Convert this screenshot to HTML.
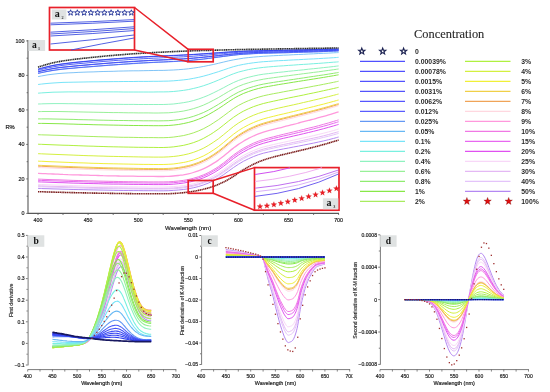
<!DOCTYPE html>
<html><head><meta charset="utf-8"><style>
html,body{margin:0;padding:0;background:#fff;}
svg{display:block;will-change:transform;}
</style></head><body>
<svg width="550" height="392" viewBox="0 0 550 392">
<rect width="550" height="392" fill="#fff"/>
<path d="M38.0 191.7C38.8 191.7 41.3 191.8 43.0 191.8C44.7 191.9 46.3 191.9 48.0 192.0C49.7 192.0 51.4 192.1 53.0 192.1C54.7 192.2 56.4 192.2 58.0 192.3C59.7 192.3 61.4 192.3 63.0 192.4C64.7 192.4 66.4 192.5 68.1 192.5C69.7 192.6 71.4 192.6 73.1 192.6C74.7 192.7 76.4 192.7 78.1 192.8C79.8 192.8 81.4 192.8 83.1 192.9C84.8 192.9 86.4 192.9 88.1 193.0C89.8 193.0 91.4 193.0 93.1 193.1C94.8 193.1 96.5 193.1 98.1 193.2C99.8 193.2 101.5 193.2 103.1 193.3C104.8 193.3 106.5 193.3 108.1 193.3C109.8 193.4 111.5 193.4 113.2 193.4C114.8 193.4 116.5 193.5 118.2 193.5C119.8 193.5 121.5 193.5 123.2 193.5C124.8 193.6 126.5 193.6 128.2 193.6C129.8 193.6 131.5 193.6 133.2 193.7C134.9 193.7 136.5 193.7 138.2 193.7C139.9 193.7 141.5 193.7 143.2 193.7C144.9 193.7 146.5 193.8 148.2 193.8C149.9 193.8 151.6 193.8 153.2 193.8C154.9 193.8 156.6 193.8 158.2 193.8C159.9 193.8 161.6 193.8 163.2 193.8C164.9 193.8 166.6 193.8 168.3 193.7C169.9 193.7 171.6 193.6 173.3 193.5C174.9 193.4 176.6 193.3 178.3 193.2C179.9 193.0 181.6 192.9 183.3 192.7C185.0 192.5 186.6 192.3 188.3 192.1C190.0 191.9 191.6 191.6 193.3 191.3C195.0 191.1 196.6 190.8 198.3 190.4C200.0 190.1 201.7 189.7 203.3 189.3C205.0 188.9 206.7 188.5 208.3 188.0C210.0 187.5 211.7 186.9 213.3 186.3C215.0 185.8 216.7 185.1 218.4 184.4C220.0 183.7 221.7 183.0 223.4 182.2C225.0 181.4 226.7 180.5 228.4 179.5C230.0 178.6 231.7 177.5 233.4 176.4C235.1 175.4 236.7 174.1 238.4 173.0C240.1 171.9 241.7 170.8 243.4 169.8C245.1 168.8 246.8 167.8 248.4 166.9C250.1 166.0 251.8 165.1 253.4 164.3C255.1 163.5 256.8 162.7 258.4 162.0C260.1 161.3 261.8 160.7 263.4 160.1C265.1 159.4 266.8 158.9 268.5 158.4C270.1 157.9 271.8 157.4 273.5 157.0C275.1 156.5 276.8 156.1 278.5 155.7C280.2 155.3 281.8 154.9 283.5 154.5C285.2 154.1 286.8 153.7 288.5 153.3C290.2 152.9 291.8 152.5 293.5 152.1C295.2 151.7 296.8 151.3 298.5 150.9C300.2 150.5 301.9 150.1 303.5 149.7C305.2 149.3 306.9 148.9 308.5 148.5C310.2 148.0 311.9 147.6 313.6 147.2C315.2 146.8 316.9 146.3 318.6 145.9C320.2 145.4 321.9 145.0 323.6 144.5C325.2 144.1 326.9 143.6 328.6 143.1C330.2 142.6 331.9 142.1 333.6 141.6C335.3 141.1 337.8 140.3 338.6 140.1" fill="none" stroke="#7a1c1c" stroke-width="1.60" stroke-dasharray="1.3 0.5"/>
<path d="M38.0 188.4C38.8 188.4 41.3 188.5 43.0 188.6C44.7 188.6 46.3 188.7 48.0 188.7C49.7 188.8 51.4 188.8 53.0 188.9C54.7 188.9 56.4 189.0 58.0 189.0C59.7 189.1 61.4 189.1 63.0 189.2C64.7 189.2 66.4 189.3 68.1 189.3C69.7 189.4 71.4 189.4 73.1 189.5C74.7 189.5 76.4 189.5 78.1 189.6C79.8 189.6 81.4 189.7 83.1 189.7C84.8 189.8 86.4 189.8 88.1 189.8C89.8 189.9 91.4 189.9 93.1 189.9C94.8 190.0 96.5 190.0 98.1 190.0C99.8 190.1 101.5 190.1 103.1 190.1C104.8 190.2 106.5 190.2 108.1 190.2C109.8 190.3 111.5 190.3 113.2 190.3C114.8 190.3 116.5 190.4 118.2 190.4C119.8 190.4 121.5 190.4 123.2 190.5C124.8 190.5 126.5 190.5 128.2 190.5C129.8 190.5 131.5 190.6 133.2 190.6C134.9 190.6 136.5 190.6 138.2 190.6C139.9 190.6 141.5 190.7 143.2 190.7C144.9 190.7 146.5 190.7 148.2 190.7C149.9 190.7 151.6 190.7 153.2 190.7C154.9 190.7 156.6 190.7 158.2 190.8C159.9 190.8 161.6 190.8 163.2 190.8C164.9 190.7 166.6 190.7 168.3 190.7C169.9 190.6 171.6 190.5 173.3 190.4C174.9 190.3 176.6 190.2 178.3 190.0C179.9 189.9 181.6 189.7 183.3 189.5C185.0 189.3 186.6 189.1 188.3 188.8C190.0 188.5 191.6 188.2 193.3 187.8C195.0 187.4 196.6 187.0 198.3 186.6C200.0 186.1 201.7 185.6 203.3 185.0C205.0 184.4 206.7 183.8 208.3 183.1C210.0 182.4 211.7 181.6 213.3 180.7C215.0 179.9 216.7 179.0 218.4 178.0C220.0 177.0 221.7 175.9 223.4 174.8C225.0 173.7 226.7 172.4 228.4 171.2C230.0 170.0 231.7 168.7 233.4 167.6C235.1 166.4 236.7 165.3 238.4 164.3C240.1 163.2 241.7 162.3 243.4 161.3C245.1 160.4 246.8 159.6 248.4 158.8C250.1 158.0 251.8 157.3 253.4 156.6C255.1 155.9 256.8 155.3 258.4 154.7C260.1 154.2 261.8 153.7 263.4 153.2C265.1 152.8 266.8 152.4 268.5 152.0C270.1 151.6 271.8 151.3 273.5 150.9C275.1 150.6 276.8 150.3 278.5 149.9C280.2 149.6 281.8 149.3 283.5 148.9C285.2 148.6 286.8 148.3 288.5 148.0C290.2 147.7 291.8 147.4 293.5 147.0C295.2 146.7 296.8 146.4 298.5 146.1C300.2 145.8 301.9 145.4 303.5 145.1C305.2 144.8 306.9 144.5 308.5 144.1C310.2 143.8 311.9 143.4 313.6 143.1C315.2 142.7 316.9 142.4 318.6 142.0C320.2 141.7 321.9 141.3 323.6 140.9C325.2 140.5 326.9 140.1 328.6 139.7C330.2 139.3 331.9 138.9 333.6 138.4C335.3 138.0 337.8 137.2 338.6 137.0" fill="none" stroke="#b488f2" stroke-width="1.00" />
<path d="M38.0 186.7C38.8 186.7 41.3 186.8 43.0 186.8C44.7 186.9 46.3 187.0 48.0 187.0C49.7 187.1 51.4 187.1 53.0 187.2C54.7 187.2 56.4 187.3 58.0 187.3C59.7 187.4 61.4 187.4 63.0 187.5C64.7 187.5 66.4 187.6 68.1 187.6C69.7 187.7 71.4 187.7 73.1 187.8C74.7 187.8 76.4 187.9 78.1 187.9C79.8 188.0 81.4 188.0 83.1 188.0C84.8 188.1 86.4 188.1 88.1 188.2C89.8 188.2 91.4 188.2 93.1 188.3C94.8 188.3 96.5 188.4 98.1 188.4C99.8 188.4 101.5 188.5 103.1 188.5C104.8 188.5 106.5 188.6 108.1 188.6C109.8 188.6 111.5 188.6 113.2 188.7C114.8 188.7 116.5 188.7 118.2 188.8C119.8 188.8 121.5 188.8 123.2 188.8C124.8 188.9 126.5 188.9 128.2 188.9C129.8 188.9 131.5 188.9 133.2 189.0C134.9 189.0 136.5 189.0 138.2 189.0C139.9 189.0 141.5 189.0 143.2 189.1C144.9 189.1 146.5 189.1 148.2 189.1C149.9 189.1 151.6 189.1 153.2 189.1C154.9 189.1 156.6 189.1 158.2 189.1C159.9 189.1 161.6 189.1 163.2 189.1C164.9 189.1 166.6 189.1 168.3 189.0C169.9 189.0 171.6 188.9 173.3 188.8C174.9 188.7 176.6 188.5 178.3 188.4C179.9 188.2 181.6 188.0 183.3 187.8C185.0 187.6 186.6 187.4 188.3 187.1C190.0 186.8 191.6 186.4 193.3 186.1C195.0 185.7 196.6 185.2 198.3 184.8C200.0 184.3 201.7 183.7 203.3 183.1C205.0 182.5 206.7 181.9 208.3 181.1C210.0 180.4 211.7 179.6 213.3 178.7C215.0 177.8 216.7 176.9 218.4 175.8C220.0 174.8 221.7 173.7 223.4 172.5C225.0 171.4 226.7 170.1 228.4 168.9C230.0 167.6 231.7 166.3 233.4 165.1C235.1 163.9 236.7 162.8 238.4 161.8C240.1 160.7 241.7 159.7 243.4 158.8C245.1 157.8 246.8 157.0 248.4 156.2C250.1 155.4 251.8 154.6 253.4 153.9C255.1 153.2 256.8 152.6 258.4 152.0C260.1 151.4 261.8 150.9 263.4 150.5C265.1 150.0 266.8 149.6 268.5 149.2C270.1 148.8 271.8 148.4 273.5 148.1C275.1 147.7 276.8 147.3 278.5 147.0C280.2 146.6 281.8 146.3 283.5 146.0C285.2 145.6 286.8 145.3 288.5 145.0C290.2 144.6 291.8 144.3 293.5 143.9C295.2 143.6 296.8 143.3 298.5 142.9C300.2 142.6 301.9 142.2 303.5 141.9C305.2 141.5 306.9 141.2 308.5 140.8C310.2 140.5 311.9 140.1 313.6 139.7C315.2 139.4 316.9 139.0 318.6 138.6C320.2 138.2 321.9 137.8 323.6 137.4C325.2 137.0 326.9 136.6 328.6 136.2C330.2 135.8 331.9 135.3 333.6 134.8C335.3 134.4 337.8 133.6 338.6 133.4" fill="none" stroke="#e4c4fa" stroke-width="1.00" />
<path d="M38.0 185.8C38.8 185.8 41.3 185.9 43.0 186.0C44.7 186.0 46.3 186.1 48.0 186.2C49.7 186.2 51.4 186.3 53.0 186.3C54.7 186.4 56.4 186.4 58.0 186.5C59.7 186.5 61.4 186.6 63.0 186.6C64.7 186.7 66.4 186.7 68.1 186.8C69.7 186.8 71.4 186.9 73.1 186.9C74.7 187.0 76.4 187.0 78.1 187.1C79.8 187.1 81.4 187.2 83.1 187.2C84.8 187.3 86.4 187.3 88.1 187.3C89.8 187.4 91.4 187.4 93.1 187.5C94.8 187.5 96.5 187.5 98.1 187.6C99.8 187.6 101.5 187.6 103.1 187.7C104.8 187.7 106.5 187.7 108.1 187.8C109.8 187.8 111.5 187.8 113.2 187.9C114.8 187.9 116.5 187.9 118.2 187.9C119.8 188.0 121.5 188.0 123.2 188.0C124.8 188.0 126.5 188.1 128.2 188.1C129.8 188.1 131.5 188.1 133.2 188.1C134.9 188.2 136.5 188.2 138.2 188.2C139.9 188.2 141.5 188.2 143.2 188.2C144.9 188.3 146.5 188.3 148.2 188.3C149.9 188.3 151.6 188.3 153.2 188.3C154.9 188.3 156.6 188.3 158.2 188.3C159.9 188.3 161.6 188.3 163.2 188.3C164.9 188.3 166.6 188.3 168.3 188.2C169.9 188.2 171.6 188.1 173.3 188.0C174.9 187.9 176.6 187.7 178.3 187.5C179.9 187.4 181.6 187.2 183.3 187.0C185.0 186.7 186.6 186.5 188.3 186.2C190.0 185.9 191.6 185.6 193.3 185.2C195.0 184.8 196.6 184.4 198.3 183.9C200.0 183.4 201.7 182.8 203.3 182.2C205.0 181.6 206.7 180.9 208.3 180.1C210.0 179.4 211.7 178.6 213.3 177.7C215.0 176.8 216.7 175.8 218.4 174.8C220.0 173.7 221.7 172.6 223.4 171.4C225.0 170.2 226.7 168.9 228.4 167.7C230.0 166.5 231.7 165.1 233.4 163.9C235.1 162.7 236.7 161.6 238.4 160.5C240.1 159.5 241.7 158.5 243.4 157.5C245.1 156.6 246.8 155.7 248.4 154.9C250.1 154.1 251.8 153.3 253.4 152.6C255.1 151.9 256.8 151.3 258.4 150.7C260.1 150.1 261.8 149.6 263.4 149.1C265.1 148.6 266.8 148.2 268.5 147.8C270.1 147.4 271.8 147.0 273.5 146.7C275.1 146.3 276.8 145.9 278.5 145.6C280.2 145.2 281.8 144.9 283.5 144.5C285.2 144.2 286.8 143.8 288.5 143.5C290.2 143.1 291.8 142.8 293.5 142.4C295.2 142.1 296.8 141.7 298.5 141.4C300.2 141.0 301.9 140.7 303.5 140.3C305.2 140.0 306.9 139.6 308.5 139.2C310.2 138.9 311.9 138.5 313.6 138.1C315.2 137.7 316.9 137.4 318.6 137.0C320.2 136.6 321.9 136.2 323.6 135.8C325.2 135.4 326.9 134.9 328.6 134.5C330.2 134.1 331.9 133.6 333.6 133.1C335.3 132.7 337.8 131.9 338.6 131.7" fill="none" stroke="#e4b8f4" stroke-width="1.00" />
<path d="M38.0 184.4C38.8 184.5 41.3 184.5 43.0 184.6C44.7 184.7 46.3 184.7 48.0 184.8C49.7 184.8 51.4 184.9 53.0 185.0C54.7 185.0 56.4 185.1 58.0 185.1C59.7 185.2 61.4 185.2 63.0 185.3C64.7 185.3 66.4 185.4 68.1 185.4C69.7 185.5 71.4 185.5 73.1 185.6C74.7 185.6 76.4 185.7 78.1 185.7C79.8 185.8 81.4 185.8 83.1 185.9C84.8 185.9 86.4 186.0 88.1 186.0C89.8 186.0 91.4 186.1 93.1 186.1C94.8 186.2 96.5 186.2 98.1 186.2C99.8 186.3 101.5 186.3 103.1 186.3C104.8 186.4 106.5 186.4 108.1 186.4C109.8 186.5 111.5 186.5 113.2 186.5C114.8 186.6 116.5 186.6 118.2 186.6C119.8 186.7 121.5 186.7 123.2 186.7C124.8 186.7 126.5 186.7 128.2 186.8C129.8 186.8 131.5 186.8 133.2 186.8C134.9 186.9 136.5 186.9 138.2 186.9C139.9 186.9 141.5 186.9 143.2 186.9C144.9 186.9 146.5 187.0 148.2 187.0C149.9 187.0 151.6 187.0 153.2 187.0C154.9 187.0 156.6 187.0 158.2 187.0C159.9 187.0 161.6 187.0 163.2 187.0C164.9 187.0 166.6 187.0 168.3 186.9C169.9 186.9 171.6 186.8 173.3 186.6C174.9 186.5 176.6 186.4 178.3 186.2C179.9 186.0 181.6 185.9 183.3 185.6C185.0 185.4 186.6 185.1 188.3 184.8C190.0 184.5 191.6 184.2 193.3 183.8C195.0 183.4 196.6 182.9 198.3 182.4C200.0 181.9 201.7 181.3 203.3 180.7C205.0 180.1 206.7 179.4 208.3 178.6C210.0 177.8 211.7 177.0 213.3 176.0C215.0 175.1 216.7 174.1 218.4 173.1C220.0 172.0 221.7 170.9 223.4 169.7C225.0 168.5 226.7 167.1 228.4 165.9C230.0 164.6 231.7 163.3 233.4 162.0C235.1 160.8 236.7 159.7 238.4 158.6C240.1 157.5 241.7 156.5 243.4 155.5C245.1 154.6 246.8 153.7 248.4 152.9C250.1 152.1 251.8 151.3 253.4 150.6C255.1 149.9 256.8 149.2 258.4 148.6C260.1 148.0 261.8 147.5 263.4 147.0C265.1 146.5 266.8 146.1 268.5 145.7C270.1 145.3 271.8 144.9 273.5 144.5C275.1 144.1 276.8 143.7 278.5 143.4C280.2 143.0 281.8 142.6 283.5 142.3C285.2 141.9 286.8 141.6 288.5 141.2C290.2 140.8 291.8 140.5 293.5 140.1C295.2 139.8 296.8 139.4 298.5 139.0C300.2 138.7 301.9 138.3 303.5 137.9C305.2 137.6 306.9 137.2 308.5 136.8C310.2 136.4 311.9 136.0 313.6 135.6C315.2 135.2 316.9 134.9 318.6 134.4C320.2 134.0 321.9 133.6 323.6 133.2C325.2 132.8 326.9 132.3 328.6 131.9C330.2 131.4 331.9 131.0 333.6 130.5C335.3 130.0 337.8 129.3 338.6 129.0" fill="none" stroke="#f8d8f8" stroke-width="1.00" />
<path d="M38.0 181.8C38.8 181.9 41.3 182.0 43.0 182.0C44.7 182.1 46.3 182.1 48.0 182.2C49.7 182.3 51.4 182.3 53.0 182.4C54.7 182.5 56.4 182.5 58.0 182.6C59.7 182.6 61.4 182.7 63.0 182.7C64.7 182.8 66.4 182.9 68.1 182.9C69.7 183.0 71.4 183.0 73.1 183.1C74.7 183.1 76.4 183.2 78.1 183.2C79.8 183.3 81.4 183.3 83.1 183.4C84.8 183.4 86.4 183.4 88.1 183.5C89.8 183.5 91.4 183.6 93.1 183.6C94.8 183.7 96.5 183.7 98.1 183.7C99.8 183.8 101.5 183.8 103.1 183.9C104.8 183.9 106.5 183.9 108.1 184.0C109.8 184.0 111.5 184.0 113.2 184.1C114.8 184.1 116.5 184.1 118.2 184.1C119.8 184.2 121.5 184.2 123.2 184.2C124.8 184.3 126.5 184.3 128.2 184.3C129.8 184.3 131.5 184.4 133.2 184.4C134.9 184.4 136.5 184.4 138.2 184.4C139.9 184.4 141.5 184.5 143.2 184.5C144.9 184.5 146.5 184.5 148.2 184.5C149.9 184.5 151.6 184.5 153.2 184.6C154.9 184.6 156.6 184.6 158.2 184.6C159.9 184.6 161.6 184.6 163.2 184.6C164.9 184.6 166.6 184.5 168.3 184.5C169.9 184.4 171.6 184.3 173.3 184.2C174.9 184.1 176.6 183.9 178.3 183.7C179.9 183.5 181.6 183.3 183.3 183.1C185.0 182.8 186.6 182.6 188.3 182.2C190.0 181.9 191.6 181.6 193.3 181.1C195.0 180.7 196.6 180.2 198.3 179.7C200.0 179.2 201.7 178.6 203.3 177.9C205.0 177.2 206.7 176.5 208.3 175.7C210.0 174.9 211.7 174.0 213.3 173.0C215.0 172.1 216.7 171.0 218.4 169.9C220.0 168.8 221.7 167.6 223.4 166.4C225.0 165.2 226.7 163.8 228.4 162.5C230.0 161.2 231.7 159.8 233.4 158.6C235.1 157.4 236.7 156.2 238.4 155.1C240.1 154.0 241.7 152.9 243.4 152.0C245.1 151.0 246.8 150.1 248.4 149.3C250.1 148.4 251.8 147.6 253.4 146.9C255.1 146.2 256.8 145.5 258.4 144.9C260.1 144.3 261.8 143.8 263.4 143.3C265.1 142.8 266.8 142.3 268.5 141.9C270.1 141.4 271.8 141.0 273.5 140.6C275.1 140.2 276.8 139.8 278.5 139.5C280.2 139.1 281.8 138.7 283.5 138.3C285.2 137.9 286.8 137.5 288.5 137.2C290.2 136.8 291.8 136.4 293.5 136.0C295.2 135.6 296.8 135.2 298.5 134.9C300.2 134.5 301.9 134.1 303.5 133.7C305.2 133.3 306.9 132.9 308.5 132.5C310.2 132.1 311.9 131.7 313.6 131.3C315.2 130.9 316.9 130.4 318.6 130.0C320.2 129.6 321.9 129.1 323.6 128.7C325.2 128.3 326.9 127.8 328.6 127.3C330.2 126.9 331.9 126.4 333.6 125.9C335.3 125.4 337.8 124.6 338.6 124.4" fill="none" stroke="#e050f0" stroke-width="1.00" />
<path d="M38.0 180.3C38.8 180.3 41.3 180.4 43.0 180.5C44.7 180.5 46.3 180.6 48.0 180.7C49.7 180.7 51.4 180.8 53.0 180.9C54.7 180.9 56.4 181.0 58.0 181.0C59.7 181.1 61.4 181.2 63.0 181.2C64.7 181.3 66.4 181.3 68.1 181.4C69.7 181.4 71.4 181.5 73.1 181.5C74.7 181.6 76.4 181.6 78.1 181.7C79.8 181.7 81.4 181.8 83.1 181.8C84.8 181.9 86.4 181.9 88.1 182.0C89.8 182.0 91.4 182.1 93.1 182.1C94.8 182.2 96.5 182.2 98.1 182.2C99.8 182.3 101.5 182.3 103.1 182.4C104.8 182.4 106.5 182.4 108.1 182.5C109.8 182.5 111.5 182.5 113.2 182.6C114.8 182.6 116.5 182.6 118.2 182.7C119.8 182.7 121.5 182.7 123.2 182.7C124.8 182.8 126.5 182.8 128.2 182.8C129.8 182.8 131.5 182.9 133.2 182.9C134.9 182.9 136.5 182.9 138.2 182.9C139.9 183.0 141.5 183.0 143.2 183.0C144.9 183.0 146.5 183.0 148.2 183.0C149.9 183.1 151.6 183.1 153.2 183.1C154.9 183.1 156.6 183.1 158.2 183.1C159.9 183.1 161.6 183.1 163.2 183.1C164.9 183.1 166.6 183.1 168.3 183.0C169.9 182.9 171.6 182.8 173.3 182.7C174.9 182.6 176.6 182.4 178.3 182.2C179.9 182.0 181.6 181.8 183.3 181.6C185.0 181.3 186.6 181.0 188.3 180.7C190.0 180.4 191.6 180.0 193.3 179.5C195.0 179.1 196.6 178.6 198.3 178.1C200.0 177.5 201.7 176.9 203.3 176.2C205.0 175.5 206.7 174.8 208.3 174.0C210.0 173.1 211.7 172.2 213.3 171.2C215.0 170.3 216.7 169.2 218.4 168.1C220.0 167.0 221.7 165.8 223.4 164.5C225.0 163.2 226.7 161.9 228.4 160.6C230.0 159.2 231.7 157.8 233.4 156.6C235.1 155.3 236.7 154.1 238.4 153.0C240.1 151.9 241.7 150.9 243.4 149.9C245.1 148.9 246.8 148.0 248.4 147.2C250.1 146.3 251.8 145.5 253.4 144.8C255.1 144.1 256.8 143.4 258.4 142.8C260.1 142.2 261.8 141.6 263.4 141.1C265.1 140.6 266.8 140.1 268.5 139.7C270.1 139.2 271.8 138.8 273.5 138.4C275.1 138.0 276.8 137.6 278.5 137.2C280.2 136.8 281.8 136.4 283.5 136.0C285.2 135.6 286.8 135.2 288.5 134.9C290.2 134.5 291.8 134.1 293.5 133.7C295.2 133.3 296.8 132.9 298.5 132.5C300.2 132.1 301.9 131.7 303.5 131.3C305.2 130.9 306.9 130.5 308.5 130.1C310.2 129.6 311.9 129.2 313.6 128.8C315.2 128.4 316.9 128.0 318.6 127.5C320.2 127.1 321.9 126.6 323.6 126.2C325.2 125.7 326.9 125.3 328.6 124.8C330.2 124.3 331.9 123.8 333.6 123.3C335.3 122.8 337.8 122.0 338.6 121.8" fill="none" stroke="#e868f0" stroke-width="1.00" />
<path d="M38.0 179.1C38.8 179.1 41.3 179.2 43.0 179.3C44.7 179.3 46.3 179.4 48.0 179.5C49.7 179.5 51.4 179.6 53.0 179.7C54.7 179.7 56.4 179.8 58.0 179.8C59.7 179.9 61.4 180.0 63.0 180.0C64.7 180.1 66.4 180.1 68.1 180.2C69.7 180.2 71.4 180.3 73.1 180.4C74.7 180.4 76.4 180.5 78.1 180.5C79.8 180.6 81.4 180.6 83.1 180.7C84.8 180.7 86.4 180.8 88.1 180.8C89.8 180.9 91.4 180.9 93.1 180.9C94.8 181.0 96.5 181.0 98.1 181.1C99.8 181.1 101.5 181.2 103.1 181.2C104.8 181.2 106.5 181.3 108.1 181.3C109.8 181.3 111.5 181.4 113.2 181.4C114.8 181.4 116.5 181.5 118.2 181.5C119.8 181.5 121.5 181.6 123.2 181.6C124.8 181.6 126.5 181.6 128.2 181.7C129.8 181.7 131.5 181.7 133.2 181.7C134.9 181.8 136.5 181.8 138.2 181.8C139.9 181.8 141.5 181.8 143.2 181.8C144.9 181.9 146.5 181.9 148.2 181.9C149.9 181.9 151.6 181.9 153.2 181.9C154.9 181.9 156.6 181.9 158.2 181.9C159.9 181.9 161.6 182.0 163.2 181.9C164.9 181.9 166.6 181.9 168.3 181.8C169.9 181.8 171.6 181.7 173.3 181.5C174.9 181.4 176.6 181.2 178.3 181.0C179.9 180.9 181.6 180.6 183.3 180.4C185.0 180.1 186.6 179.8 188.3 179.5C190.0 179.1 191.6 178.8 193.3 178.3C195.0 177.9 196.6 177.4 198.3 176.8C200.0 176.2 201.7 175.6 203.3 174.9C205.0 174.2 206.7 173.5 208.3 172.6C210.0 171.8 211.7 170.8 213.3 169.8C215.0 168.9 216.7 167.8 218.4 166.7C220.0 165.5 221.7 164.3 223.4 163.0C225.0 161.8 226.7 160.4 228.4 159.0C230.0 157.7 231.7 156.3 233.4 155.0C235.1 153.8 236.7 152.6 238.4 151.5C240.1 150.3 241.7 149.3 243.4 148.3C245.1 147.3 246.8 146.4 248.4 145.6C250.1 144.7 251.8 143.9 253.4 143.2C255.1 142.5 256.8 141.8 258.4 141.2C260.1 140.5 261.8 140.0 263.4 139.5C265.1 138.9 266.8 138.5 268.5 138.0C270.1 137.6 271.8 137.2 273.5 136.8C275.1 136.3 276.8 135.9 278.5 135.5C280.2 135.1 281.8 134.7 283.5 134.3C285.2 133.9 286.8 133.5 288.5 133.1C290.2 132.7 291.8 132.3 293.5 131.9C295.2 131.5 296.8 131.1 298.5 130.7C300.2 130.3 301.9 129.9 303.5 129.5C305.2 129.1 306.9 128.7 308.5 128.2C310.2 127.8 311.9 127.4 313.6 127.0C315.2 126.5 316.9 126.1 318.6 125.7C320.2 125.2 321.9 124.8 323.6 124.3C325.2 123.8 326.9 123.4 328.6 122.9C330.2 122.4 331.9 121.9 333.6 121.4C335.3 120.9 337.8 120.1 338.6 119.9" fill="none" stroke="#f078e4" stroke-width="1.00" />
<path d="M38.0 173.4C38.8 173.4 41.3 173.5 43.0 173.6C44.7 173.7 46.3 173.7 48.0 173.8C49.7 173.9 51.4 173.9 53.0 174.0C54.7 174.1 56.4 174.1 58.0 174.2C59.7 174.3 61.4 174.3 63.0 174.4C64.7 174.4 66.4 174.5 68.1 174.6C69.7 174.6 71.4 174.7 73.1 174.8C74.7 174.8 76.4 174.9 78.1 174.9C79.8 175.0 81.4 175.0 83.1 175.1C84.8 175.1 86.4 175.2 88.1 175.2C89.8 175.3 91.4 175.3 93.1 175.4C94.8 175.4 96.5 175.5 98.1 175.5C99.8 175.6 101.5 175.6 103.1 175.7C104.8 175.7 106.5 175.7 108.1 175.8C109.8 175.8 111.5 175.8 113.2 175.9C114.8 175.9 116.5 176.0 118.2 176.0C119.8 176.0 121.5 176.1 123.2 176.1C124.8 176.1 126.5 176.1 128.2 176.2C129.8 176.2 131.5 176.2 133.2 176.2C134.9 176.3 136.5 176.3 138.2 176.3C139.9 176.3 141.5 176.3 143.2 176.4C144.9 176.4 146.5 176.4 148.2 176.4C149.9 176.4 151.6 176.4 153.2 176.4C154.9 176.5 156.6 176.5 158.2 176.5C159.9 176.5 161.6 176.5 163.2 176.5C164.9 176.4 166.6 176.4 168.3 176.3C169.9 176.3 171.6 176.2 173.3 176.0C174.9 175.9 176.6 175.7 178.3 175.5C179.9 175.3 181.6 175.0 183.3 174.8C185.0 174.5 186.6 174.2 188.3 173.8C190.0 173.4 191.6 173.0 193.3 172.5C195.0 172.0 196.6 171.5 198.3 170.9C200.0 170.3 201.7 169.6 203.3 168.8C205.0 168.1 206.7 167.3 208.3 166.4C210.0 165.5 211.7 164.5 213.3 163.4C215.0 162.4 216.7 161.3 218.4 160.1C220.0 158.9 221.7 157.6 223.4 156.3C225.0 155.0 226.7 153.5 228.4 152.2C230.0 150.8 231.7 149.3 233.4 148.1C235.1 146.8 236.7 145.6 238.4 144.4C240.1 143.3 241.7 142.2 243.4 141.2C245.1 140.2 246.8 139.3 248.4 138.4C250.1 137.6 251.8 136.8 253.4 136.0C255.1 135.3 256.8 134.6 258.4 133.9C260.1 133.3 261.8 132.7 263.4 132.2C265.1 131.7 266.8 131.2 268.5 130.7C270.1 130.3 271.8 129.8 273.5 129.4C275.1 129.0 276.8 128.5 278.5 128.1C280.2 127.7 281.8 127.3 283.5 126.8C285.2 126.4 286.8 126.0 288.5 125.6C290.2 125.2 291.8 124.7 293.5 124.3C295.2 123.9 296.8 123.5 298.5 123.0C300.2 122.6 301.9 122.2 303.5 121.7C305.2 121.3 306.9 120.9 308.5 120.4C310.2 120.0 311.9 119.5 313.6 119.1C315.2 118.6 316.9 118.2 318.6 117.7C320.2 117.2 321.9 116.8 323.6 116.3C325.2 115.8 326.9 115.3 328.6 114.8C330.2 114.3 331.9 113.8 333.6 113.3C335.3 112.8 337.8 112.0 338.6 111.8" fill="none" stroke="#ff98dc" stroke-width="1.30" />
<path d="M38.0 167.5C38.8 167.6 41.3 167.7 43.0 167.7C44.7 167.8 46.3 167.9 48.0 167.9C49.7 168.0 51.4 168.1 53.0 168.1C54.7 168.2 56.4 168.3 58.0 168.4C59.7 168.4 61.4 168.5 63.0 168.6C64.7 168.6 66.4 168.7 68.1 168.8C69.7 168.8 71.4 168.9 73.1 168.9C74.7 169.0 76.4 169.1 78.1 169.1C79.8 169.2 81.4 169.2 83.1 169.3C84.8 169.3 86.4 169.4 88.1 169.5C89.8 169.5 91.4 169.6 93.1 169.6C94.8 169.7 96.5 169.7 98.1 169.8C99.8 169.8 101.5 169.8 103.1 169.9C104.8 169.9 106.5 170.0 108.1 170.0C109.8 170.1 111.5 170.1 113.2 170.1C114.8 170.2 116.5 170.2 118.2 170.3C119.8 170.3 121.5 170.3 123.2 170.4C124.8 170.4 126.5 170.4 128.2 170.4C129.8 170.5 131.5 170.5 133.2 170.5C134.9 170.5 136.5 170.6 138.2 170.6C139.9 170.6 141.5 170.6 143.2 170.7C144.9 170.7 146.5 170.7 148.2 170.7C149.9 170.7 151.6 170.7 153.2 170.7C154.9 170.8 156.6 170.8 158.2 170.8C159.9 170.8 161.6 170.8 163.2 170.8C164.9 170.7 166.6 170.7 168.3 170.6C169.9 170.5 171.6 170.4 173.3 170.3C174.9 170.1 176.6 169.9 178.3 169.7C179.9 169.5 181.6 169.2 183.3 168.9C185.0 168.6 186.6 168.3 188.3 167.9C190.0 167.5 191.6 167.0 193.3 166.5C195.0 166.0 196.6 165.4 198.3 164.8C200.0 164.1 201.7 163.4 203.3 162.6C205.0 161.9 206.7 161.0 208.3 160.0C210.0 159.1 211.7 158.1 213.3 157.0C215.0 155.9 216.7 154.7 218.4 153.5C220.0 152.3 221.7 151.0 223.4 149.6C225.0 148.3 226.7 146.8 228.4 145.4C230.0 144.0 231.7 142.6 233.4 141.3C235.1 140.0 236.7 138.8 238.4 137.6C240.1 136.5 241.7 135.4 243.4 134.4C245.1 133.5 246.8 132.5 248.4 131.7C250.1 130.8 251.8 130.0 253.4 129.3C255.1 128.6 256.8 127.9 258.4 127.3C260.1 126.6 261.8 126.1 263.4 125.5C265.1 125.0 266.8 124.6 268.5 124.1C270.1 123.7 271.8 123.2 273.5 122.8C275.1 122.4 276.8 121.9 278.5 121.5C280.2 121.1 281.8 120.7 283.5 120.3C285.2 119.9 286.8 119.5 288.5 119.0C290.2 118.6 291.8 118.2 293.5 117.8C295.2 117.4 296.8 117.0 298.5 116.5C300.2 116.1 301.9 115.7 303.5 115.3C305.2 114.8 306.9 114.4 308.5 114.0C310.2 113.6 311.9 113.1 313.6 112.7C315.2 112.2 316.9 111.8 318.6 111.4C320.2 110.9 321.9 110.5 323.6 110.0C325.2 109.5 326.9 109.1 328.6 108.6C330.2 108.1 331.9 107.6 333.6 107.1C335.3 106.7 337.8 105.9 338.6 105.6" fill="none" stroke="#ffd8e0" stroke-width="1.00" />
<path d="M38.0 166.1C38.8 166.2 41.3 166.3 43.0 166.3C44.7 166.4 46.3 166.5 48.0 166.6C49.7 166.6 51.4 166.7 53.0 166.8C54.7 166.8 56.4 166.9 58.0 167.0C59.7 167.0 61.4 167.1 63.0 167.2C64.7 167.2 66.4 167.3 68.1 167.4C69.7 167.4 71.4 167.5 73.1 167.6C74.7 167.6 76.4 167.7 78.1 167.7C79.8 167.8 81.4 167.9 83.1 167.9C84.8 168.0 86.4 168.0 88.1 168.1C89.8 168.1 91.4 168.2 93.1 168.2C94.8 168.3 96.5 168.3 98.1 168.4C99.8 168.4 101.5 168.5 103.1 168.5C104.8 168.6 106.5 168.6 108.1 168.7C109.8 168.7 111.5 168.7 113.2 168.8C114.8 168.8 116.5 168.9 118.2 168.9C119.8 168.9 121.5 169.0 123.2 169.0C124.8 169.0 126.5 169.1 128.2 169.1C129.8 169.1 131.5 169.1 133.2 169.2C134.9 169.2 136.5 169.2 138.2 169.2C139.9 169.3 141.5 169.3 143.2 169.3C144.9 169.3 146.5 169.3 148.2 169.4C149.9 169.4 151.6 169.4 153.2 169.4C154.9 169.4 156.6 169.4 158.2 169.4C159.9 169.4 161.6 169.4 163.2 169.4C164.9 169.4 166.6 169.4 168.3 169.3C169.9 169.2 171.6 169.1 173.3 168.9C174.9 168.8 176.6 168.6 178.3 168.3C179.9 168.1 181.6 167.8 183.3 167.5C185.0 167.2 186.6 166.9 188.3 166.5C190.0 166.1 191.6 165.6 193.3 165.1C195.0 164.6 196.6 164.0 198.3 163.4C200.0 162.7 201.7 162.0 203.3 161.2C205.0 160.4 206.7 159.5 208.3 158.6C210.0 157.6 211.7 156.6 213.3 155.5C215.0 154.4 216.7 153.2 218.4 152.0C220.0 150.8 221.7 149.4 223.4 148.1C225.0 146.7 226.7 145.3 228.4 143.9C230.0 142.5 231.7 141.0 233.4 139.7C235.1 138.4 236.7 137.2 238.4 136.1C240.1 135.0 241.7 133.9 243.4 132.9C245.1 131.9 246.8 131.0 248.4 130.2C250.1 129.3 251.8 128.5 253.4 127.8C255.1 127.1 256.8 126.4 258.4 125.8C260.1 125.1 261.8 124.6 263.4 124.1C265.1 123.5 266.8 123.1 268.5 122.6C270.1 122.2 271.8 121.8 273.5 121.3C275.1 120.9 276.8 120.5 278.5 120.1C280.2 119.7 281.8 119.3 283.5 118.8C285.2 118.4 286.8 118.0 288.5 117.6C290.2 117.2 291.8 116.8 293.5 116.4C295.2 116.0 296.8 115.6 298.5 115.1C300.2 114.7 301.9 114.3 303.5 113.9C305.2 113.5 306.9 113.0 308.5 112.6C310.2 112.2 311.9 111.8 313.6 111.3C315.2 110.9 316.9 110.4 318.6 110.0C320.2 109.6 321.9 109.1 323.6 108.7C325.2 108.2 326.9 107.7 328.6 107.3C330.2 106.8 331.9 106.3 333.6 105.8C335.3 105.4 337.8 104.6 338.6 104.4" fill="none" stroke="#f0a458" stroke-width="1.00" />
<path d="M38.0 165.3C38.8 165.3 41.3 165.4 43.0 165.5C44.7 165.6 46.3 165.6 48.0 165.7C49.7 165.8 51.4 165.8 53.0 165.9C54.7 166.0 56.4 166.0 58.0 166.1C59.7 166.2 61.4 166.3 63.0 166.3C64.7 166.4 66.4 166.5 68.1 166.5C69.7 166.6 71.4 166.6 73.1 166.7C74.7 166.8 76.4 166.8 78.1 166.9C79.8 167.0 81.4 167.0 83.1 167.1C84.8 167.1 86.4 167.2 88.1 167.2C89.8 167.3 91.4 167.3 93.1 167.4C94.8 167.4 96.5 167.5 98.1 167.5C99.8 167.6 101.5 167.6 103.1 167.7C104.8 167.7 106.5 167.8 108.1 167.8C109.8 167.9 111.5 167.9 113.2 167.9C114.8 168.0 116.5 168.0 118.2 168.0C119.8 168.1 121.5 168.1 123.2 168.1C124.8 168.2 126.5 168.2 128.2 168.2C129.8 168.3 131.5 168.3 133.2 168.3C134.9 168.3 136.5 168.4 138.2 168.4C139.9 168.4 141.5 168.4 143.2 168.5C144.9 168.5 146.5 168.5 148.2 168.5C149.9 168.5 151.6 168.5 153.2 168.5C154.9 168.6 156.6 168.6 158.2 168.6C159.9 168.6 161.6 168.6 163.2 168.6C164.9 168.5 166.6 168.5 168.3 168.4C169.9 168.3 171.6 168.2 173.3 168.1C174.9 167.9 176.6 167.7 178.3 167.5C179.9 167.2 181.6 167.0 183.3 166.7C185.0 166.4 186.6 166.0 188.3 165.6C190.0 165.2 191.6 164.8 193.3 164.2C195.0 163.7 196.6 163.1 198.3 162.5C200.0 161.8 201.7 161.1 203.3 160.3C205.0 159.5 206.7 158.6 208.3 157.7C210.0 156.7 211.7 155.7 213.3 154.6C215.0 153.5 216.7 152.3 218.4 151.0C220.0 149.8 221.7 148.5 223.4 147.1C225.0 145.8 226.7 144.3 228.4 142.9C230.0 141.5 231.7 140.1 233.4 138.8C235.1 137.5 236.7 136.3 238.4 135.1C240.1 134.0 241.7 133.0 243.4 132.0C245.1 131.0 246.8 130.1 248.4 129.2C250.1 128.4 251.8 127.6 253.4 126.9C255.1 126.1 256.8 125.5 258.4 124.8C260.1 124.2 261.8 123.7 263.4 123.2C265.1 122.6 266.8 122.2 268.5 121.7C270.1 121.3 271.8 120.9 273.5 120.4C275.1 120.0 276.8 119.6 278.5 119.2C280.2 118.8 281.8 118.4 283.5 118.0C285.2 117.5 286.8 117.1 288.5 116.7C290.2 116.3 291.8 115.9 293.5 115.5C295.2 115.1 296.8 114.7 298.5 114.3C300.2 113.9 301.9 113.4 303.5 113.0C305.2 112.6 306.9 112.2 308.5 111.8C310.2 111.3 311.9 110.9 313.6 110.5C315.2 110.0 316.9 109.6 318.6 109.2C320.2 108.7 321.9 108.3 323.6 107.8C325.2 107.4 326.9 106.9 328.6 106.5C330.2 106.0 331.9 105.5 333.6 105.0C335.3 104.6 337.8 103.8 338.6 103.6" fill="none" stroke="#f0d048" stroke-width="1.00" />
<path d="M38.0 161.1C38.8 161.2 41.3 161.3 43.0 161.3C44.7 161.4 46.3 161.5 48.0 161.6C49.7 161.6 51.4 161.7 53.0 161.8C54.7 161.8 56.4 161.9 58.0 162.0C59.7 162.0 61.4 162.1 63.0 162.2C64.7 162.2 66.4 162.3 68.1 162.4C69.7 162.4 71.4 162.5 73.1 162.6C74.7 162.6 76.4 162.7 78.1 162.8C79.8 162.8 81.4 162.9 83.1 162.9C84.8 163.0 86.4 163.1 88.1 163.1C89.8 163.2 91.4 163.2 93.1 163.3C94.8 163.3 96.5 163.4 98.1 163.4C99.8 163.5 101.5 163.5 103.1 163.6C104.8 163.6 106.5 163.7 108.1 163.7C109.8 163.7 111.5 163.8 113.2 163.8C114.8 163.9 116.5 163.9 118.2 163.9C119.8 164.0 121.5 164.0 123.2 164.0C124.8 164.1 126.5 164.1 128.2 164.1C129.8 164.2 131.5 164.2 133.2 164.2C134.9 164.3 136.5 164.3 138.2 164.3C139.9 164.3 141.5 164.3 143.2 164.4C144.9 164.4 146.5 164.4 148.2 164.4C149.9 164.4 151.6 164.4 153.2 164.5C154.9 164.5 156.6 164.5 158.2 164.5C159.9 164.5 161.6 164.5 163.2 164.5C164.9 164.5 166.6 164.4 168.3 164.3C169.9 164.2 171.6 164.1 173.3 164.0C174.9 163.8 176.6 163.6 178.3 163.3C179.9 163.1 181.6 162.8 183.3 162.5C185.0 162.2 186.6 161.9 188.3 161.4C190.0 161.0 191.6 160.5 193.3 160.0C195.0 159.5 196.6 158.9 198.3 158.2C200.0 157.5 201.7 156.8 203.3 156.0C205.0 155.1 206.7 154.2 208.3 153.3C210.0 152.3 211.7 151.2 213.3 150.1C215.0 149.0 216.7 147.8 218.4 146.6C220.0 145.3 221.7 144.0 223.4 142.6C225.0 141.3 226.7 139.8 228.4 138.4C230.0 137.0 231.7 135.6 233.4 134.3C235.1 133.0 236.7 131.8 238.4 130.7C240.1 129.6 241.7 128.5 243.4 127.6C245.1 126.6 246.8 125.7 248.4 124.9C250.1 124.0 251.8 123.3 253.4 122.6C255.1 121.8 256.8 121.2 258.4 120.6C260.1 120.0 261.8 119.4 263.4 118.9C265.1 118.4 266.8 118.0 268.5 117.5C270.1 117.1 271.8 116.7 273.5 116.3C275.1 115.8 276.8 115.4 278.5 115.0C280.2 114.6 281.8 114.2 283.5 113.9C285.2 113.5 286.8 113.1 288.5 112.7C290.2 112.3 291.8 111.9 293.5 111.5C295.2 111.1 296.8 110.7 298.5 110.3C300.2 109.9 301.9 109.5 303.5 109.1C305.2 108.7 306.9 108.3 308.5 107.8C310.2 107.4 311.9 107.0 313.6 106.6C315.2 106.2 316.9 105.8 318.6 105.3C320.2 104.9 321.9 104.5 323.6 104.1C325.2 103.6 326.9 103.2 328.6 102.7C330.2 102.3 331.9 101.8 333.6 101.4C335.3 100.9 337.8 100.2 338.6 100.0" fill="none" stroke="#f0f038" stroke-width="1.00" />
<path d="M38.0 153.7C38.8 153.7 41.3 153.8 43.0 153.9C44.7 154.0 46.3 154.0 48.0 154.1C49.7 154.2 51.4 154.3 53.0 154.3C54.7 154.4 56.4 154.5 58.0 154.5C59.7 154.6 61.4 154.7 63.0 154.7C64.7 154.8 66.4 154.9 68.1 154.9C69.7 155.0 71.4 155.1 73.1 155.1C74.7 155.2 76.4 155.3 78.1 155.3C79.8 155.4 81.4 155.4 83.1 155.5C84.8 155.6 86.4 155.6 88.1 155.7C89.8 155.7 91.4 155.8 93.1 155.8C94.8 155.9 96.5 156.0 98.1 156.0C99.8 156.1 101.5 156.1 103.1 156.1C104.8 156.2 106.5 156.2 108.1 156.3C109.8 156.3 111.5 156.4 113.2 156.4C114.8 156.5 116.5 156.5 118.2 156.5C119.8 156.6 121.5 156.6 123.2 156.6C124.8 156.7 126.5 156.7 128.2 156.7C129.8 156.8 131.5 156.8 133.2 156.8C134.9 156.8 136.5 156.9 138.2 156.9C139.9 156.9 141.5 156.9 143.2 157.0C144.9 157.0 146.5 157.0 148.2 157.0C149.9 157.0 151.6 157.0 153.2 157.1C154.9 157.1 156.6 157.1 158.2 157.1C159.9 157.1 161.6 157.1 163.2 157.1C164.9 157.0 166.6 157.0 168.3 156.9C169.9 156.8 171.6 156.7 173.3 156.5C174.9 156.4 176.6 156.1 178.3 155.9C179.9 155.6 181.6 155.4 183.3 155.0C185.0 154.7 186.6 154.3 188.3 153.9C190.0 153.5 191.6 153.0 193.3 152.4C195.0 151.8 196.6 151.2 198.3 150.5C200.0 149.8 201.7 149.1 203.3 148.3C205.0 147.4 206.7 146.5 208.3 145.5C210.0 144.5 211.7 143.4 213.3 142.3C215.0 141.2 216.7 140.0 218.4 138.8C220.0 137.5 221.7 136.2 223.4 134.8C225.0 133.5 226.7 132.0 228.4 130.7C230.0 129.3 231.7 127.9 233.4 126.6C235.1 125.4 236.7 124.2 238.4 123.1C240.1 122.0 241.7 121.0 243.4 120.1C245.1 119.2 246.8 118.3 248.4 117.5C250.1 116.7 251.8 116.0 253.4 115.3C255.1 114.6 256.8 114.0 258.4 113.4C260.1 112.8 261.8 112.3 263.4 111.8C265.1 111.3 266.8 110.9 268.5 110.5C270.1 110.1 271.8 109.7 273.5 109.3C275.1 108.9 276.8 108.5 278.5 108.1C280.2 107.8 281.8 107.4 283.5 107.0C285.2 106.6 286.8 106.3 288.5 105.9C290.2 105.5 291.8 105.2 293.5 104.8C295.2 104.4 296.8 104.0 298.5 103.7C300.2 103.3 301.9 102.9 303.5 102.5C305.2 102.1 306.9 101.8 308.5 101.4C310.2 101.0 311.9 100.6 313.6 100.2C315.2 99.8 316.9 99.4 318.6 99.0C320.2 98.6 321.9 98.2 323.6 97.8C325.2 97.4 326.9 97.0 328.6 96.6C330.2 96.2 331.9 95.8 333.6 95.3C335.3 94.9 337.8 94.2 338.6 94.0" fill="none" stroke="#d4f040" stroke-width="1.00" />
<path d="M38.0 144.2C38.8 144.3 41.3 144.3 43.0 144.4C44.7 144.5 46.3 144.5 48.0 144.6C49.7 144.6 51.4 144.7 53.0 144.8C54.7 144.8 56.4 144.9 58.0 145.0C59.7 145.0 61.4 145.1 63.0 145.2C64.7 145.2 66.4 145.3 68.1 145.3C69.7 145.4 71.4 145.5 73.1 145.5C74.7 145.6 76.4 145.7 78.1 145.7C79.8 145.8 81.4 145.8 83.1 145.9C84.8 146.0 86.4 146.0 88.1 146.1C89.8 146.1 91.4 146.2 93.1 146.2C94.8 146.3 96.5 146.3 98.1 146.4C99.8 146.4 101.5 146.5 103.1 146.5C104.8 146.6 106.5 146.6 108.1 146.7C109.8 146.7 111.5 146.8 113.2 146.8C114.8 146.8 116.5 146.9 118.2 146.9C119.8 147.0 121.5 147.0 123.2 147.0C124.8 147.1 126.5 147.1 128.2 147.1C129.8 147.2 131.5 147.2 133.2 147.2C134.9 147.2 136.5 147.3 138.2 147.3C139.9 147.3 141.5 147.3 143.2 147.3C144.9 147.4 146.5 147.4 148.2 147.4C149.9 147.4 151.6 147.4 153.2 147.4C154.9 147.4 156.6 147.5 158.2 147.5C159.9 147.5 161.6 147.5 163.2 147.5C164.9 147.4 166.6 147.4 168.3 147.3C169.9 147.2 171.6 147.1 173.3 146.9C174.9 146.7 176.6 146.5 178.3 146.2C179.9 146.0 181.6 145.7 183.3 145.4C185.0 145.0 186.6 144.6 188.3 144.2C190.0 143.7 191.6 143.2 193.3 142.7C195.0 142.1 196.6 141.5 198.3 140.8C200.0 140.1 201.7 139.3 203.3 138.5C205.0 137.6 206.7 136.7 208.3 135.7C210.0 134.8 211.7 133.7 213.3 132.6C215.0 131.5 216.7 130.3 218.4 129.1C220.0 127.9 221.7 126.6 223.4 125.2C225.0 123.9 226.7 122.6 228.4 121.2C230.0 119.9 231.7 118.6 233.4 117.4C235.1 116.2 236.7 115.1 238.4 114.1C240.1 113.0 241.7 112.1 243.4 111.2C245.1 110.3 246.8 109.5 248.4 108.8C250.1 108.0 251.8 107.3 253.4 106.7C255.1 106.1 256.8 105.5 258.4 105.0C260.1 104.4 261.8 103.9 263.4 103.5C265.1 103.0 266.8 102.7 268.5 102.3C270.1 101.9 271.8 101.5 273.5 101.2C275.1 100.8 276.8 100.5 278.5 100.1C280.2 99.8 281.8 99.4 283.5 99.1C285.2 98.7 286.8 98.4 288.5 98.0C290.2 97.7 291.8 97.4 293.5 97.0C295.2 96.7 296.8 96.3 298.5 96.0C300.2 95.6 301.9 95.3 303.5 95.0C305.2 94.6 306.9 94.3 308.5 93.9C310.2 93.6 311.9 93.2 313.6 92.9C315.2 92.5 316.9 92.2 318.6 91.8C320.2 91.4 321.9 91.1 323.6 90.7C325.2 90.3 326.9 90.0 328.6 89.6C330.2 89.2 331.9 88.8 333.6 88.5C335.3 88.1 337.8 87.5 338.6 87.3" fill="none" stroke="#b0f040" stroke-width="1.00" />
<path d="M38.0 134.7C38.8 134.8 41.3 134.8 43.0 134.9C44.7 134.9 46.3 135.0 48.0 135.0C49.7 135.0 51.4 135.1 53.0 135.2C54.7 135.2 56.4 135.3 58.0 135.3C59.7 135.4 61.4 135.4 63.0 135.5C64.7 135.6 66.4 135.6 68.1 135.7C69.7 135.7 71.4 135.8 73.1 135.9C74.7 135.9 76.4 136.0 78.1 136.0C79.8 136.1 81.4 136.1 83.1 136.2C84.8 136.3 86.4 136.3 88.1 136.4C89.8 136.4 91.4 136.5 93.1 136.5C94.8 136.6 96.5 136.6 98.1 136.7C99.8 136.7 101.5 136.8 103.1 136.8C104.8 136.8 106.5 136.9 108.1 136.9C109.8 137.0 111.5 137.0 113.2 137.0C114.8 137.1 116.5 137.1 118.2 137.2C119.8 137.2 121.5 137.2 123.2 137.3C124.8 137.3 126.5 137.3 128.2 137.3C129.8 137.4 131.5 137.4 133.2 137.4C134.9 137.5 136.5 137.5 138.2 137.5C139.9 137.5 141.5 137.5 143.2 137.6C144.9 137.6 146.5 137.6 148.2 137.6C149.9 137.6 151.6 137.6 153.2 137.6C154.9 137.7 156.6 137.7 158.2 137.7C159.9 137.7 161.6 137.7 163.2 137.7C164.9 137.6 166.6 137.6 168.3 137.5C169.9 137.4 171.6 137.3 173.3 137.1C174.9 136.9 176.6 136.7 178.3 136.4C179.9 136.2 181.6 135.9 183.3 135.6C185.0 135.2 186.6 134.8 188.3 134.4C190.0 134.0 191.6 133.5 193.3 132.9C195.0 132.3 196.6 131.7 198.3 131.0C200.0 130.3 201.7 129.6 203.3 128.8C205.0 128.0 206.7 127.1 208.3 126.1C210.0 125.2 211.7 124.1 213.3 123.0C215.0 122.0 216.7 120.8 218.4 119.7C220.0 118.5 221.7 117.3 223.4 116.0C225.0 114.8 226.7 113.5 228.4 112.3C230.0 111.0 231.7 109.8 233.4 108.6C235.1 107.5 236.7 106.5 238.4 105.5C240.1 104.6 241.7 103.7 243.4 102.9C245.1 102.1 246.8 101.4 248.4 100.7C250.1 100.0 251.8 99.4 253.4 98.8C255.1 98.2 256.8 97.7 258.4 97.2C260.1 96.7 261.8 96.2 263.4 95.8C265.1 95.4 266.8 95.1 268.5 94.7C270.1 94.4 271.8 94.0 273.5 93.7C275.1 93.4 276.8 93.1 278.5 92.8C280.2 92.4 281.8 92.1 283.5 91.8C285.2 91.5 286.8 91.2 288.5 90.9C290.2 90.6 291.8 90.3 293.5 90.0C295.2 89.7 296.8 89.3 298.5 89.0C300.2 88.7 301.9 88.4 303.5 88.1C305.2 87.8 306.9 87.5 308.5 87.2C310.2 86.9 311.9 86.5 313.6 86.2C315.2 85.9 316.9 85.6 318.6 85.3C320.2 85.0 321.9 84.6 323.6 84.3C325.2 84.0 326.9 83.6 328.6 83.3C330.2 83.0 331.9 82.6 333.6 82.3C335.3 81.9 337.8 81.4 338.6 81.2" fill="none" stroke="#a8ec60" stroke-width="1.00" />
<path d="M38.0 123.4C38.8 123.4 41.3 123.4 43.0 123.4C44.7 123.4 46.3 123.4 48.0 123.5C49.7 123.5 51.4 123.5 53.0 123.6C54.7 123.6 56.4 123.6 58.0 123.7C59.7 123.7 61.4 123.8 63.0 123.8C64.7 123.9 66.4 123.9 68.1 124.0C69.7 124.0 71.4 124.1 73.1 124.1C74.7 124.2 76.4 124.2 78.1 124.3C79.8 124.3 81.4 124.4 83.1 124.4C84.8 124.4 86.4 124.5 88.1 124.5C89.8 124.6 91.4 124.6 93.1 124.7C94.8 124.7 96.5 124.8 98.1 124.8C99.8 124.8 101.5 124.9 103.1 124.9C104.8 125.0 106.5 125.0 108.1 125.0C109.8 125.1 111.5 125.1 113.2 125.1C114.8 125.2 116.5 125.2 118.2 125.2C119.8 125.3 121.5 125.3 123.2 125.3C124.8 125.3 126.5 125.4 128.2 125.4C129.8 125.4 131.5 125.4 133.2 125.5C134.9 125.5 136.5 125.5 138.2 125.5C139.9 125.5 141.5 125.6 143.2 125.6C144.9 125.6 146.5 125.6 148.2 125.6C149.9 125.6 151.6 125.6 153.2 125.7C154.9 125.7 156.6 125.7 158.2 125.7C159.9 125.7 161.6 125.7 163.2 125.7C164.9 125.6 166.6 125.6 168.3 125.5C169.9 125.4 171.6 125.3 173.3 125.1C174.9 124.9 176.6 124.7 178.3 124.5C179.9 124.2 181.6 123.9 183.3 123.6C185.0 123.3 186.6 122.9 188.3 122.5C190.0 122.1 191.6 121.6 193.3 121.1C195.0 120.5 196.6 119.9 198.3 119.3C200.0 118.6 201.7 117.9 203.3 117.2C205.0 116.4 206.7 115.6 208.3 114.7C210.0 113.8 211.7 112.8 213.3 111.8C215.0 110.8 216.7 109.8 218.4 108.7C220.0 107.6 221.7 106.5 223.4 105.4C225.0 104.2 226.7 103.0 228.4 101.9C230.0 100.8 231.7 99.7 233.4 98.7C235.1 97.7 236.7 96.7 238.4 95.9C240.1 95.0 241.7 94.3 243.4 93.5C245.1 92.8 246.8 92.2 248.4 91.6C250.1 91.0 251.8 90.4 253.4 89.9C255.1 89.4 256.8 88.9 258.4 88.5C260.1 88.1 261.8 87.7 263.4 87.3C265.1 87.0 266.8 86.7 268.5 86.4C270.1 86.0 271.8 85.8 273.5 85.5C275.1 85.2 276.8 84.9 278.5 84.6C280.2 84.4 281.8 84.1 283.5 83.8C285.2 83.6 286.8 83.3 288.5 83.0C290.2 82.8 291.8 82.5 293.5 82.2C295.2 82.0 296.8 81.7 298.5 81.4C300.2 81.2 301.9 80.9 303.5 80.6C305.2 80.4 306.9 80.1 308.5 79.8C310.2 79.6 311.9 79.3 313.6 79.0C315.2 78.7 316.9 78.5 318.6 78.2C320.2 77.9 321.9 77.6 323.6 77.4C325.2 77.1 326.9 76.8 328.6 76.5C330.2 76.2 331.9 75.9 333.6 75.7C335.3 75.4 337.8 74.9 338.6 74.8" fill="none" stroke="#88e848" stroke-width="1.00" />
<path d="M38.0 118.9C38.8 118.9 41.3 118.9 43.0 118.9C44.7 118.9 46.3 118.9 48.0 118.9C49.7 118.9 51.4 118.9 53.0 119.0C54.7 119.0 56.4 119.0 58.0 119.1C59.7 119.1 61.4 119.1 63.0 119.2C64.7 119.2 66.4 119.3 68.1 119.3C69.7 119.3 71.4 119.4 73.1 119.4C74.7 119.5 76.4 119.5 78.1 119.6C79.8 119.6 81.4 119.7 83.1 119.7C84.8 119.7 86.4 119.8 88.1 119.8C89.8 119.9 91.4 119.9 93.1 119.9C94.8 120.0 96.5 120.0 98.1 120.1C99.8 120.1 101.5 120.1 103.1 120.2C104.8 120.2 106.5 120.2 108.1 120.3C109.8 120.3 111.5 120.3 113.2 120.4C114.8 120.4 116.5 120.4 118.2 120.5C119.8 120.5 121.5 120.5 123.2 120.5C124.8 120.6 126.5 120.6 128.2 120.6C129.8 120.6 131.5 120.7 133.2 120.7C134.9 120.7 136.5 120.7 138.2 120.7C139.9 120.8 141.5 120.8 143.2 120.8C144.9 120.8 146.5 120.8 148.2 120.8C149.9 120.8 151.6 120.8 153.2 120.8C154.9 120.9 156.6 120.9 158.2 120.9C159.9 120.9 161.6 120.9 163.2 120.8C164.9 120.8 166.6 120.8 168.3 120.7C169.9 120.6 171.6 120.5 173.3 120.3C174.9 120.1 176.6 119.9 178.3 119.7C179.9 119.4 181.6 119.2 183.3 118.9C185.0 118.5 186.6 118.2 188.3 117.8C190.0 117.4 191.6 116.9 193.3 116.4C195.0 115.9 196.6 115.3 198.3 114.6C200.0 114.0 201.7 113.3 203.3 112.6C205.0 111.8 206.7 111.0 208.3 110.2C210.0 109.3 211.7 108.4 213.3 107.4C215.0 106.5 216.7 105.5 218.4 104.4C220.0 103.4 221.7 102.3 223.4 101.2C225.0 100.2 226.7 99.0 228.4 98.0C230.0 96.9 231.7 95.8 233.4 94.9C235.1 93.9 236.7 93.0 238.4 92.2C240.1 91.4 241.7 90.7 243.4 90.0C245.1 89.3 246.8 88.7 248.4 88.1C250.1 87.6 251.8 87.0 253.4 86.6C255.1 86.1 256.8 85.6 258.4 85.2C260.1 84.8 261.8 84.5 263.4 84.1C265.1 83.8 266.8 83.5 268.5 83.2C270.1 82.9 271.8 82.7 273.5 82.4C275.1 82.1 276.8 81.9 278.5 81.6C280.2 81.4 281.8 81.1 283.5 80.9C285.2 80.6 286.8 80.4 288.5 80.1C290.2 79.9 291.8 79.6 293.5 79.4C295.2 79.1 296.8 78.9 298.5 78.6C300.2 78.4 301.9 78.1 303.5 77.9C305.2 77.6 306.9 77.4 308.5 77.1C310.2 76.9 311.9 76.6 313.6 76.4C315.2 76.1 316.9 75.9 318.6 75.6C320.2 75.4 321.9 75.1 323.6 74.9C325.2 74.6 326.9 74.3 328.6 74.1C330.2 73.8 331.9 73.5 333.6 73.3C335.3 73.0 337.8 72.6 338.6 72.4" fill="none" stroke="#90ec70" stroke-width="1.00" />
<path d="M38.0 111.6C38.8 111.6 41.3 111.6 43.0 111.5C44.7 111.5 46.3 111.5 48.0 111.5C49.7 111.5 51.4 111.5 53.0 111.5C54.7 111.5 56.4 111.5 58.0 111.5C59.7 111.6 61.4 111.6 63.0 111.6C64.7 111.7 66.4 111.7 68.1 111.7C69.7 111.7 71.4 111.8 73.1 111.8C74.7 111.9 76.4 111.9 78.1 111.9C79.8 112.0 81.4 112.0 83.1 112.0C84.8 112.1 86.4 112.1 88.1 112.1C89.8 112.2 91.4 112.2 93.1 112.2C94.8 112.3 96.5 112.3 98.1 112.3C99.8 112.3 101.5 112.4 103.1 112.4C104.8 112.4 106.5 112.5 108.1 112.5C109.8 112.5 111.5 112.5 113.2 112.6C114.8 112.6 116.5 112.6 118.2 112.6C119.8 112.7 121.5 112.7 123.2 112.7C124.8 112.7 126.5 112.8 128.2 112.8C129.8 112.8 131.5 112.8 133.2 112.8C134.9 112.8 136.5 112.9 138.2 112.9C139.9 112.9 141.5 112.9 143.2 112.9C144.9 112.9 146.5 112.9 148.2 112.9C149.9 113.0 151.6 113.0 153.2 113.0C154.9 113.0 156.6 113.0 158.2 113.0C159.9 113.0 161.6 113.0 163.2 112.9C164.9 112.9 166.6 112.9 168.3 112.8C169.9 112.7 171.6 112.6 173.3 112.4C174.9 112.3 176.6 112.1 178.3 111.8C179.9 111.6 181.6 111.4 183.3 111.1C185.0 110.8 186.6 110.4 188.3 110.0C190.0 109.6 191.6 109.2 193.3 108.7C195.0 108.2 196.6 107.7 198.3 107.1C200.0 106.5 201.7 105.9 203.3 105.2C205.0 104.5 206.7 103.7 208.3 102.9C210.0 102.1 211.7 101.2 213.3 100.3C215.0 99.5 216.7 98.5 218.4 97.6C220.0 96.6 221.7 95.6 223.4 94.6C225.0 93.7 226.7 92.6 228.4 91.6C230.0 90.7 231.7 89.7 233.4 88.8C235.1 88.0 236.7 87.2 238.4 86.4C240.1 85.7 241.7 85.0 243.4 84.4C245.1 83.8 246.8 83.3 248.4 82.8C250.1 82.2 251.8 81.8 253.4 81.3C255.1 80.9 256.8 80.5 258.4 80.2C260.1 79.8 261.8 79.5 263.4 79.2C265.1 78.9 266.8 78.6 268.5 78.4C270.1 78.1 271.8 77.9 273.5 77.7C275.1 77.4 276.8 77.2 278.5 77.0C280.2 76.8 281.8 76.5 283.5 76.3C285.2 76.1 286.8 75.9 288.5 75.7C290.2 75.4 291.8 75.2 293.5 75.0C295.2 74.8 296.8 74.6 298.5 74.4C300.2 74.2 301.9 73.9 303.5 73.7C305.2 73.5 306.9 73.3 308.5 73.1C310.2 72.9 311.9 72.6 313.6 72.4C315.2 72.2 316.9 72.0 318.6 71.8C320.2 71.5 321.9 71.3 323.6 71.1C325.2 70.9 326.9 70.6 328.6 70.4C330.2 70.2 331.9 69.9 333.6 69.7C335.3 69.5 337.8 69.1 338.6 69.0" fill="none" stroke="#98f098" stroke-width="1.00" />
<path d="M38.0 104.0C38.8 104.0 41.3 103.9 43.0 103.8C44.7 103.8 46.3 103.7 48.0 103.7C49.7 103.7 51.4 103.6 53.0 103.6C54.7 103.6 56.4 103.6 58.0 103.6C59.7 103.6 61.4 103.6 63.0 103.6C64.7 103.6 66.4 103.7 68.1 103.7C69.7 103.7 71.4 103.7 73.1 103.7C74.7 103.8 76.4 103.8 78.1 103.8C79.8 103.8 81.4 103.8 83.1 103.9C84.8 103.9 86.4 103.9 88.1 103.9C89.8 104.0 91.4 104.0 93.1 104.0C94.8 104.0 96.5 104.1 98.1 104.1C99.8 104.1 101.5 104.1 103.1 104.1C104.8 104.2 106.5 104.2 108.1 104.2C109.8 104.2 111.5 104.2 113.2 104.3C114.8 104.3 116.5 104.3 118.2 104.3C119.8 104.3 121.5 104.3 123.2 104.4C124.8 104.4 126.5 104.4 128.2 104.4C129.8 104.4 131.5 104.4 133.2 104.4C134.9 104.4 136.5 104.5 138.2 104.5C139.9 104.5 141.5 104.5 143.2 104.5C144.9 104.5 146.5 104.5 148.2 104.5C149.9 104.5 151.6 104.5 153.2 104.5C154.9 104.5 156.6 104.5 158.2 104.5C159.9 104.5 161.6 104.5 163.2 104.5C164.9 104.5 166.6 104.4 168.3 104.3C169.9 104.3 171.6 104.1 173.3 104.0C174.9 103.8 176.6 103.7 178.3 103.4C179.9 103.2 181.6 103.0 183.3 102.7C185.0 102.4 186.6 102.1 188.3 101.8C190.0 101.4 191.6 101.0 193.3 100.6C195.0 100.1 196.6 99.6 198.3 99.1C200.0 98.5 201.7 97.9 203.3 97.3C205.0 96.7 206.7 96.0 208.3 95.3C210.0 94.5 211.7 93.7 213.3 92.9C215.0 92.1 216.7 91.3 218.4 90.4C220.0 89.6 221.7 88.7 223.4 87.8C225.0 86.9 226.7 86.0 228.4 85.1C230.0 84.3 231.7 83.4 233.4 82.6C235.1 81.8 236.7 81.2 238.4 80.5C240.1 79.9 241.7 79.3 243.4 78.7C245.1 78.2 246.8 77.7 248.4 77.3C250.1 76.8 251.8 76.4 253.4 76.1C255.1 75.7 256.8 75.4 258.4 75.0C260.1 74.7 261.8 74.5 263.4 74.2C265.1 74.0 266.8 73.8 268.5 73.6C270.1 73.3 271.8 73.1 273.5 73.0C275.1 72.8 276.8 72.6 278.5 72.4C280.2 72.2 281.8 72.0 283.5 71.9C285.2 71.7 286.8 71.5 288.5 71.3C290.2 71.1 291.8 71.0 293.5 70.8C295.2 70.6 296.8 70.4 298.5 70.3C300.2 70.1 301.9 69.9 303.5 69.8C305.2 69.6 306.9 69.4 308.5 69.2C310.2 69.1 311.9 68.9 313.6 68.7C315.2 68.5 316.9 68.4 318.6 68.2C320.2 68.0 321.9 67.8 323.6 67.6C325.2 67.4 326.9 67.3 328.6 67.1C330.2 66.9 331.9 66.7 333.6 66.5C335.3 66.3 337.8 66.0 338.6 65.9" fill="none" stroke="#90f2c0" stroke-width="1.00" />
<path d="M38.0 93.2C38.8 93.1 41.3 92.9 43.0 92.8C44.7 92.7 46.3 92.5 48.0 92.5C49.7 92.4 51.4 92.3 53.0 92.2C54.7 92.2 56.4 92.1 58.0 92.1C59.7 92.0 61.4 92.0 63.0 92.0C64.7 92.0 66.4 91.9 68.1 91.9C69.7 91.9 71.4 91.9 73.1 91.9C74.7 91.9 76.4 91.9 78.1 91.9C79.8 91.9 81.4 91.9 83.1 91.9C84.8 91.9 86.4 91.9 88.1 91.9C89.8 91.9 91.4 91.9 93.1 91.9C94.8 91.9 96.5 91.9 98.1 91.9C99.8 91.9 101.5 91.9 103.1 91.9C104.8 91.9 106.5 91.9 108.1 91.9C109.8 91.9 111.5 91.9 113.2 91.9C114.8 91.9 116.5 91.9 118.2 91.9C119.8 92.0 121.5 92.0 123.2 92.0C124.8 92.0 126.5 92.0 128.2 92.0C129.8 92.0 131.5 92.0 133.2 92.0C134.9 92.0 136.5 92.0 138.2 92.0C139.9 92.0 141.5 92.0 143.2 92.0C144.9 92.0 146.5 92.0 148.2 92.0C149.9 92.0 151.6 92.0 153.2 92.0C154.9 92.0 156.6 92.0 158.2 91.9C159.9 91.9 161.6 91.9 163.2 91.9C164.9 91.9 166.6 91.8 168.3 91.8C169.9 91.7 171.6 91.6 173.3 91.5C174.9 91.3 176.6 91.2 178.3 91.0C179.9 90.8 181.6 90.6 183.3 90.4C185.0 90.1 186.6 89.9 188.3 89.6C190.0 89.3 191.6 88.9 193.3 88.5C195.0 88.2 196.6 87.7 198.3 87.3C200.0 86.8 201.7 86.3 203.3 85.8C205.0 85.3 206.7 84.7 208.3 84.1C210.0 83.5 211.7 82.8 213.3 82.2C215.0 81.5 216.7 80.8 218.4 80.1C220.0 79.4 221.7 78.7 223.4 78.0C225.0 77.3 226.7 76.5 228.4 75.8C230.0 75.1 231.7 74.4 233.4 73.8C235.1 73.2 236.7 72.6 238.4 72.1C240.1 71.6 241.7 71.2 243.4 70.8C245.1 70.3 246.8 70.0 248.4 69.6C250.1 69.3 251.8 69.0 253.4 68.7C255.1 68.4 256.8 68.2 258.4 68.0C260.1 67.7 261.8 67.5 263.4 67.4C265.1 67.2 266.8 67.0 268.5 66.9C270.1 66.7 271.8 66.6 273.5 66.5C275.1 66.3 276.8 66.2 278.5 66.1C280.2 66.0 281.8 65.9 283.5 65.8C285.2 65.6 286.8 65.5 288.5 65.4C290.2 65.3 291.8 65.2 293.5 65.1C295.2 65.0 296.8 64.9 298.5 64.7C300.2 64.6 301.9 64.5 303.5 64.4C305.2 64.3 306.9 64.2 308.5 64.1C310.2 64.0 311.9 63.8 313.6 63.7C315.2 63.6 316.9 63.5 318.6 63.4C320.2 63.3 321.9 63.1 323.6 63.0C325.2 62.9 326.9 62.8 328.6 62.6C330.2 62.5 331.9 62.4 333.6 62.2C335.3 62.1 337.8 61.9 338.6 61.8" fill="none" stroke="#7af0e0" stroke-width="1.00" />
<path d="M38.0 84.5C38.8 84.4 41.3 84.1 43.0 83.9C44.7 83.7 46.3 83.5 48.0 83.4C49.7 83.2 51.4 83.1 53.0 83.0C54.7 82.8 56.4 82.7 58.0 82.7C59.7 82.6 61.4 82.5 63.0 82.4C64.7 82.4 66.4 82.3 68.1 82.3C69.7 82.2 71.4 82.2 73.1 82.2C74.7 82.1 76.4 82.1 78.1 82.1C79.8 82.0 81.4 82.0 83.1 82.0C84.8 81.9 86.4 81.9 88.1 81.9C89.8 81.9 91.4 81.9 93.1 81.8C94.8 81.8 96.5 81.8 98.1 81.8C99.8 81.8 101.5 81.7 103.1 81.7C104.8 81.7 106.5 81.7 108.1 81.7C109.8 81.6 111.5 81.6 113.2 81.6C114.8 81.6 116.5 81.6 118.2 81.6C119.8 81.6 121.5 81.6 123.2 81.5C124.8 81.5 126.5 81.5 128.2 81.5C129.8 81.5 131.5 81.5 133.2 81.5C134.9 81.5 136.5 81.5 138.2 81.4C139.9 81.4 141.5 81.4 143.2 81.4C144.9 81.4 146.5 81.4 148.2 81.4C149.9 81.4 151.6 81.4 153.2 81.3C154.9 81.3 156.6 81.3 158.2 81.3C159.9 81.3 161.6 81.3 163.2 81.2C164.9 81.2 166.6 81.2 168.3 81.1C169.9 81.0 171.6 81.0 173.3 80.8C174.9 80.7 176.6 80.6 178.3 80.4C179.9 80.3 181.6 80.1 183.3 79.9C185.0 79.7 186.6 79.5 188.3 79.3C190.0 79.0 191.6 78.7 193.3 78.4C195.0 78.1 196.6 77.8 198.3 77.4C200.0 77.0 201.7 76.6 203.3 76.2C205.0 75.8 206.7 75.3 208.3 74.8C210.0 74.4 211.7 73.8 213.3 73.3C215.0 72.8 216.7 72.2 218.4 71.7C220.0 71.1 221.7 70.6 223.4 70.0C225.0 69.4 226.7 68.8 228.4 68.3C230.0 67.8 231.7 67.2 233.4 66.7C235.1 66.3 236.7 65.8 238.4 65.4C240.1 65.0 241.7 64.7 243.4 64.4C245.1 64.0 246.8 63.8 248.4 63.5C250.1 63.2 251.8 63.0 253.4 62.8C255.1 62.6 256.8 62.4 258.4 62.2C260.1 62.0 261.8 61.9 263.4 61.7C265.1 61.6 266.8 61.5 268.5 61.4C270.1 61.2 271.8 61.1 273.5 61.0C275.1 60.9 276.8 60.8 278.5 60.7C280.2 60.6 281.8 60.6 283.5 60.5C285.2 60.4 286.8 60.3 288.5 60.2C290.2 60.1 291.8 60.0 293.5 59.9C295.2 59.8 296.8 59.7 298.5 59.7C300.2 59.6 301.9 59.5 303.5 59.4C305.2 59.3 306.9 59.2 308.5 59.1C310.2 59.0 311.9 58.9 313.6 58.9C315.2 58.8 316.9 58.7 318.6 58.6C320.2 58.5 321.9 58.4 323.6 58.3C325.2 58.2 326.9 58.1 328.6 58.0C330.2 57.9 331.9 57.8 333.6 57.7C335.3 57.6 337.8 57.4 338.6 57.3" fill="none" stroke="#78e4f8" stroke-width="1.00" />
<path d="M38.0 76.6C38.8 76.5 41.3 76.0 43.0 75.7C44.7 75.4 46.3 75.1 48.0 74.8C49.7 74.6 51.4 74.4 53.0 74.2C54.7 74.0 56.4 73.8 58.0 73.6C59.7 73.5 61.4 73.4 63.0 73.2C64.7 73.1 66.4 73.0 68.1 72.9C69.7 72.8 71.4 72.7 73.1 72.7C74.7 72.6 76.4 72.5 78.1 72.4C79.8 72.3 81.4 72.3 83.1 72.2C84.8 72.2 86.4 72.1 88.1 72.0C89.8 72.0 91.4 71.9 93.1 71.9C94.8 71.8 96.5 71.7 98.1 71.7C99.8 71.6 101.5 71.6 103.1 71.5C104.8 71.5 106.5 71.4 108.1 71.4C109.8 71.3 111.5 71.3 113.2 71.3C114.8 71.2 116.5 71.2 118.2 71.1C119.8 71.1 121.5 71.1 123.2 71.0C124.8 71.0 126.5 71.0 128.2 70.9C129.8 70.9 131.5 70.9 133.2 70.8C134.9 70.8 136.5 70.8 138.2 70.8C139.9 70.7 141.5 70.7 143.2 70.7C144.9 70.6 146.5 70.6 148.2 70.6C149.9 70.6 151.6 70.5 153.2 70.5C154.9 70.5 156.6 70.5 158.2 70.4C159.9 70.4 161.6 70.4 163.2 70.4C164.9 70.3 166.6 70.3 168.3 70.2C169.9 70.2 171.6 70.1 173.3 70.0C174.9 69.9 176.6 69.8 178.3 69.7C179.9 69.5 181.6 69.4 183.3 69.3C185.0 69.1 186.6 69.0 188.3 68.8C190.0 68.6 191.6 68.4 193.3 68.1C195.0 67.9 196.6 67.7 198.3 67.4C200.0 67.1 201.7 66.8 203.3 66.5C205.0 66.2 206.7 65.9 208.3 65.5C210.0 65.2 211.7 64.8 213.3 64.5C215.0 64.1 216.7 63.7 218.4 63.3C220.0 62.9 221.7 62.5 223.4 62.1C225.0 61.7 226.7 61.3 228.4 60.9C230.0 60.6 231.7 60.2 233.4 59.9C235.1 59.5 236.7 59.2 238.4 59.0C240.1 58.7 241.7 58.4 243.4 58.2C245.1 58.0 246.8 57.8 248.4 57.6C250.1 57.4 251.8 57.2 253.4 57.1C255.1 56.9 256.8 56.8 258.4 56.7C260.1 56.5 261.8 56.4 263.4 56.3C265.1 56.2 266.8 56.1 268.5 56.0C270.1 55.9 271.8 55.8 273.5 55.7C275.1 55.6 276.8 55.6 278.5 55.5C280.2 55.4 281.8 55.3 283.5 55.2C285.2 55.1 286.8 55.1 288.5 55.0C290.2 54.9 291.8 54.8 293.5 54.7C295.2 54.7 296.8 54.6 298.5 54.5C300.2 54.4 301.9 54.3 303.5 54.3C305.2 54.2 306.9 54.1 308.5 54.0C310.2 53.9 311.9 53.9 313.6 53.8C315.2 53.7 316.9 53.6 318.6 53.5C320.2 53.5 321.9 53.4 323.6 53.3C325.2 53.2 326.9 53.1 328.6 53.1C330.2 53.0 331.9 52.9 333.6 52.8C335.3 52.7 337.8 52.6 338.6 52.6" fill="none" stroke="#68b8f4" stroke-width="0.85" />
<path d="M38.0 73.5C38.8 73.3 41.3 72.7 43.0 72.4C44.7 72.0 46.3 71.7 48.0 71.4C49.7 71.1 51.4 70.8 53.0 70.5C54.7 70.3 56.4 70.0 58.0 69.8C59.7 69.6 61.4 69.4 63.0 69.2C64.7 69.1 66.4 68.9 68.1 68.7C69.7 68.6 71.4 68.4 73.1 68.3C74.7 68.1 76.4 68.0 78.1 67.8C79.8 67.7 81.4 67.6 83.1 67.4C84.8 67.3 86.4 67.2 88.1 67.0C89.8 66.9 91.4 66.8 93.1 66.6C94.8 66.5 96.5 66.4 98.1 66.2C99.8 66.1 101.5 66.0 103.1 65.8C104.8 65.7 106.5 65.6 108.1 65.4C109.8 65.3 111.5 65.2 113.2 65.1C114.8 64.9 116.5 64.8 118.2 64.7C119.8 64.6 121.5 64.5 123.2 64.3C124.8 64.2 126.5 64.1 128.2 64.0C129.8 63.9 131.5 63.8 133.2 63.7C134.9 63.6 136.5 63.5 138.2 63.4C139.9 63.3 141.5 63.2 143.2 63.1C144.9 63.0 146.5 62.9 148.2 62.8C149.9 62.7 151.6 62.6 153.2 62.5C154.9 62.5 156.6 62.4 158.2 62.3C159.9 62.2 161.6 62.2 163.2 62.1C164.9 62.0 166.6 61.9 168.3 61.9C169.9 61.8 171.6 61.7 173.3 61.6C174.9 61.5 176.6 61.4 178.3 61.3C179.9 61.2 181.6 61.1 183.3 61.0C185.0 60.9 186.6 60.8 188.3 60.7C190.0 60.5 191.6 60.4 193.3 60.2C195.0 60.1 196.6 59.9 198.3 59.7C200.0 59.5 201.7 59.4 203.3 59.2C205.0 59.0 206.7 58.8 208.3 58.5C210.0 58.3 211.7 58.1 213.3 57.9C215.0 57.7 216.7 57.4 218.4 57.2C220.0 57.0 221.7 56.8 223.4 56.5C225.0 56.3 226.7 56.1 228.4 55.9C230.0 55.6 231.7 55.4 233.4 55.2C235.1 55.1 236.7 54.9 238.4 54.7C240.1 54.6 241.7 54.5 243.4 54.3C245.1 54.2 246.8 54.1 248.4 54.0C250.1 53.9 251.8 53.8 253.4 53.7C255.1 53.6 256.8 53.6 258.4 53.5C260.1 53.4 261.8 53.4 263.4 53.3C265.1 53.3 266.8 53.2 268.5 53.2C270.1 53.1 271.8 53.1 273.5 53.1C275.1 53.0 276.8 53.0 278.5 52.9C280.2 52.9 281.8 52.8 283.5 52.8C285.2 52.8 286.8 52.7 288.5 52.7C290.2 52.6 291.8 52.6 293.5 52.5C295.2 52.5 296.8 52.4 298.5 52.4C300.2 52.3 301.9 52.3 303.5 52.2C305.2 52.2 306.9 52.1 308.5 52.1C310.2 52.0 311.9 52.0 313.6 51.9C315.2 51.9 316.9 51.8 318.6 51.8C320.2 51.7 321.9 51.6 323.6 51.6C325.2 51.5 326.9 51.5 328.6 51.4C330.2 51.3 331.9 51.3 333.6 51.2C335.3 51.1 337.8 51.0 338.6 51.0" fill="none" stroke="#6498f4" stroke-width="0.85" />
<path d="M38.0 73.3C38.8 73.1 41.3 72.6 43.0 72.2C44.7 71.9 46.3 71.5 48.0 71.2C49.7 70.9 51.4 70.6 53.0 70.3C54.7 70.1 56.4 69.8 58.0 69.6C59.7 69.4 61.4 69.2 63.0 69.0C64.7 68.9 66.4 68.7 68.1 68.5C69.7 68.4 71.4 68.2 73.1 68.1C74.7 67.9 76.4 67.8 78.1 67.6C79.8 67.5 81.4 67.3 83.1 67.2C84.8 67.1 86.4 66.9 88.1 66.8C89.8 66.7 91.4 66.5 93.1 66.4C94.8 66.3 96.5 66.1 98.1 66.0C99.8 65.9 101.5 65.7 103.1 65.6C104.8 65.5 106.5 65.3 108.1 65.2C109.8 65.1 111.5 65.0 113.2 64.8C114.8 64.7 116.5 64.6 118.2 64.5C119.8 64.3 121.5 64.2 123.2 64.1C124.8 64.0 126.5 63.9 128.2 63.8C129.8 63.7 131.5 63.5 133.2 63.4C134.9 63.3 136.5 63.2 138.2 63.1C139.9 63.0 141.5 62.9 143.2 62.8C144.9 62.7 146.5 62.7 148.2 62.6C149.9 62.5 151.6 62.4 153.2 62.3C154.9 62.2 156.6 62.2 158.2 62.1C159.9 62.0 161.6 61.9 163.2 61.9C164.9 61.8 166.6 61.7 168.3 61.6C169.9 61.6 171.6 61.5 173.3 61.4C174.9 61.3 176.6 61.2 178.3 61.1C179.9 61.0 181.6 60.9 183.3 60.8C185.0 60.7 186.6 60.6 188.3 60.5C190.0 60.3 191.6 60.2 193.3 60.0C195.0 59.9 196.6 59.7 198.3 59.5C200.0 59.3 201.7 59.2 203.3 59.0C205.0 58.8 206.7 58.6 208.3 58.4C210.0 58.1 211.7 57.9 213.3 57.7C215.0 57.5 216.7 57.3 218.4 57.0C220.0 56.8 221.7 56.6 223.4 56.4C225.0 56.1 226.7 55.9 228.4 55.7C230.0 55.5 231.7 55.3 233.4 55.1C235.1 54.9 236.7 54.8 238.4 54.6C240.1 54.5 241.7 54.3 243.4 54.2C245.1 54.1 246.8 54.0 248.4 53.9C250.1 53.8 251.8 53.7 253.4 53.6C255.1 53.5 256.8 53.5 258.4 53.4C260.1 53.3 261.8 53.3 263.4 53.2C265.1 53.2 266.8 53.1 268.5 53.1C270.1 53.0 271.8 53.0 273.5 52.9C275.1 52.9 276.8 52.9 278.5 52.8C280.2 52.8 281.8 52.7 283.5 52.7C285.2 52.7 286.8 52.6 288.5 52.6C290.2 52.5 291.8 52.5 293.5 52.4C295.2 52.4 296.8 52.3 298.5 52.3C300.2 52.2 301.9 52.2 303.5 52.1C305.2 52.1 306.9 52.0 308.5 52.0C310.2 51.9 311.9 51.9 313.6 51.8C315.2 51.8 316.9 51.7 318.6 51.7C320.2 51.6 321.9 51.6 323.6 51.5C325.2 51.4 326.9 51.4 328.6 51.3C330.2 51.3 331.9 51.2 333.6 51.1C335.3 51.1 337.8 51.0 338.6 50.9" fill="none" stroke="#4a5cf8" stroke-width="0.85" />
<path d="M38.0 71.9C38.8 71.7 41.3 71.1 43.0 70.7C44.7 70.4 46.3 70.0 48.0 69.6C49.7 69.3 51.4 69.0 53.0 68.7C54.7 68.4 56.4 68.2 58.0 67.9C59.7 67.7 61.4 67.5 63.0 67.3C64.7 67.1 66.4 66.9 68.1 66.8C69.7 66.6 71.4 66.4 73.1 66.3C74.7 66.1 76.4 66.0 78.1 65.8C79.8 65.7 81.4 65.5 83.1 65.4C84.8 65.2 86.4 65.1 88.1 65.0C89.8 64.8 91.4 64.7 93.1 64.5C94.8 64.4 96.5 64.3 98.1 64.1C99.8 64.0 101.5 63.9 103.1 63.7C104.8 63.6 106.5 63.5 108.1 63.3C109.8 63.2 111.5 63.1 113.2 62.9C114.8 62.8 116.5 62.7 118.2 62.6C119.8 62.5 121.5 62.3 123.2 62.2C124.8 62.1 126.5 62.0 128.2 61.9C129.8 61.8 131.5 61.7 133.2 61.6C134.9 61.5 136.5 61.4 138.2 61.3C139.9 61.2 141.5 61.1 143.2 61.0C144.9 60.9 146.5 60.8 148.2 60.7C149.9 60.6 151.6 60.5 153.2 60.4C154.9 60.4 156.6 60.3 158.2 60.2C159.9 60.1 161.6 60.1 163.2 60.0C164.9 59.9 166.6 59.8 168.3 59.8C169.9 59.7 171.6 59.6 173.3 59.5C174.9 59.4 176.6 59.4 178.3 59.3C179.9 59.2 181.6 59.1 183.3 59.0C185.0 58.9 186.6 58.8 188.3 58.7C190.0 58.5 191.6 58.4 193.3 58.3C195.0 58.1 196.6 58.0 198.3 57.8C200.0 57.7 201.7 57.5 203.3 57.3C205.0 57.2 206.7 57.0 208.3 56.8C210.0 56.6 211.7 56.4 213.3 56.2C215.0 56.1 216.7 55.9 218.4 55.7C220.0 55.5 221.7 55.3 223.4 55.1C225.0 54.9 226.7 54.7 228.4 54.5C230.0 54.3 231.7 54.2 233.4 54.0C235.1 53.8 236.7 53.7 238.4 53.6C240.1 53.5 241.7 53.3 243.4 53.2C245.1 53.1 246.8 53.0 248.4 53.0C250.1 52.9 251.8 52.8 253.4 52.7C255.1 52.6 256.8 52.6 258.4 52.5C260.1 52.5 261.8 52.4 263.4 52.4C265.1 52.3 266.8 52.3 268.5 52.2C270.1 52.2 271.8 52.2 273.5 52.1C275.1 52.1 276.8 52.0 278.5 52.0C280.2 52.0 281.8 51.9 283.5 51.9C285.2 51.8 286.8 51.8 288.5 51.8C290.2 51.7 291.8 51.7 293.5 51.6C295.2 51.6 296.8 51.5 298.5 51.5C300.2 51.5 301.9 51.4 303.5 51.4C305.2 51.3 306.9 51.3 308.5 51.2C310.2 51.2 311.9 51.1 313.6 51.1C315.2 51.0 316.9 51.0 318.6 50.9C320.2 50.9 321.9 50.8 323.6 50.8C325.2 50.7 326.9 50.7 328.6 50.6C330.2 50.6 331.9 50.5 333.6 50.5C335.3 50.4 337.8 50.3 338.6 50.3" fill="none" stroke="#4252f6" stroke-width="0.85" />
<path d="M38.0 71.8C38.8 71.6 41.3 70.9 43.0 70.6C44.7 70.2 46.3 69.8 48.0 69.5C49.7 69.1 51.4 68.8 53.0 68.5C54.7 68.2 56.4 68.0 58.0 67.7C59.7 67.5 61.4 67.3 63.0 67.1C64.7 66.9 66.4 66.7 68.1 66.6C69.7 66.4 71.4 66.2 73.1 66.1C74.7 65.9 76.4 65.7 78.1 65.6C79.8 65.4 81.4 65.3 83.1 65.2C84.8 65.0 86.4 64.9 88.1 64.7C89.8 64.6 91.4 64.4 93.1 64.3C94.8 64.2 96.5 64.0 98.1 63.9C99.8 63.8 101.5 63.6 103.1 63.5C104.8 63.4 106.5 63.2 108.1 63.1C109.8 63.0 111.5 62.8 113.2 62.7C114.8 62.6 116.5 62.5 118.2 62.3C119.8 62.2 121.5 62.1 123.2 62.0C124.8 61.9 126.5 61.8 128.2 61.6C129.8 61.5 131.5 61.4 133.2 61.3C134.9 61.2 136.5 61.1 138.2 61.0C139.9 60.9 141.5 60.8 143.2 60.7C144.9 60.6 146.5 60.5 148.2 60.5C149.9 60.4 151.6 60.3 153.2 60.2C154.9 60.1 156.6 60.0 158.2 60.0C159.9 59.9 161.6 59.8 163.2 59.7C164.9 59.7 166.6 59.6 168.3 59.5C169.9 59.5 171.6 59.4 173.3 59.3C174.9 59.2 176.6 59.1 178.3 59.0C179.9 58.9 181.6 58.9 183.3 58.8C185.0 58.7 186.6 58.5 188.3 58.4C190.0 58.3 191.6 58.2 193.3 58.0C195.0 57.9 196.6 57.8 198.3 57.6C200.0 57.5 201.7 57.3 203.3 57.1C205.0 57.0 206.7 56.8 208.3 56.6C210.0 56.4 211.7 56.2 213.3 56.1C215.0 55.9 216.7 55.7 218.4 55.5C220.0 55.3 221.7 55.1 223.4 54.9C225.0 54.7 226.7 54.5 228.4 54.4C230.0 54.2 231.7 54.0 233.4 53.9C235.1 53.7 236.7 53.6 238.4 53.5C240.1 53.3 241.7 53.2 243.4 53.1C245.1 53.0 246.8 52.9 248.4 52.8C250.1 52.7 251.8 52.7 253.4 52.6C255.1 52.5 256.8 52.5 258.4 52.4C260.1 52.4 261.8 52.3 263.4 52.3C265.1 52.2 266.8 52.2 268.5 52.1C270.1 52.1 271.8 52.0 273.5 52.0C275.1 52.0 276.8 51.9 278.5 51.9C280.2 51.9 281.8 51.8 283.5 51.8C285.2 51.7 286.8 51.7 288.5 51.7C290.2 51.6 291.8 51.6 293.5 51.5C295.2 51.5 296.8 51.4 298.5 51.4C300.2 51.4 301.9 51.3 303.5 51.3C305.2 51.2 306.9 51.2 308.5 51.1C310.2 51.1 311.9 51.0 313.6 51.0C315.2 50.9 316.9 50.9 318.6 50.8C320.2 50.8 321.9 50.7 323.6 50.7C325.2 50.6 326.9 50.6 328.6 50.5C330.2 50.5 331.9 50.4 333.6 50.4C335.3 50.3 337.8 50.2 338.6 50.2" fill="none" stroke="#3c4cf4" stroke-width="0.85" />
<path d="M38.0 70.4C38.8 70.2 41.3 69.5 43.0 69.1C44.7 68.7 46.3 68.3 48.0 67.9C49.7 67.5 51.4 67.2 53.0 66.9C54.7 66.5 56.4 66.3 58.0 66.0C59.7 65.8 61.4 65.6 63.0 65.3C64.7 65.1 66.4 64.9 68.1 64.7C69.7 64.6 71.4 64.4 73.1 64.2C74.7 64.0 76.4 63.9 78.1 63.7C79.8 63.6 81.4 63.4 83.1 63.3C84.8 63.1 86.4 63.0 88.1 62.8C89.8 62.7 91.4 62.5 93.1 62.4C94.8 62.2 96.5 62.1 98.1 61.9C99.8 61.8 101.5 61.7 103.1 61.5C104.8 61.4 106.5 61.2 108.1 61.1C109.8 61.0 111.5 60.8 113.2 60.7C114.8 60.6 116.5 60.5 118.2 60.3C119.8 60.2 121.5 60.1 123.2 60.0C124.8 59.9 126.5 59.8 128.2 59.6C129.8 59.5 131.5 59.4 133.2 59.3C134.9 59.2 136.5 59.1 138.2 59.0C139.9 58.9 141.5 58.8 143.2 58.7C144.9 58.6 146.5 58.5 148.2 58.5C149.9 58.4 151.6 58.3 153.2 58.2C154.9 58.1 156.6 58.0 158.2 58.0C159.9 57.9 161.6 57.8 163.2 57.7C164.9 57.7 166.6 57.6 168.3 57.5C169.9 57.4 171.6 57.4 173.3 57.3C174.9 57.2 176.6 57.1 178.3 57.0C179.9 57.0 181.6 56.9 183.3 56.8C185.0 56.7 186.6 56.6 188.3 56.5C190.0 56.4 191.6 56.3 193.3 56.2C195.0 56.0 196.6 55.9 198.3 55.8C200.0 55.7 201.7 55.5 203.3 55.4C205.0 55.2 206.7 55.1 208.3 55.0C210.0 54.8 211.7 54.7 213.3 54.5C215.0 54.3 216.7 54.2 218.4 54.0C220.0 53.9 221.7 53.7 223.4 53.6C225.0 53.4 226.7 53.3 228.4 53.1C230.0 53.0 231.7 52.8 233.4 52.7C235.1 52.6 236.7 52.5 238.4 52.4C240.1 52.3 241.7 52.2 243.4 52.1C245.1 52.0 246.8 51.9 248.4 51.9C250.1 51.8 251.8 51.7 253.4 51.7C255.1 51.6 256.8 51.6 258.4 51.5C260.1 51.5 261.8 51.4 263.4 51.4C265.1 51.3 266.8 51.3 268.5 51.3C270.1 51.2 271.8 51.2 273.5 51.1C275.1 51.1 276.8 51.1 278.5 51.0C280.2 51.0 281.8 51.0 283.5 50.9C285.2 50.9 286.8 50.9 288.5 50.8C290.2 50.8 291.8 50.8 293.5 50.7C295.2 50.7 296.8 50.6 298.5 50.6C300.2 50.6 301.9 50.5 303.5 50.5C305.2 50.4 306.9 50.4 308.5 50.4C310.2 50.3 311.9 50.3 313.6 50.2C315.2 50.2 316.9 50.2 318.6 50.1C320.2 50.1 321.9 50.0 323.6 50.0C325.2 49.9 326.9 49.9 328.6 49.8C330.2 49.8 331.9 49.7 333.6 49.7C335.3 49.7 337.8 49.6 338.6 49.6" fill="none" stroke="#3848f2" stroke-width="0.85" />
<path d="M38.0 69.4C38.8 69.1 41.3 68.4 43.0 68.0C44.7 67.5 46.3 67.1 48.0 66.7C49.7 66.3 51.4 65.9 53.0 65.6C54.7 65.3 56.4 65.0 58.0 64.7C59.7 64.4 61.4 64.2 63.0 64.0C64.7 63.8 66.4 63.6 68.1 63.4C69.7 63.2 71.4 63.0 73.1 62.8C74.7 62.6 76.4 62.4 78.1 62.3C79.8 62.1 81.4 61.9 83.1 61.8C84.8 61.6 86.4 61.5 88.1 61.3C89.8 61.2 91.4 61.0 93.1 60.8C94.8 60.7 96.5 60.5 98.1 60.4C99.8 60.3 101.5 60.1 103.1 60.0C104.8 59.8 106.5 59.7 108.1 59.6C109.8 59.4 111.5 59.3 113.2 59.1C114.8 59.0 116.5 58.9 118.2 58.8C119.8 58.6 121.5 58.5 123.2 58.4C124.8 58.3 126.5 58.2 128.2 58.0C129.8 57.9 131.5 57.8 133.2 57.7C134.9 57.6 136.5 57.5 138.2 57.4C139.9 57.3 141.5 57.2 143.2 57.1C144.9 57.0 146.5 56.9 148.2 56.8C149.9 56.8 151.6 56.7 153.2 56.6C154.9 56.5 156.6 56.4 158.2 56.3C159.9 56.3 161.6 56.2 163.2 56.1C164.9 56.0 166.6 56.0 168.3 55.9C169.9 55.8 171.6 55.7 173.3 55.7C174.9 55.6 176.6 55.5 178.3 55.4C179.9 55.4 181.6 55.3 183.3 55.2C185.0 55.1 186.6 55.0 188.3 54.9C190.0 54.8 191.6 54.8 193.3 54.6C195.0 54.5 196.6 54.4 198.3 54.3C200.0 54.2 201.7 54.1 203.3 54.0C205.0 53.9 206.7 53.8 208.3 53.6C210.0 53.5 211.7 53.4 213.3 53.3C215.0 53.1 216.7 53.0 218.4 52.9C220.0 52.8 221.7 52.6 223.4 52.5C225.0 52.4 226.7 52.3 228.4 52.2C230.0 52.0 231.7 51.9 233.4 51.8C235.1 51.7 236.7 51.6 238.4 51.5C240.1 51.5 241.7 51.4 243.4 51.3C245.1 51.2 246.8 51.2 248.4 51.1C250.1 51.1 251.8 51.0 253.4 51.0C255.1 50.9 256.8 50.9 258.4 50.8C260.1 50.8 261.8 50.7 263.4 50.7C265.1 50.7 266.8 50.6 268.5 50.6C270.1 50.6 271.8 50.5 273.5 50.5C275.1 50.5 276.8 50.4 278.5 50.4C280.2 50.4 281.8 50.3 283.5 50.3C285.2 50.3 286.8 50.2 288.5 50.2C290.2 50.2 291.8 50.1 293.5 50.1C295.2 50.1 296.8 50.0 298.5 50.0C300.2 49.9 301.9 49.9 303.5 49.9C305.2 49.8 306.9 49.8 308.5 49.8C310.2 49.7 311.9 49.7 313.6 49.7C315.2 49.6 316.9 49.6 318.6 49.5C320.2 49.5 321.9 49.5 323.6 49.4C325.2 49.4 326.9 49.4 328.6 49.3C330.2 49.3 331.9 49.2 333.6 49.2C335.3 49.2 337.8 49.1 338.6 49.1" fill="none" stroke="#3444f0" stroke-width="0.85" />
<path d="M38.0 69.2C38.8 69.0 41.3 68.2 43.0 67.8C44.7 67.3 46.3 66.9 48.0 66.5C49.7 66.1 51.4 65.7 53.0 65.4C54.7 65.1 56.4 64.8 58.0 64.5C59.7 64.2 61.4 64.0 63.0 63.8C64.7 63.5 66.4 63.3 68.1 63.1C69.7 62.9 71.4 62.7 73.1 62.5C74.7 62.4 76.4 62.2 78.1 62.0C79.8 61.8 81.4 61.7 83.1 61.5C84.8 61.4 86.4 61.2 88.1 61.1C89.8 60.9 91.4 60.7 93.1 60.6C94.8 60.4 96.5 60.3 98.1 60.1C99.8 60.0 101.5 59.8 103.1 59.7C104.8 59.6 106.5 59.4 108.1 59.3C109.8 59.1 111.5 59.0 113.2 58.9C114.8 58.7 116.5 58.6 118.2 58.5C119.8 58.4 121.5 58.2 123.2 58.1C124.8 58.0 126.5 57.9 128.2 57.8C129.8 57.7 131.5 57.5 133.2 57.4C134.9 57.3 136.5 57.2 138.2 57.1C139.9 57.0 141.5 56.9 143.2 56.8C144.9 56.8 146.5 56.7 148.2 56.6C149.9 56.5 151.6 56.4 153.2 56.3C154.9 56.2 156.6 56.1 158.2 56.1C159.9 56.0 161.6 55.9 163.2 55.8C164.9 55.8 166.6 55.7 168.3 55.6C169.9 55.5 171.6 55.5 173.3 55.4C174.9 55.3 176.6 55.2 178.3 55.2C179.9 55.1 181.6 55.0 183.3 54.9C185.0 54.8 186.6 54.8 188.3 54.7C190.0 54.6 191.6 54.5 193.3 54.4C195.0 54.3 196.6 54.2 198.3 54.1C200.0 54.0 201.7 53.9 203.3 53.7C205.0 53.6 206.7 53.5 208.3 53.4C210.0 53.3 211.7 53.2 213.3 53.0C215.0 52.9 216.7 52.8 218.4 52.7C220.0 52.6 221.7 52.4 223.4 52.3C225.0 52.2 226.7 52.1 228.4 52.0C230.0 51.9 231.7 51.8 233.4 51.7C235.1 51.6 236.7 51.5 238.4 51.4C240.1 51.3 241.7 51.3 243.4 51.2C245.1 51.1 246.8 51.1 248.4 51.0C250.1 50.9 251.8 50.9 253.4 50.8C255.1 50.8 256.8 50.7 258.4 50.7C260.1 50.7 261.8 50.6 263.4 50.6C265.1 50.5 266.8 50.5 268.5 50.5C270.1 50.4 271.8 50.4 273.5 50.4C275.1 50.3 276.8 50.3 278.5 50.3C280.2 50.2 281.8 50.2 283.5 50.2C285.2 50.2 286.8 50.1 288.5 50.1C290.2 50.1 291.8 50.0 293.5 50.0C295.2 49.9 296.8 49.9 298.5 49.9C300.2 49.8 301.9 49.8 303.5 49.8C305.2 49.7 306.9 49.7 308.5 49.7C310.2 49.6 311.9 49.6 313.6 49.6C315.2 49.5 316.9 49.5 318.6 49.5C320.2 49.4 321.9 49.4 323.6 49.3C325.2 49.3 326.9 49.3 328.6 49.2C330.2 49.2 331.9 49.1 333.6 49.1C335.3 49.1 337.8 49.0 338.6 49.0" fill="none" stroke="#3040f0" stroke-width="0.85" />
<path d="M38.0 67.1C38.8 66.9 41.3 66.1 43.0 65.6C44.7 65.0 46.3 64.6 48.0 64.1C49.7 63.6 51.4 63.2 53.0 62.8C54.7 62.4 56.4 62.1 58.0 61.8C59.7 61.5 61.4 61.2 63.0 60.9C64.7 60.7 66.4 60.4 68.1 60.2C69.7 59.9 71.4 59.7 73.1 59.5C74.7 59.3 76.4 59.1 78.1 58.9C79.8 58.7 81.4 58.5 83.1 58.3C84.8 58.2 86.4 58.0 88.1 57.8C89.8 57.6 91.4 57.5 93.1 57.3C94.8 57.1 96.5 56.9 98.1 56.8C99.8 56.6 101.5 56.5 103.1 56.3C104.8 56.1 106.5 56.0 108.1 55.8C109.8 55.7 111.5 55.5 113.2 55.4C114.8 55.2 116.5 55.1 118.2 55.0C119.8 54.8 121.5 54.7 123.2 54.6C124.8 54.4 126.5 54.3 128.2 54.2C129.8 54.1 131.5 53.9 133.2 53.8C134.9 53.7 136.5 53.6 138.2 53.5C139.9 53.4 141.5 53.3 143.2 53.2C144.9 53.1 146.5 53.0 148.2 52.9C149.9 52.8 151.6 52.7 153.2 52.6C154.9 52.5 156.6 52.4 158.2 52.3C159.9 52.2 161.6 52.2 163.2 52.1C164.9 52.0 166.6 51.9 168.3 51.8C169.9 51.7 171.6 51.7 173.3 51.6C174.9 51.5 176.6 51.4 178.3 51.4C179.9 51.3 181.6 51.2 183.3 51.2C185.0 51.1 186.6 51.1 188.3 51.0C190.0 50.9 191.6 50.9 193.3 50.8C195.0 50.8 196.6 50.7 198.3 50.7C200.0 50.6 201.7 50.5 203.3 50.5C205.0 50.4 206.7 50.4 208.3 50.4C210.0 50.3 211.7 50.3 213.3 50.2C215.0 50.2 216.7 50.1 218.4 50.1C220.0 50.0 221.7 50.0 223.4 50.0C225.0 49.9 226.7 49.9 228.4 49.8C230.0 49.8 231.7 49.8 233.4 49.7C235.1 49.7 236.7 49.6 238.4 49.6C240.1 49.6 241.7 49.5 243.4 49.5C245.1 49.5 246.8 49.4 248.4 49.4C250.1 49.4 251.8 49.4 253.4 49.3C255.1 49.3 256.8 49.3 258.4 49.2C260.1 49.2 261.8 49.2 263.4 49.1C265.1 49.1 266.8 49.1 268.5 49.1C270.1 49.0 271.8 49.0 273.5 49.0C275.1 49.0 276.8 48.9 278.5 48.9C280.2 48.9 281.8 48.9 283.5 48.8C285.2 48.8 286.8 48.8 288.5 48.7C290.2 48.7 291.8 48.7 293.5 48.7C295.2 48.6 296.8 48.6 298.5 48.6C300.2 48.6 301.9 48.5 303.5 48.5C305.2 48.5 306.9 48.5 308.5 48.4C310.2 48.4 311.9 48.4 313.6 48.4C315.2 48.3 316.9 48.3 318.6 48.3C320.2 48.2 321.9 48.2 323.6 48.2C325.2 48.2 326.9 48.1 328.6 48.1C330.2 48.1 331.9 48.1 333.6 48.0C335.3 48.0 337.8 48.0 338.6 48.0" fill="none" stroke="#2e2e2e" stroke-width="1.60" stroke-dasharray="1.3 0.5"/>
<path d="M28 40 V213.4 H339" fill="none" stroke="#585858" stroke-width="1.1"/>
<path d="M26.2 213.4 H28" stroke="#585858" stroke-width="0.8"/>
<text x="24.4" y="215.3" font-family="Liberation Sans" font-size="5.40" text-anchor="end" fill="#222222" font-weight="normal"  stroke="#222222" stroke-width="0.18">0</text>
<path d="M26.6 196.2 H28" stroke="#585858" stroke-width="0.8"/>
<path d="M26.2 178.9 H28" stroke="#585858" stroke-width="0.8"/>
<text x="24.4" y="180.8" font-family="Liberation Sans" font-size="5.40" text-anchor="end" fill="#222222" font-weight="normal"  stroke="#222222" stroke-width="0.18">20</text>
<path d="M26.6 161.7 H28" stroke="#585858" stroke-width="0.8"/>
<path d="M26.2 144.4 H28" stroke="#585858" stroke-width="0.8"/>
<text x="24.4" y="146.3" font-family="Liberation Sans" font-size="5.40" text-anchor="end" fill="#222222" font-weight="normal"  stroke="#222222" stroke-width="0.18">40</text>
<path d="M26.6 127.2 H28" stroke="#585858" stroke-width="0.8"/>
<path d="M26.2 109.9 H28" stroke="#585858" stroke-width="0.8"/>
<text x="24.4" y="111.8" font-family="Liberation Sans" font-size="5.40" text-anchor="end" fill="#222222" font-weight="normal"  stroke="#222222" stroke-width="0.18">60</text>
<path d="M26.6 92.7 H28" stroke="#585858" stroke-width="0.8"/>
<path d="M26.2 75.4 H28" stroke="#585858" stroke-width="0.8"/>
<text x="24.4" y="77.3" font-family="Liberation Sans" font-size="5.40" text-anchor="end" fill="#222222" font-weight="normal"  stroke="#222222" stroke-width="0.18">80</text>
<path d="M26.6 58.2 H28" stroke="#585858" stroke-width="0.8"/>
<path d="M26.2 40.9 H28" stroke="#585858" stroke-width="0.8"/>
<text x="24.4" y="42.8" font-family="Liberation Sans" font-size="5.40" text-anchor="end" fill="#222222" font-weight="normal"  stroke="#222222" stroke-width="0.18">100</text>
<path d="M38.0 213.4 V215" stroke="#585858" stroke-width="0.8"/>
<text x="38.0" y="222.4" font-family="Liberation Sans" font-size="5.30" text-anchor="middle" fill="#222222" font-weight="normal"  stroke="#222222" stroke-width="0.18">400</text>
<path d="M63.0 213.4 V215" stroke="#585858" stroke-width="0.8"/>
<path d="M88.1 213.4 V215" stroke="#585858" stroke-width="0.8"/>
<text x="88.1" y="222.4" font-family="Liberation Sans" font-size="5.30" text-anchor="middle" fill="#222222" font-weight="normal"  stroke="#222222" stroke-width="0.18">450</text>
<path d="M113.2 213.4 V215" stroke="#585858" stroke-width="0.8"/>
<path d="M138.2 213.4 V215" stroke="#585858" stroke-width="0.8"/>
<text x="138.2" y="222.4" font-family="Liberation Sans" font-size="5.30" text-anchor="middle" fill="#222222" font-weight="normal"  stroke="#222222" stroke-width="0.18">500</text>
<path d="M163.2 213.4 V215" stroke="#585858" stroke-width="0.8"/>
<path d="M188.3 213.4 V215" stroke="#585858" stroke-width="0.8"/>
<text x="188.3" y="222.4" font-family="Liberation Sans" font-size="5.30" text-anchor="middle" fill="#222222" font-weight="normal"  stroke="#222222" stroke-width="0.18">550</text>
<path d="M213.3 213.4 V215" stroke="#585858" stroke-width="0.8"/>
<path d="M238.4 213.4 V215" stroke="#585858" stroke-width="0.8"/>
<text x="238.4" y="222.4" font-family="Liberation Sans" font-size="5.30" text-anchor="middle" fill="#222222" font-weight="normal"  stroke="#222222" stroke-width="0.18">600</text>
<path d="M263.4 213.4 V215" stroke="#585858" stroke-width="0.8"/>
<path d="M288.5 213.4 V215" stroke="#585858" stroke-width="0.8"/>
<text x="288.5" y="222.4" font-family="Liberation Sans" font-size="5.30" text-anchor="middle" fill="#222222" font-weight="normal"  stroke="#222222" stroke-width="0.18">650</text>
<path d="M313.6 213.4 V215" stroke="#585858" stroke-width="0.8"/>
<path d="M338.6 213.4 V215" stroke="#585858" stroke-width="0.8"/>
<text x="338.6" y="222.4" font-family="Liberation Sans" font-size="5.30" text-anchor="middle" fill="#222222" font-weight="normal"  stroke="#222222" stroke-width="0.18">700</text>
<text x="188.1" y="229.8" font-family="Liberation Sans" font-size="6.10" text-anchor="middle" fill="#222222" font-weight="normal"  stroke="#222222" stroke-width="0.18">Wavelength (nm)</text>
<text x="10.1" y="128.5" font-family="Liberation Sans" font-size="5.80" text-anchor="middle" fill="#222222" font-weight="normal"  stroke="#222222" stroke-width="0.18">R%</text>
<rect x="28.5" y="40" width="16.6" height="11" fill="#dfe2e2"/>
<text x="34.3" y="47.8" font-family="Liberation Serif" font-size="9.50" text-anchor="middle" fill="#111" font-weight="bold" >a</text>
<text x="39.0" y="49.6" font-family="Liberation Serif" font-size="4.00" text-anchor="middle" fill="#333" font-weight="bold" >1</text>
<text x="449.2" y="38.0" font-family="Liberation Serif" font-size="12.40" text-anchor="middle" fill="#2a2a2a" font-weight="normal" stroke="#2a2a2a" stroke-width="0.12">Concentration</text>
<polygon points="361.80,48.10 362.59,50.21 364.84,50.31 363.08,51.72 363.68,53.89 361.80,52.64 359.92,53.89 360.52,51.72 358.76,50.31 361.01,50.21" fill="none" stroke="#1a2050" stroke-width="1.15" stroke-linejoin="miter"/>
<polygon points="382.70,48.10 383.49,50.21 385.74,50.31 383.98,51.72 384.58,53.89 382.70,52.64 380.82,53.89 381.42,51.72 379.66,50.31 381.91,50.21" fill="none" stroke="#1a2050" stroke-width="1.15" stroke-linejoin="miter"/>
<polygon points="403.60,48.10 404.39,50.21 406.64,50.31 404.88,51.72 405.48,53.89 403.60,52.64 401.72,53.89 402.32,51.72 400.56,50.31 402.81,50.21" fill="none" stroke="#1a2050" stroke-width="1.15" stroke-linejoin="miter"/>
<text x="415.0" y="53.8" font-family="Liberation Sans" font-size="6.85" text-anchor="start" fill="#2a2a2a" font-weight="bold" >0</text>
<path d="M360.0 61.3 H405.0" stroke="#5050ff" stroke-width="1.30"/>
<text x="415.0" y="63.8" font-family="Liberation Sans" font-size="6.85" text-anchor="start" fill="#2a2a2a" font-weight="bold" >0.00039%</text>
<path d="M360.0 71.3 H405.0" stroke="#5050ff" stroke-width="1.30"/>
<text x="415.0" y="73.8" font-family="Liberation Sans" font-size="6.85" text-anchor="start" fill="#2a2a2a" font-weight="bold" >0.00078%</text>
<path d="M360.0 81.3 H405.0" stroke="#5252ff" stroke-width="1.30"/>
<text x="415.0" y="83.8" font-family="Liberation Sans" font-size="6.85" text-anchor="start" fill="#2a2a2a" font-weight="bold" >0.0015%</text>
<path d="M360.0 91.3 H405.0" stroke="#5454fc" stroke-width="1.30"/>
<text x="415.0" y="93.8" font-family="Liberation Sans" font-size="6.85" text-anchor="start" fill="#2a2a2a" font-weight="bold" >0.0031%</text>
<path d="M360.0 101.3 H405.0" stroke="#5656ff" stroke-width="1.30"/>
<text x="415.0" y="103.8" font-family="Liberation Sans" font-size="6.85" text-anchor="start" fill="#2a2a2a" font-weight="bold" >0.0062%</text>
<path d="M360.0 111.3 H405.0" stroke="#5a5cff" stroke-width="1.30"/>
<text x="415.0" y="113.8" font-family="Liberation Sans" font-size="6.85" text-anchor="start" fill="#2a2a2a" font-weight="bold" >0.012%</text>
<path d="M360.0 121.3 H405.0" stroke="#6498f4" stroke-width="1.30"/>
<text x="415.0" y="123.8" font-family="Liberation Sans" font-size="6.85" text-anchor="start" fill="#2a2a2a" font-weight="bold" >0.025%</text>
<path d="M360.0 131.3 H405.0" stroke="#68b8f4" stroke-width="1.30"/>
<text x="415.0" y="133.8" font-family="Liberation Sans" font-size="6.85" text-anchor="start" fill="#2a2a2a" font-weight="bold" >0.05%</text>
<path d="M360.0 141.3 H405.0" stroke="#78e4f8" stroke-width="1.30"/>
<text x="415.0" y="143.8" font-family="Liberation Sans" font-size="6.85" text-anchor="start" fill="#2a2a2a" font-weight="bold" >0.1%</text>
<path d="M360.0 151.3 H405.0" stroke="#7af0e0" stroke-width="1.30"/>
<text x="415.0" y="153.8" font-family="Liberation Sans" font-size="6.85" text-anchor="start" fill="#2a2a2a" font-weight="bold" >0.2%</text>
<path d="M360.0 161.3 H405.0" stroke="#90f2c0" stroke-width="1.30"/>
<text x="415.0" y="163.8" font-family="Liberation Sans" font-size="6.85" text-anchor="start" fill="#2a2a2a" font-weight="bold" >0.4%</text>
<path d="M360.0 171.3 H405.0" stroke="#98f098" stroke-width="1.30"/>
<text x="415.0" y="173.8" font-family="Liberation Sans" font-size="6.85" text-anchor="start" fill="#2a2a2a" font-weight="bold" >0.6%</text>
<path d="M360.0 181.3 H405.0" stroke="#90ec70" stroke-width="1.30"/>
<text x="415.0" y="183.8" font-family="Liberation Sans" font-size="6.85" text-anchor="start" fill="#2a2a2a" font-weight="bold" >0.8%</text>
<path d="M360.0 191.3 H405.0" stroke="#88e848" stroke-width="1.30"/>
<text x="415.0" y="193.8" font-family="Liberation Sans" font-size="6.85" text-anchor="start" fill="#2a2a2a" font-weight="bold" >1%</text>
<path d="M360.0 201.3 H405.0" stroke="#a8ec60" stroke-width="1.30"/>
<text x="415.0" y="203.8" font-family="Liberation Sans" font-size="6.85" text-anchor="start" fill="#2a2a2a" font-weight="bold" >2%</text>
<path d="M465.0 61.3 H510.5" stroke="#b0f040" stroke-width="1.30"/>
<text x="521.3" y="63.8" font-family="Liberation Sans" font-size="6.85" text-anchor="start" fill="#2a2a2a" font-weight="bold" >3%</text>
<path d="M465.0 71.3 H510.5" stroke="#d4f040" stroke-width="1.30"/>
<text x="521.3" y="73.8" font-family="Liberation Sans" font-size="6.85" text-anchor="start" fill="#2a2a2a" font-weight="bold" >4%</text>
<path d="M465.0 81.3 H510.5" stroke="#f0f038" stroke-width="1.30"/>
<text x="521.3" y="83.8" font-family="Liberation Sans" font-size="6.85" text-anchor="start" fill="#2a2a2a" font-weight="bold" >5%</text>
<path d="M465.0 91.3 H510.5" stroke="#f0d048" stroke-width="1.30"/>
<text x="521.3" y="93.8" font-family="Liberation Sans" font-size="6.85" text-anchor="start" fill="#2a2a2a" font-weight="bold" >6%</text>
<path d="M465.0 101.3 H510.5" stroke="#f0a458" stroke-width="1.30"/>
<text x="521.3" y="103.8" font-family="Liberation Sans" font-size="6.85" text-anchor="start" fill="#2a2a2a" font-weight="bold" >7%</text>
<path d="M465.0 111.3 H510.5" stroke="#ffd8e0" stroke-width="1.30"/>
<text x="521.3" y="113.8" font-family="Liberation Sans" font-size="6.85" text-anchor="start" fill="#2a2a2a" font-weight="bold" >8%</text>
<path d="M465.0 121.3 H510.5" stroke="#ff98dc" stroke-width="1.30"/>
<text x="521.3" y="123.8" font-family="Liberation Sans" font-size="6.85" text-anchor="start" fill="#2a2a2a" font-weight="bold" >9%</text>
<path d="M465.0 131.3 H510.5" stroke="#f078e4" stroke-width="1.30"/>
<text x="521.3" y="133.8" font-family="Liberation Sans" font-size="6.85" text-anchor="start" fill="#2a2a2a" font-weight="bold" >10%</text>
<path d="M465.0 141.3 H510.5" stroke="#e868f0" stroke-width="1.30"/>
<text x="521.3" y="143.8" font-family="Liberation Sans" font-size="6.85" text-anchor="start" fill="#2a2a2a" font-weight="bold" >15%</text>
<path d="M465.0 151.3 H510.5" stroke="#e050f0" stroke-width="1.30"/>
<text x="521.3" y="153.8" font-family="Liberation Sans" font-size="6.85" text-anchor="start" fill="#2a2a2a" font-weight="bold" >20%</text>
<path d="M465.0 161.3 H510.5" stroke="#f8d8f8" stroke-width="1.30"/>
<text x="521.3" y="163.8" font-family="Liberation Sans" font-size="6.85" text-anchor="start" fill="#2a2a2a" font-weight="bold" >25%</text>
<path d="M465.0 171.3 H510.5" stroke="#e4b8f4" stroke-width="1.30"/>
<text x="521.3" y="173.8" font-family="Liberation Sans" font-size="6.85" text-anchor="start" fill="#2a2a2a" font-weight="bold" >30%</text>
<path d="M465.0 181.3 H510.5" stroke="#e4c4fa" stroke-width="1.30"/>
<text x="521.3" y="183.8" font-family="Liberation Sans" font-size="6.85" text-anchor="start" fill="#2a2a2a" font-weight="bold" >40%</text>
<path d="M465.0 191.3 H510.5" stroke="#b488f2" stroke-width="1.30"/>
<text x="521.3" y="193.8" font-family="Liberation Sans" font-size="6.85" text-anchor="start" fill="#2a2a2a" font-weight="bold" >50%</text>
<polygon points="466.90,197.40 467.86,199.97 470.61,200.09 468.46,201.81 469.19,204.46 466.90,202.94 464.61,204.46 465.34,201.81 463.19,200.09 465.94,199.97" fill="#e01010" stroke="#600" stroke-width="0.30" stroke-linejoin="miter"/>
<polygon points="487.60,197.40 488.56,199.97 491.31,200.09 489.16,201.81 489.89,204.46 487.60,202.94 485.31,204.46 486.04,201.81 483.89,200.09 486.64,199.97" fill="#e01010" stroke="#600" stroke-width="0.30" stroke-linejoin="miter"/>
<polygon points="508.70,197.40 509.66,199.97 512.41,200.09 510.26,201.81 510.99,204.46 508.70,202.94 506.41,204.46 507.14,201.81 504.99,200.09 507.74,199.97" fill="#e01010" stroke="#600" stroke-width="0.30" stroke-linejoin="miter"/>
<text x="521.3" y="203.8" font-family="Liberation Sans" font-size="6.85" text-anchor="start" fill="#2a2a2a" font-weight="bold" >100%</text>
<rect x="49.5" y="7.5" width="85" height="42.5" fill="#fff" stroke="#e8202a" stroke-width="1.7"/>
<path d="M134.5 7.5 L188.2 49.3 M134.5 50 L188.2 61.8" stroke="#e8202a" stroke-width="1.5" fill="none"/>
<rect x="188.2" y="49.3" width="25" height="12.5" fill="none" stroke="#e8202a" stroke-width="1.7"/>
<rect x="51.8" y="9.5" width="14.6" height="10" fill="#dfe2e2"/>
<text x="57.3" y="17.0" font-family="Liberation Serif" font-size="10.00" text-anchor="middle" fill="#111" font-weight="bold" >a</text>
<text x="62.6" y="18.9" font-family="Liberation Serif" font-size="4.20" text-anchor="middle" fill="#333" font-weight="bold" >2</text>
<polygon points="70.60,9.80 71.34,11.78 73.45,11.87 71.80,13.19 72.36,15.23 70.60,14.06 68.84,15.23 69.40,13.19 67.75,11.87 69.86,11.78" fill="none" stroke="#28389a" stroke-width="0.95" stroke-linejoin="miter"/>
<polygon points="77.35,9.80 78.09,11.78 80.20,11.87 78.55,13.19 79.11,15.23 77.35,14.06 75.59,15.23 76.15,13.19 74.50,11.87 76.61,11.78" fill="none" stroke="#28389a" stroke-width="0.95" stroke-linejoin="miter"/>
<polygon points="84.10,9.80 84.84,11.78 86.95,11.87 85.30,13.19 85.86,15.23 84.10,14.06 82.34,15.23 82.90,13.19 81.25,11.87 83.36,11.78" fill="none" stroke="#28389a" stroke-width="0.95" stroke-linejoin="miter"/>
<polygon points="90.85,9.80 91.59,11.78 93.70,11.87 92.05,13.19 92.61,15.23 90.85,14.06 89.09,15.23 89.65,13.19 88.00,11.87 90.11,11.78" fill="none" stroke="#28389a" stroke-width="0.95" stroke-linejoin="miter"/>
<polygon points="97.60,9.80 98.34,11.78 100.45,11.87 98.80,13.19 99.36,15.23 97.60,14.06 95.84,15.23 96.40,13.19 94.75,11.87 96.86,11.78" fill="none" stroke="#28389a" stroke-width="0.95" stroke-linejoin="miter"/>
<polygon points="104.35,9.80 105.09,11.78 107.20,11.87 105.55,13.19 106.11,15.23 104.35,14.06 102.59,15.23 103.15,13.19 101.50,11.87 103.61,11.78" fill="none" stroke="#28389a" stroke-width="0.95" stroke-linejoin="miter"/>
<polygon points="111.10,9.80 111.84,11.78 113.95,11.87 112.30,13.19 112.86,15.23 111.10,14.06 109.34,15.23 109.90,13.19 108.25,11.87 110.36,11.78" fill="none" stroke="#28389a" stroke-width="0.95" stroke-linejoin="miter"/>
<polygon points="117.85,9.80 118.59,11.78 120.70,11.87 119.05,13.19 119.61,15.23 117.85,14.06 116.09,15.23 116.65,13.19 115.00,11.87 117.11,11.78" fill="none" stroke="#28389a" stroke-width="0.95" stroke-linejoin="miter"/>
<polygon points="124.60,9.80 125.34,11.78 127.45,11.87 125.80,13.19 126.36,15.23 124.60,14.06 122.84,15.23 123.40,13.19 121.75,11.87 123.86,11.78" fill="none" stroke="#28389a" stroke-width="0.95" stroke-linejoin="miter"/>
<polygon points="131.35,9.80 132.09,11.78 134.20,11.87 132.55,13.19 133.11,15.23 131.35,14.06 129.59,15.23 130.15,13.19 128.50,11.87 130.61,11.78" fill="none" stroke="#28389a" stroke-width="0.95" stroke-linejoin="miter"/>
<g stroke="#4050e0" stroke-width="0.9" fill="none">
<path d="M50.5 23.2 Q92 21.9 134 19.6"/>
<path d="M50.5 24.8 Q92 23.5 134 21.2"/>
<path d="M50.5 32.2 Q92 30.0 134 26.8"/>
<path d="M50.5 34.0 Q92 31.8 134 28.6"/>
<path d="M50.5 36.0 Q92 33.8 134 30.6"/>
<path d="M50.5 44.0 Q92 40.0 134 35.0"/>
<path d="M71 50 Q100 44 134 38"/>
</g>
<rect x="188.2" y="180.5" width="25" height="12.8" fill="none" stroke="#e8202a" stroke-width="1.7"/>
<path d="M213.2 180.5 L254.5 167.6 M213.2 193.3 L254.5 210.2" stroke="#e8202a" stroke-width="1.5" fill="none"/>
<rect x="254.5" y="167.6" width="84.5" height="42.6" fill="#fff" stroke="#e8202a" stroke-width="1.7"/>
<g fill="none" stroke-width="1.0">
<path d="M255 174.5 Q275 172 290 167.8" stroke="#d050f0"/>
<path d="M255 181.5 Q290 178 322 167.8" stroke="#f0b0f0"/>
<path d="M255 188.2 Q300 184 338.5 170" stroke="#c070f0"/>
<path d="M255 191.8 Q300 188 338.5 172" stroke="#d8b0f8"/>
<path d="M255 196.4 Q300 192 338.5 174" stroke="#7060f0"/>
</g>
<polygon points="260.00,203.60 260.74,205.58 262.85,205.67 261.20,206.99 261.76,209.03 260.00,207.86 258.24,209.03 258.80,206.99 257.15,205.67 259.26,205.58" fill="#ee1c24" stroke="#b00" stroke-width="0.20" stroke-linejoin="miter"/>
<polygon points="266.95,202.80 267.69,204.78 269.80,204.88 268.14,206.19 268.71,208.23 266.95,207.06 265.18,208.23 265.75,206.19 264.09,204.88 266.20,204.78" fill="#ee1c24" stroke="#b00" stroke-width="0.20" stroke-linejoin="miter"/>
<polygon points="273.89,201.64 274.63,203.62 276.74,203.71 275.09,205.03 275.65,207.06 273.89,205.90 272.13,207.06 272.69,205.03 271.04,203.71 273.15,203.62" fill="#ee1c24" stroke="#b00" stroke-width="0.20" stroke-linejoin="miter"/>
<polygon points="280.84,200.28 281.58,202.26 283.69,202.35 282.03,203.66 282.60,205.70 280.84,204.54 279.07,205.70 279.64,203.66 277.98,202.35 280.10,202.26" fill="#ee1c24" stroke="#b00" stroke-width="0.20" stroke-linejoin="miter"/>
<polygon points="287.78,198.77 288.52,200.75 290.63,200.84 288.98,202.16 289.55,204.19 287.78,203.03 286.02,204.19 286.58,202.16 284.93,200.84 287.04,200.75" fill="#ee1c24" stroke="#b00" stroke-width="0.20" stroke-linejoin="miter"/>
<polygon points="294.73,197.14 295.47,199.12 297.58,199.21 295.93,200.53 296.49,202.57 294.73,201.40 292.96,202.57 293.53,200.53 291.87,199.21 293.99,199.12" fill="#ee1c24" stroke="#b00" stroke-width="0.20" stroke-linejoin="miter"/>
<polygon points="301.67,195.41 302.41,197.39 304.53,197.49 302.87,198.80 303.44,200.84 301.67,199.67 299.91,200.84 300.47,198.80 298.82,197.49 300.93,197.39" fill="#ee1c24" stroke="#b00" stroke-width="0.20" stroke-linejoin="miter"/>
<polygon points="308.62,193.60 309.36,195.58 311.47,195.67 309.82,196.99 310.38,199.02 308.62,197.86 306.85,199.02 307.42,196.99 305.77,195.67 307.88,195.58" fill="#ee1c24" stroke="#b00" stroke-width="0.20" stroke-linejoin="miter"/>
<polygon points="315.56,191.70 316.30,193.68 318.42,193.77 316.76,195.09 317.33,197.13 315.56,195.96 313.80,197.13 314.37,195.09 312.71,193.77 314.82,193.68" fill="#ee1c24" stroke="#b00" stroke-width="0.20" stroke-linejoin="miter"/>
<polygon points="322.51,189.73 323.25,191.71 325.36,191.81 323.71,193.12 324.27,195.16 322.51,193.99 320.75,195.16 321.31,193.12 319.66,191.81 321.77,191.71" fill="#ee1c24" stroke="#b00" stroke-width="0.20" stroke-linejoin="miter"/>
<polygon points="329.45,187.70 330.20,189.68 332.31,189.77 330.65,191.09 331.22,193.12 329.45,191.96 327.69,193.12 328.26,191.09 326.60,189.77 328.71,189.68" fill="#ee1c24" stroke="#b00" stroke-width="0.20" stroke-linejoin="miter"/>
<polygon points="336.40,185.60 337.14,187.58 339.25,187.67 337.60,188.99 338.16,191.03 336.40,189.86 334.64,191.03 335.20,188.99 333.55,187.67 335.66,187.58" fill="#ee1c24" stroke="#b00" stroke-width="0.20" stroke-linejoin="miter"/>
<rect x="322.9" y="198.3" width="15.4" height="10.9" fill="#dfe2e2"/>
<text x="328.9" y="206.0" font-family="Liberation Serif" font-size="10.00" text-anchor="middle" fill="#111" font-weight="bold" >a</text>
<text x="334.2" y="207.9" font-family="Liberation Serif" font-size="4.20" text-anchor="middle" fill="#333" font-weight="bold" >3</text>
<path d="M52.4 346.0C52.8 346.0 54.0 345.9 54.9 345.8C55.7 345.8 56.5 345.7 57.3 345.7C58.2 345.6 59.0 345.6 59.8 345.5C60.6 345.5 61.5 345.4 62.3 345.4C63.1 345.3 63.9 345.3 64.8 345.2C65.6 345.2 66.4 345.1 67.2 345.1C68.0 345.0 68.9 345.0 69.7 344.9C70.5 344.8 71.3 344.8 72.2 344.7C73.0 344.7 73.8 344.6 74.6 344.6C75.5 344.5 76.3 344.4 77.1 344.4C77.9 344.3 78.7 344.3 79.6 344.2C80.4 344.1 81.2 344.0 82.0 343.8C82.9 343.7 83.7 343.5 84.5 343.2C85.3 342.9 86.2 342.5 87.0 342.0C87.8 341.5 88.6 340.9 89.5 340.1C90.3 339.4 91.1 338.5 91.9 337.5C92.7 336.5 93.6 335.4 94.4 334.2C95.2 333.0 96.0 331.7 96.9 330.3C97.7 328.9 98.5 327.3 99.3 325.7C100.2 324.0 101.0 322.2 101.8 320.2C102.6 318.2 103.4 316.1 104.3 313.7C105.1 311.4 105.9 308.9 106.7 306.3C107.6 303.7 108.4 300.9 109.2 298.1C110.0 295.2 110.9 292.2 111.7 289.2C112.5 286.3 113.3 283.2 114.2 280.5C115.0 277.8 115.8 275.0 116.6 272.9C117.4 270.8 118.3 268.9 119.1 267.9C119.9 266.8 120.7 266.4 121.6 266.7C122.4 267.0 123.2 268.1 124.0 269.5C124.9 271.0 125.7 273.2 126.5 275.4C127.3 277.6 128.1 280.3 129.0 282.9C129.8 285.5 130.6 288.3 131.4 290.9C132.3 293.5 133.1 296.2 133.9 298.6C134.7 301.1 135.6 303.4 136.4 305.6C137.2 307.7 138.0 309.6 138.8 311.3C139.7 312.9 140.5 314.3 141.3 315.4C142.1 316.6 143.0 317.4 143.8 318.2C144.6 318.9 145.4 319.3 146.3 319.7C147.1 320.1 147.9 320.3 148.7 320.5C149.6 320.7 150.8 320.7 151.2 320.8" fill="none" stroke="#b488f2" stroke-width="1.10" />
<path d="M52.4 346.2C52.8 346.1 54.0 346.0 54.9 346.0C55.7 345.9 56.5 345.9 57.3 345.8C58.2 345.8 59.0 345.7 59.8 345.7C60.6 345.6 61.5 345.6 62.3 345.5C63.1 345.5 63.9 345.4 64.8 345.3C65.6 345.3 66.4 345.2 67.2 345.2C68.0 345.1 68.9 345.1 69.7 345.0C70.5 344.9 71.3 344.9 72.2 344.8C73.0 344.8 73.8 344.7 74.6 344.6C75.5 344.6 76.3 344.5 77.1 344.4C77.9 344.4 78.7 344.3 79.6 344.2C80.4 344.1 81.2 344.0 82.0 343.8C82.9 343.7 83.7 343.5 84.5 343.2C85.3 342.8 86.2 342.5 87.0 341.9C87.8 341.4 88.6 340.7 89.5 339.9C90.3 339.1 91.1 338.1 91.9 337.1C92.7 336.0 93.6 334.8 94.4 333.5C95.2 332.3 96.0 330.9 96.9 329.4C97.7 327.9 98.5 326.3 99.3 324.5C100.2 322.7 101.0 320.8 101.8 318.7C102.6 316.6 103.4 314.3 104.3 311.8C105.1 309.4 105.9 306.8 106.7 304.0C107.6 301.3 108.4 298.3 109.2 295.4C110.0 292.4 110.9 289.2 111.7 286.2C112.5 283.1 113.3 279.9 114.2 277.1C115.0 274.3 115.8 271.5 116.6 269.3C117.4 267.2 118.3 265.3 119.1 264.3C119.9 263.3 120.7 262.9 121.6 263.2C122.4 263.6 123.2 264.8 124.0 266.3C124.9 267.9 125.7 270.2 126.5 272.5C127.3 274.9 128.1 277.7 129.0 280.4C129.8 283.1 130.6 285.9 131.4 288.6C132.3 291.3 133.1 294.0 133.9 296.5C134.7 299.0 135.6 301.5 136.4 303.6C137.2 305.8 138.0 307.8 138.8 309.4C139.7 311.1 140.5 312.5 141.3 313.7C142.1 314.8 143.0 315.7 143.8 316.4C144.6 317.1 145.4 317.5 146.3 317.9C147.1 318.3 147.9 318.5 148.7 318.7C149.6 318.8 150.8 318.9 151.2 318.9" fill="none" stroke="#e4c4fa" stroke-width="1.10" />
<path d="M52.4 346.2C52.8 346.2 54.0 346.1 54.9 346.1C55.7 346.0 56.5 346.0 57.3 345.9C58.2 345.8 59.0 345.8 59.8 345.7C60.6 345.7 61.5 345.6 62.3 345.6C63.1 345.5 63.9 345.5 64.8 345.4C65.6 345.3 66.4 345.3 67.2 345.2C68.0 345.2 68.9 345.1 69.7 345.1C70.5 345.0 71.3 344.9 72.2 344.9C73.0 344.8 73.8 344.7 74.6 344.7C75.5 344.6 76.3 344.6 77.1 344.5C77.9 344.4 78.7 344.3 79.6 344.2C80.4 344.1 81.2 344.0 82.0 343.9C82.9 343.7 83.7 343.5 84.5 343.2C85.3 342.8 86.2 342.4 87.0 341.9C87.8 341.3 88.6 340.6 89.5 339.8C90.3 338.9 91.1 338.0 91.9 336.9C92.7 335.8 93.6 334.6 94.4 333.2C95.2 331.9 96.0 330.5 96.9 328.9C97.7 327.4 98.5 325.7 99.3 323.9C100.2 322.0 101.0 320.1 101.8 317.9C102.6 315.8 103.4 313.4 104.3 310.9C105.1 308.4 105.9 305.7 106.7 302.9C107.6 300.1 108.4 297.1 109.2 294.1C110.0 291.0 110.9 287.8 111.7 284.7C112.5 281.6 113.3 278.4 114.2 275.5C115.0 272.7 115.8 269.8 116.6 267.6C117.4 265.5 118.3 263.6 119.1 262.6C119.9 261.6 120.7 261.2 121.6 261.6C122.4 262.0 123.2 263.2 124.0 264.8C124.9 266.4 125.7 268.8 126.5 271.2C127.3 273.6 128.1 276.5 129.0 279.2C129.8 281.9 130.6 284.8 131.4 287.6C132.3 290.3 133.1 293.1 133.9 295.6C134.7 298.1 135.6 300.6 136.4 302.7C137.2 304.9 138.0 306.9 138.8 308.6C139.7 310.3 140.5 311.7 141.3 312.8C142.1 314.0 143.0 314.8 143.8 315.6C144.6 316.3 145.4 316.7 146.3 317.1C147.1 317.5 147.9 317.6 148.7 317.8C149.6 318.0 150.8 318.0 151.2 318.0" fill="none" stroke="#e4b8f4" stroke-width="1.10" />
<path d="M52.4 346.4C52.8 346.3 54.0 346.3 54.9 346.2C55.7 346.1 56.5 346.1 57.3 346.0C58.2 346.0 59.0 345.9 59.8 345.8C60.6 345.8 61.5 345.7 62.3 345.7C63.1 345.6 63.9 345.6 64.8 345.5C65.6 345.4 66.4 345.4 67.2 345.3C68.0 345.3 68.9 345.2 69.7 345.1C70.5 345.1 71.3 345.0 72.2 344.9C73.0 344.9 73.8 344.8 74.6 344.7C75.5 344.7 76.3 344.6 77.1 344.5C77.9 344.5 78.7 344.4 79.6 344.3C80.4 344.2 81.2 344.1 82.0 343.9C82.9 343.7 83.7 343.5 84.5 343.1C85.3 342.8 86.2 342.4 87.0 341.8C87.8 341.2 88.6 340.5 89.5 339.6C90.3 338.7 91.1 337.7 91.9 336.5C92.7 335.4 93.6 334.1 94.4 332.7C95.2 331.4 96.0 329.9 96.9 328.3C97.7 326.6 98.5 324.9 99.3 323.0C100.2 321.1 101.0 319.0 101.8 316.8C102.6 314.5 103.4 312.1 104.3 309.5C105.1 306.9 105.9 304.1 106.7 301.2C107.6 298.3 108.4 295.2 109.2 292.1C110.0 289.0 110.9 285.6 111.7 282.5C112.5 279.3 113.3 276.0 114.2 273.1C115.0 270.2 115.8 267.3 116.6 265.1C117.4 262.9 118.3 261.0 119.1 260.1C119.9 259.1 120.7 258.8 121.6 259.2C122.4 259.6 123.2 261.0 124.0 262.6C124.9 264.3 125.7 266.8 126.5 269.3C127.3 271.7 128.1 274.7 129.0 277.5C129.8 280.3 130.6 283.2 131.4 286.0C132.3 288.8 133.1 291.6 133.9 294.2C134.7 296.8 135.6 299.2 136.4 301.4C137.2 303.6 138.0 305.6 138.8 307.3C139.7 309.0 140.5 310.4 141.3 311.6C142.1 312.8 143.0 313.6 143.8 314.3C144.6 315.0 145.4 315.5 146.3 315.8C147.1 316.2 147.9 316.4 148.7 316.5C149.6 316.7 150.8 316.7 151.2 316.7" fill="none" stroke="#f8d8f8" stroke-width="1.10" />
<path d="M52.4 346.6C52.8 346.6 54.0 346.5 54.9 346.4C55.7 346.3 56.5 346.3 57.3 346.2C58.2 346.2 59.0 346.1 59.8 346.0C60.6 346.0 61.5 345.9 62.3 345.9C63.1 345.8 63.9 345.7 64.8 345.7C65.6 345.6 66.4 345.5 67.2 345.5C68.0 345.4 68.9 345.3 69.7 345.3C70.5 345.2 71.3 345.1 72.2 345.1C73.0 345.0 73.8 344.9 74.6 344.8C75.5 344.8 76.3 344.7 77.1 344.6C77.9 344.5 78.7 344.5 79.6 344.3C80.4 344.2 81.2 344.1 82.0 343.9C82.9 343.7 83.7 343.5 84.5 343.1C85.3 342.7 86.2 342.3 87.0 341.7C87.8 341.0 88.6 340.2 89.5 339.3C90.3 338.3 91.1 337.2 91.9 336.0C92.7 334.8 93.6 333.4 94.4 331.9C95.2 330.4 96.0 328.8 96.9 327.1C97.7 325.3 98.5 323.4 99.3 321.4C100.2 319.3 101.0 317.1 101.8 314.7C102.6 312.4 103.4 309.8 104.3 307.0C105.1 304.3 105.9 301.3 106.7 298.3C107.6 295.2 108.4 291.9 109.2 288.7C110.0 285.4 110.9 281.9 111.7 278.6C112.5 275.4 113.3 271.9 114.2 269.0C115.0 266.0 115.8 263.0 116.6 260.8C117.4 258.6 118.3 256.8 119.1 255.8C119.9 254.9 120.7 254.7 121.6 255.2C122.4 255.8 123.2 257.2 124.0 259.1C124.9 260.9 125.7 263.5 126.5 266.1C127.3 268.7 128.1 271.8 129.0 274.7C129.8 277.6 130.6 280.7 131.4 283.6C132.3 286.4 133.1 289.3 133.9 291.9C134.7 294.6 135.6 297.1 136.4 299.3C137.2 301.6 138.0 303.6 138.8 305.3C139.7 307.0 140.5 308.5 141.3 309.6C142.1 310.8 143.0 311.6 143.8 312.3C144.6 313.0 145.4 313.4 146.3 313.8C147.1 314.1 147.9 314.3 148.7 314.4C149.6 314.6 150.8 314.6 151.2 314.6" fill="none" stroke="#e050f0" stroke-width="1.10" />
<path d="M52.4 346.7C52.8 346.7 54.0 346.6 54.9 346.5C55.7 346.5 56.5 346.4 57.3 346.3C58.2 346.3 59.0 346.2 59.8 346.1C60.6 346.1 61.5 346.0 62.3 346.0C63.1 345.9 63.9 345.8 64.8 345.8C65.6 345.7 66.4 345.6 67.2 345.6C68.0 345.5 68.9 345.4 69.7 345.3C70.5 345.3 71.3 345.2 72.2 345.1C73.0 345.1 73.8 345.0 74.6 344.9C75.5 344.8 76.3 344.8 77.1 344.7C77.9 344.6 78.7 344.5 79.6 344.4C80.4 344.3 81.2 344.2 82.0 343.9C82.9 343.7 83.7 343.5 84.5 343.1C85.3 342.7 86.2 342.2 87.0 341.6C87.8 340.9 88.6 340.1 89.5 339.1C90.3 338.1 91.1 337.0 91.9 335.7C92.7 334.4 93.6 332.9 94.4 331.4C95.2 329.8 96.0 328.2 96.9 326.4C97.7 324.6 98.5 322.6 99.3 320.5C100.2 318.4 101.0 316.1 101.8 313.6C102.6 311.1 103.4 308.5 104.3 305.6C105.1 302.8 105.9 299.8 106.7 296.6C107.6 293.5 108.4 290.1 109.2 286.8C110.0 283.4 110.9 279.9 111.7 276.5C112.5 273.2 113.3 269.7 114.2 266.7C115.0 263.7 115.8 260.7 116.6 258.5C117.4 256.4 118.3 254.5 119.1 253.6C119.9 252.7 120.7 252.6 121.6 253.2C122.4 253.8 123.2 255.3 124.0 257.2C124.9 259.1 125.7 261.8 126.5 264.5C127.3 267.2 128.1 270.3 129.0 273.3C129.8 276.3 130.6 279.4 131.4 282.3C132.3 285.2 133.1 288.2 133.9 290.8C134.7 293.5 135.6 296.0 136.4 298.3C137.2 300.5 138.0 302.6 138.8 304.3C139.7 306.0 140.5 307.5 141.3 308.6C142.1 309.8 143.0 310.6 143.8 311.3C144.6 312.0 145.4 312.4 146.3 312.8C147.1 313.1 147.9 313.3 148.7 313.4C149.6 313.5 150.8 313.5 151.2 313.5" fill="none" stroke="#e868f0" stroke-width="1.10" />
<path d="M52.4 346.8C52.8 346.8 54.0 346.7 54.9 346.6C55.7 346.6 56.5 346.5 57.3 346.4C58.2 346.4 59.0 346.3 59.8 346.2C60.6 346.2 61.5 346.1 62.3 346.0C63.1 346.0 63.9 345.9 64.8 345.8C65.6 345.8 66.4 345.7 67.2 345.6C68.0 345.5 68.9 345.5 69.7 345.4C70.5 345.3 71.3 345.3 72.2 345.2C73.0 345.1 73.8 345.0 74.6 344.9C75.5 344.9 76.3 344.8 77.1 344.7C77.9 344.6 78.7 344.5 79.6 344.4C80.4 344.3 81.2 344.2 82.0 344.0C82.9 343.7 83.7 343.5 84.5 343.1C85.3 342.7 86.2 342.2 87.0 341.5C87.8 340.8 88.6 340.0 89.5 339.0C90.3 338.0 91.1 336.8 91.9 335.4C92.7 334.1 93.6 332.6 94.4 331.0C95.2 329.4 96.0 327.7 96.9 325.9C97.7 324.0 98.5 322.0 99.3 319.8C100.2 317.6 101.0 315.3 101.8 312.8C102.6 310.2 103.4 307.5 104.3 304.6C105.1 301.7 105.9 298.6 106.7 295.4C107.6 292.2 108.4 288.8 109.2 285.4C110.0 282.0 110.9 278.4 111.7 275.0C112.5 271.6 113.3 268.1 114.2 265.1C115.0 262.1 115.8 259.1 116.6 256.9C117.4 254.7 118.3 252.9 119.1 252.0C119.9 251.2 120.7 251.0 121.6 251.7C122.4 252.3 123.2 254.0 124.0 255.9C124.9 257.9 125.7 260.6 126.5 263.4C127.3 266.1 128.1 269.3 129.0 272.3C129.8 275.4 130.6 278.5 131.4 281.5C132.3 284.4 133.1 287.4 133.9 290.1C134.7 292.7 135.6 295.3 136.4 297.6C137.2 299.8 138.0 301.9 138.8 303.6C139.7 305.3 140.5 306.8 141.3 307.9C142.1 309.1 143.0 309.9 143.8 310.6C144.6 311.3 145.4 311.7 146.3 312.0C147.1 312.4 147.9 312.5 148.7 312.6C149.6 312.8 150.8 312.7 151.2 312.8" fill="none" stroke="#f078e4" stroke-width="1.10" />
<path d="M52.4 347.2C52.8 347.2 54.0 347.1 54.9 347.0C55.7 346.9 56.5 346.9 57.3 346.8C58.2 346.7 59.0 346.6 59.8 346.6C60.6 346.5 61.5 346.4 62.3 346.3C63.1 346.3 63.9 346.2 64.8 346.1C65.6 346.0 66.4 346.0 67.2 345.9C68.0 345.8 68.9 345.7 69.7 345.6C70.5 345.6 71.3 345.5 72.2 345.4C73.0 345.3 73.8 345.2 74.6 345.1C75.5 345.0 76.3 345.0 77.1 344.9C77.9 344.8 78.7 344.7 79.6 344.5C80.4 344.4 81.2 344.3 82.0 344.0C82.9 343.8 83.7 343.5 84.5 343.0C85.3 342.6 86.2 342.0 87.0 341.3C87.8 340.5 88.6 339.5 89.5 338.4C90.3 337.3 91.1 335.9 91.9 334.4C92.7 332.9 93.6 331.3 94.4 329.5C95.2 327.7 96.0 325.8 96.9 323.7C97.7 321.6 98.5 319.4 99.3 317.0C100.2 314.6 101.0 312.0 101.8 309.3C102.6 306.5 103.4 303.5 104.3 300.4C105.1 297.2 105.9 293.9 106.7 290.4C107.6 287.0 108.4 283.3 109.2 279.8C110.0 276.2 110.9 272.4 111.7 268.9C112.5 265.4 113.3 261.8 114.2 258.7C115.0 255.7 115.8 252.7 116.6 250.6C117.4 248.5 118.3 246.8 119.1 246.1C119.9 245.4 120.7 245.5 121.6 246.3C122.4 247.2 123.2 249.1 124.0 251.3C124.9 253.5 125.7 256.6 126.5 259.5C127.3 262.5 128.1 265.9 129.0 269.1C129.8 272.3 130.6 275.6 131.4 278.6C132.3 281.7 133.1 284.7 133.9 287.5C134.7 290.2 135.6 292.8 136.4 295.1C137.2 297.4 138.0 299.5 138.8 301.2C139.7 303.0 140.5 304.4 141.3 305.5C142.1 306.7 143.0 307.5 143.8 308.2C144.6 308.8 145.4 309.2 146.3 309.5C147.1 309.8 147.9 309.9 148.7 310.0C149.6 310.1 150.8 310.1 151.2 310.1" fill="none" stroke="#ff98dc" stroke-width="1.10" />
<path d="M52.4 347.5C52.8 347.5 54.0 347.4 54.9 347.3C55.7 347.2 56.5 347.1 57.3 347.1C58.2 347.0 59.0 346.9 59.8 346.8C60.6 346.7 61.5 346.7 62.3 346.6C63.1 346.5 63.9 346.4 64.8 346.3C65.6 346.3 66.4 346.2 67.2 346.1C68.0 346.0 68.9 345.9 69.7 345.8C70.5 345.7 71.3 345.7 72.2 345.6C73.0 345.5 73.8 345.4 74.6 345.3C75.5 345.2 76.3 345.1 77.1 345.0C77.9 344.9 78.7 344.8 79.6 344.6C80.4 344.5 81.2 344.3 82.0 344.1C82.9 343.8 83.7 343.5 84.5 343.0C85.3 342.5 86.2 341.9 87.0 341.0C87.8 340.2 88.6 339.2 89.5 337.9C90.3 336.7 91.1 335.2 91.9 333.5C92.7 331.9 93.6 330.1 94.4 328.2C95.2 326.2 96.0 324.1 96.9 321.9C97.7 319.7 98.5 317.3 99.3 314.7C100.2 312.1 101.0 309.3 101.8 306.4C102.6 303.4 103.4 300.2 104.3 296.9C105.1 293.6 105.9 290.0 106.7 286.5C107.6 282.9 108.4 279.1 109.2 275.4C110.0 271.7 110.9 267.9 111.7 264.3C112.5 260.8 113.3 257.2 114.2 254.1C115.0 251.1 115.8 248.2 116.6 246.2C117.4 244.2 118.3 242.7 119.1 242.2C119.9 241.7 120.7 242.0 121.6 243.2C122.4 244.3 123.2 246.4 124.0 248.9C124.9 251.3 125.7 254.6 126.5 257.8C127.3 260.9 128.1 264.5 129.0 267.9C129.8 271.2 130.6 274.7 131.4 277.9C132.3 281.1 133.1 284.2 133.9 287.0C134.7 289.8 135.6 292.5 136.4 294.8C137.2 297.2 138.0 299.3 138.8 301.0C139.7 302.8 140.5 304.2 141.3 305.4C142.1 306.6 143.0 307.4 143.8 308.1C144.6 308.7 145.4 309.1 146.3 309.5C147.1 309.8 147.9 309.9 148.7 310.0C149.6 310.1 150.8 310.1 151.2 310.1" fill="none" stroke="#ffd8e0" stroke-width="1.10" />
<path d="M52.4 347.6C52.8 347.5 54.0 347.4 54.9 347.3C55.7 347.3 56.5 347.2 57.3 347.1C58.2 347.0 59.0 346.9 59.8 346.9C60.6 346.8 61.5 346.7 62.3 346.6C63.1 346.5 63.9 346.5 64.8 346.4C65.6 346.3 66.4 346.2 67.2 346.1C68.0 346.0 68.9 345.9 69.7 345.9C70.5 345.8 71.3 345.7 72.2 345.6C73.0 345.5 73.8 345.4 74.6 345.3C75.5 345.2 76.3 345.1 77.1 345.0C77.9 344.9 78.7 344.8 79.6 344.6C80.4 344.5 81.2 344.3 82.0 344.1C82.9 343.8 83.7 343.5 84.5 343.0C85.3 342.5 86.2 341.9 87.0 341.0C87.8 340.2 88.6 339.1 89.5 337.8C90.3 336.6 91.1 335.0 91.9 333.4C92.7 331.8 93.6 329.9 94.4 328.0C95.2 326.0 96.0 323.9 96.9 321.6C97.7 319.3 98.5 316.9 99.3 314.3C100.2 311.7 101.0 308.9 101.8 305.9C102.6 302.9 103.4 299.7 104.3 296.4C105.1 293.1 105.9 289.5 106.7 285.9C107.6 282.3 108.4 278.5 109.2 274.9C110.0 271.2 110.9 267.3 111.7 263.8C112.5 260.3 113.3 256.7 114.2 253.7C115.0 250.7 115.8 247.8 116.6 245.9C117.4 243.9 118.3 242.4 119.1 242.0C119.9 241.5 120.7 241.9 121.6 243.1C122.4 244.3 123.2 246.5 124.0 248.9C124.9 251.4 125.7 254.7 126.5 257.9C127.3 261.1 128.1 264.8 129.0 268.1C129.8 271.5 130.6 275.0 131.4 278.2C132.3 281.3 133.1 284.5 133.9 287.3C134.7 290.1 135.6 292.8 136.4 295.1C137.2 297.5 138.0 299.6 138.8 301.3C139.7 303.1 140.5 304.5 141.3 305.7C142.1 306.8 143.0 307.7 143.8 308.3C144.6 309.0 145.4 309.4 146.3 309.7C147.1 310.1 147.9 310.2 148.7 310.3C149.6 310.4 150.8 310.4 151.2 310.4" fill="none" stroke="#f0a458" stroke-width="1.10" />
<path d="M52.4 347.6C52.8 347.6 54.0 347.4 54.9 347.4C55.7 347.3 56.5 347.2 57.3 347.1C58.2 347.0 59.0 347.0 59.8 346.9C60.6 346.8 61.5 346.7 62.3 346.6C63.1 346.6 63.9 346.5 64.8 346.4C65.6 346.3 66.4 346.2 67.2 346.1C68.0 346.1 68.9 346.0 69.7 345.9C70.5 345.8 71.3 345.7 72.2 345.6C73.0 345.5 73.8 345.4 74.6 345.3C75.5 345.2 76.3 345.1 77.1 345.0C77.9 344.9 78.7 344.8 79.6 344.6C80.4 344.5 81.2 344.3 82.0 344.1C82.9 343.8 83.7 343.5 84.5 343.0C85.3 342.5 86.2 341.9 87.0 341.0C87.8 340.1 88.6 339.1 89.5 337.8C90.3 336.5 91.1 335.0 91.9 333.3C92.7 331.7 93.6 329.8 94.4 327.8C95.2 325.9 96.0 323.7 96.9 321.5C97.7 319.2 98.5 316.7 99.3 314.1C100.2 311.5 101.0 308.7 101.8 305.7C102.6 302.7 103.4 299.5 104.3 296.1C105.1 292.8 105.9 289.2 106.7 285.6C107.6 282.0 108.4 278.2 109.2 274.5C110.0 270.8 110.9 267.0 111.7 263.5C112.5 260.0 113.3 256.4 114.2 253.4C115.0 250.5 115.8 247.6 116.6 245.7C117.4 243.8 118.3 242.3 119.1 241.9C119.9 241.4 120.7 241.9 121.6 243.1C122.4 244.3 123.2 246.5 124.0 249.0C124.9 251.5 125.7 254.9 126.5 258.1C127.3 261.3 128.1 264.9 129.0 268.3C129.8 271.7 130.6 275.2 131.4 278.3C132.3 281.5 133.1 284.7 133.9 287.5C134.7 290.3 135.6 293.0 136.4 295.3C137.2 297.6 138.0 299.7 138.8 301.5C139.7 303.3 140.5 304.7 141.3 305.9C142.1 307.0 143.0 307.8 143.8 308.5C144.6 309.2 145.4 309.6 146.3 309.9C147.1 310.2 147.9 310.4 148.7 310.5C149.6 310.6 150.8 310.6 151.2 310.6" fill="none" stroke="#f0d048" stroke-width="1.10" />
<path d="M52.4 347.7C52.8 347.7 54.0 347.5 54.9 347.5C55.7 347.4 56.5 347.3 57.3 347.2C58.2 347.1 59.0 347.1 59.8 347.0C60.6 346.9 61.5 346.8 62.3 346.7C63.1 346.6 63.9 346.6 64.8 346.5C65.6 346.4 66.4 346.3 67.2 346.2C68.0 346.1 68.9 346.0 69.7 345.9C70.5 345.8 71.3 345.8 72.2 345.7C73.0 345.6 73.8 345.5 74.6 345.4C75.5 345.3 76.3 345.2 77.1 345.1C77.9 344.9 78.7 344.8 79.6 344.7C80.4 344.5 81.2 344.4 82.0 344.1C82.9 343.8 83.7 343.5 84.5 343.0C85.3 342.4 86.2 341.8 87.0 340.9C87.8 340.0 88.6 338.9 89.5 337.6C90.3 336.2 91.1 334.7 91.9 333.0C92.7 331.3 93.6 329.3 94.4 327.3C95.2 325.3 96.0 323.1 96.9 320.7C97.7 318.4 98.5 315.9 99.3 313.2C100.2 310.5 101.0 307.7 101.8 304.6C102.6 301.6 103.4 298.3 104.3 294.9C105.1 291.5 105.9 288.0 106.7 284.3C107.6 280.7 108.4 276.9 109.2 273.3C110.0 269.6 110.9 265.8 111.7 262.4C112.5 258.9 113.3 255.4 114.2 252.5C115.0 249.7 115.8 246.9 116.6 245.2C117.4 243.4 118.3 242.1 119.1 241.8C119.9 241.5 120.7 242.1 121.6 243.4C122.4 244.7 123.2 247.1 124.0 249.7C124.9 252.3 125.7 255.7 126.5 259.0C127.3 262.3 128.1 265.9 129.0 269.3C129.8 272.8 130.6 276.2 131.4 279.4C132.3 282.6 133.1 285.7 133.9 288.5C134.7 291.4 135.6 294.0 136.4 296.3C137.2 298.6 138.0 300.7 138.8 302.5C139.7 304.2 140.5 305.6 141.3 306.8C142.1 307.9 143.0 308.7 143.8 309.4C144.6 310.1 145.4 310.5 146.3 310.8C147.1 311.2 147.9 311.3 148.7 311.4C149.6 311.5 150.8 311.5 151.2 311.6" fill="none" stroke="#f0f038" stroke-width="1.10" />
<path d="M52.4 347.8C52.8 347.7 54.0 347.6 54.9 347.5C55.7 347.5 56.5 347.4 57.3 347.3C58.2 347.2 59.0 347.1 59.8 347.1C60.6 347.0 61.5 346.9 62.3 346.8C63.1 346.7 63.9 346.6 64.8 346.5C65.6 346.5 66.4 346.4 67.2 346.3C68.0 346.2 68.9 346.1 69.7 346.0C70.5 345.9 71.3 345.8 72.2 345.7C73.0 345.6 73.8 345.5 74.6 345.4C75.5 345.3 76.3 345.2 77.1 345.1C77.9 345.0 78.7 344.9 79.6 344.7C80.4 344.5 81.2 344.4 82.0 344.1C82.9 343.8 83.7 343.5 84.5 342.9C85.3 342.3 86.2 341.7 87.0 340.8C87.8 339.8 88.6 338.7 89.5 337.3C90.3 335.9 91.1 334.3 91.9 332.5C92.7 330.7 93.6 328.7 94.4 326.6C95.2 324.5 96.0 322.3 96.9 319.8C97.7 317.4 98.5 314.9 99.3 312.1C100.2 309.4 101.0 306.4 101.8 303.3C102.6 300.2 103.4 297.0 104.3 293.6C105.1 290.2 105.9 286.6 106.7 283.0C107.6 279.4 108.4 275.7 109.2 272.1C110.0 268.5 110.9 264.9 111.7 261.5C112.5 258.2 113.3 254.9 114.2 252.3C115.0 249.6 115.8 247.1 116.6 245.5C117.4 244.0 118.3 242.9 119.1 242.9C119.9 242.8 120.7 243.6 121.6 245.1C122.4 246.6 123.2 249.2 124.0 251.9C124.9 254.6 125.7 258.1 126.5 261.4C127.3 264.8 128.1 268.5 129.0 271.9C129.8 275.3 130.6 278.7 131.4 281.9C132.3 285.1 133.1 288.1 133.9 290.9C134.7 293.6 135.6 296.2 136.4 298.5C137.2 300.7 138.0 302.8 138.8 304.4C139.7 306.1 140.5 307.5 141.3 308.6C142.1 309.8 143.0 310.6 143.8 311.2C144.6 311.9 145.4 312.3 146.3 312.6C147.1 312.9 147.9 313.1 148.7 313.2C149.6 313.4 150.8 313.4 151.2 313.4" fill="none" stroke="#d4f040" stroke-width="1.10" />
<path d="M52.4 347.7C52.8 347.7 54.0 347.6 54.9 347.5C55.7 347.4 56.5 347.3 57.3 347.3C58.2 347.2 59.0 347.1 59.8 347.0C60.6 346.9 61.5 346.9 62.3 346.8C63.1 346.7 63.9 346.6 64.8 346.5C65.6 346.4 66.4 346.3 67.2 346.3C68.0 346.2 68.9 346.1 69.7 346.0C70.5 345.9 71.3 345.8 72.2 345.7C73.0 345.6 73.8 345.5 74.6 345.4C75.5 345.3 76.3 345.2 77.1 345.1C77.9 345.0 78.7 344.8 79.6 344.7C80.4 344.5 81.2 344.3 82.0 344.0C82.9 343.7 83.7 343.4 84.5 342.8C85.3 342.3 86.2 341.6 87.0 340.6C87.8 339.7 88.6 338.5 89.5 337.1C90.3 335.7 91.1 334.0 91.9 332.2C92.7 330.4 93.6 328.3 94.4 326.2C95.2 324.0 96.0 321.7 96.9 319.3C97.7 316.9 98.5 314.3 99.3 311.5C100.2 308.8 101.0 305.8 101.8 302.8C102.6 299.7 103.4 296.5 104.3 293.1C105.1 289.8 105.9 286.3 106.7 282.8C107.6 279.4 108.4 275.8 109.2 272.4C110.0 269.0 110.9 265.6 111.7 262.5C112.5 259.4 113.3 256.4 114.2 254.0C115.0 251.6 115.8 249.4 116.6 248.2C117.4 246.9 118.3 246.1 119.1 246.3C119.9 246.5 120.7 247.5 121.6 249.2C122.4 250.8 123.2 253.5 124.0 256.3C124.9 259.0 125.7 262.6 126.5 265.9C127.3 269.2 128.1 272.8 129.0 276.2C129.8 279.5 130.6 282.8 131.4 285.9C132.3 288.9 133.1 291.8 133.9 294.5C134.7 297.1 135.6 299.6 136.4 301.7C137.2 303.9 138.0 305.7 138.8 307.4C139.7 309.0 140.5 310.2 141.3 311.3C142.1 312.4 143.0 313.1 143.8 313.8C144.6 314.4 145.4 314.8 146.3 315.1C147.1 315.4 147.9 315.6 148.7 315.7C149.6 315.9 150.8 315.9 151.2 316.0" fill="none" stroke="#b0f040" stroke-width="1.10" />
<path d="M52.4 347.5C52.8 347.4 54.0 347.3 54.9 347.3C55.7 347.2 56.5 347.1 57.3 347.0C58.2 347.0 59.0 346.9 59.8 346.8C60.6 346.8 61.5 346.7 62.3 346.6C63.1 346.5 63.9 346.4 64.8 346.4C65.6 346.3 66.4 346.2 67.2 346.1C68.0 346.0 68.9 345.9 69.7 345.9C70.5 345.8 71.3 345.7 72.2 345.6C73.0 345.5 73.8 345.4 74.6 345.3C75.5 345.2 76.3 345.1 77.1 345.0C77.9 344.9 78.7 344.8 79.6 344.6C80.4 344.4 81.2 344.3 82.0 344.0C82.9 343.7 83.7 343.3 84.5 342.8C85.3 342.2 86.2 341.5 87.0 340.6C87.8 339.6 88.6 338.4 89.5 337.0C90.3 335.6 91.1 334.0 91.9 332.2C92.7 330.4 93.6 328.3 94.4 326.2C95.2 324.1 96.0 321.8 96.9 319.4C97.7 317.0 98.5 314.5 99.3 311.8C100.2 309.1 101.0 306.3 101.8 303.3C102.6 300.3 103.4 297.2 104.3 294.0C105.1 290.8 105.9 287.5 106.7 284.2C107.6 281.0 108.4 277.6 109.2 274.4C110.0 271.3 110.9 268.1 111.7 265.3C112.5 262.5 113.3 259.8 114.2 257.7C115.0 255.6 115.8 253.7 116.6 252.7C117.4 251.7 118.3 251.2 119.1 251.6C119.9 251.9 120.7 253.1 121.6 254.9C122.4 256.6 123.2 259.2 124.0 262.0C124.9 264.8 125.7 268.2 126.5 271.4C127.3 274.6 128.1 278.1 129.0 281.2C129.8 284.4 130.6 287.6 131.4 290.5C132.3 293.3 133.1 296.1 133.9 298.5C134.7 301.0 135.6 303.3 136.4 305.3C137.2 307.3 138.0 309.0 138.8 310.5C139.7 312.0 140.5 313.2 141.3 314.2C142.1 315.2 143.0 315.9 143.8 316.5C144.6 317.1 145.4 317.5 146.3 317.8C147.1 318.1 147.9 318.2 148.7 318.4C149.6 318.5 150.8 318.6 151.2 318.6" fill="none" stroke="#a8ec60" stroke-width="1.10" />
<path d="M52.4 346.9C52.8 346.9 54.0 346.8 54.9 346.7C55.7 346.7 56.5 346.6 57.3 346.6C58.2 346.5 59.0 346.4 59.8 346.4C60.6 346.3 61.5 346.3 62.3 346.2C63.1 346.1 63.9 346.1 64.8 346.0C65.6 345.9 66.4 345.8 67.2 345.8C68.0 345.7 68.9 345.6 69.7 345.5C70.5 345.5 71.3 345.4 72.2 345.3C73.0 345.2 73.8 345.1 74.6 345.0C75.5 345.0 76.3 344.9 77.1 344.8C77.9 344.6 78.7 344.6 79.6 344.4C80.4 344.2 81.2 344.1 82.0 343.8C82.9 343.5 83.7 343.2 84.5 342.7C85.3 342.1 86.2 341.5 87.0 340.6C87.8 339.6 88.6 338.5 89.5 337.2C90.3 335.8 91.1 334.2 91.9 332.5C92.7 330.8 93.6 328.8 94.4 326.8C95.2 324.8 96.0 322.6 96.9 320.4C97.7 318.1 98.5 315.7 99.3 313.2C100.2 310.6 101.0 308.0 101.8 305.2C102.6 302.4 103.4 299.5 104.3 296.6C105.1 293.7 105.9 290.6 106.7 287.6C107.6 284.7 108.4 281.6 109.2 278.8C110.0 276.0 110.9 273.2 111.7 270.8C112.5 268.3 113.3 266.0 114.2 264.3C115.0 262.5 115.8 261.0 116.6 260.3C117.4 259.6 118.3 259.3 119.1 259.8C119.9 260.3 120.7 261.6 121.6 263.4C122.4 265.1 123.2 267.7 124.0 270.3C124.9 272.9 125.7 276.1 126.5 279.1C127.3 282.1 128.1 285.3 129.0 288.2C129.8 291.1 130.6 294.0 131.4 296.6C132.3 299.2 133.1 301.7 133.9 303.9C134.7 306.1 135.6 308.2 136.4 310.0C137.2 311.8 138.0 313.3 138.8 314.7C139.7 316.0 140.5 317.1 141.3 318.0C142.1 318.9 143.0 319.5 143.8 320.0C144.6 320.6 145.4 320.9 146.3 321.2C147.1 321.5 147.9 321.6 148.7 321.7C149.6 321.9 150.8 322.0 151.2 322.0" fill="none" stroke="#88e848" stroke-width="1.10" />
<path d="M52.4 346.6C52.8 346.6 54.0 346.5 54.9 346.5C55.7 346.4 56.5 346.4 57.3 346.3C58.2 346.2 59.0 346.2 59.8 346.1C60.6 346.1 61.5 346.0 62.3 346.0C63.1 345.9 63.9 345.8 64.8 345.8C65.6 345.7 66.4 345.7 67.2 345.6C68.0 345.5 68.9 345.4 69.7 345.4C70.5 345.3 71.3 345.2 72.2 345.1C73.0 345.1 73.8 345.0 74.6 344.9C75.5 344.8 76.3 344.7 77.1 344.6C77.9 344.5 78.7 344.4 79.6 344.3C80.4 344.1 81.2 344.0 82.0 343.7C82.9 343.4 83.7 343.1 84.5 342.6C85.3 342.1 86.2 341.5 87.0 340.6C87.8 339.7 88.6 338.6 89.5 337.3C90.3 335.9 91.1 334.4 91.9 332.7C92.7 331.0 93.6 329.2 94.4 327.2C95.2 325.2 96.0 323.1 96.9 320.9C97.7 318.7 98.5 316.4 99.3 314.0C100.2 311.5 101.0 309.0 101.8 306.3C102.6 303.6 103.4 300.8 104.3 298.0C105.1 295.2 105.9 292.3 106.7 289.5C107.6 286.6 108.4 283.8 109.2 281.1C110.0 278.4 110.9 275.8 111.7 273.5C112.5 271.2 113.3 269.1 114.2 267.4C115.0 265.8 115.8 264.5 116.6 263.8C117.4 263.2 118.3 263.0 119.1 263.6C119.9 264.2 120.7 265.5 121.6 267.2C122.4 268.9 123.2 271.4 124.0 273.9C124.9 276.5 125.7 279.6 126.5 282.5C127.3 285.3 128.1 288.4 129.0 291.2C129.8 294.0 130.6 296.7 131.4 299.2C132.3 301.7 133.1 304.1 133.9 306.2C134.7 308.3 135.6 310.3 136.4 312.0C137.2 313.7 138.0 315.2 138.8 316.4C139.7 317.7 140.5 318.7 141.3 319.6C142.1 320.4 143.0 321.0 143.8 321.5C144.6 322.0 145.4 322.3 146.3 322.6C147.1 322.9 147.9 323.0 148.7 323.2C149.6 323.3 150.8 323.4 151.2 323.4" fill="none" stroke="#90ec70" stroke-width="1.10" />
<path d="M52.4 346.0C52.8 346.0 54.0 345.9 54.9 345.9C55.7 345.8 56.5 345.8 57.3 345.8C58.2 345.7 59.0 345.7 59.8 345.6C60.6 345.6 61.5 345.6 62.3 345.5C63.1 345.5 63.9 345.4 64.8 345.4C65.6 345.3 66.4 345.3 67.2 345.2C68.0 345.1 68.9 345.1 69.7 345.0C70.5 345.0 71.3 344.9 72.2 344.8C73.0 344.8 73.8 344.7 74.6 344.6C75.5 344.6 76.3 344.5 77.1 344.4C77.9 344.3 78.7 344.2 79.6 344.1C80.4 343.9 81.2 343.8 82.0 343.5C82.9 343.3 83.7 343.0 84.5 342.5C85.3 342.0 86.2 341.4 87.0 340.6C87.8 339.7 88.6 338.7 89.5 337.5C90.3 336.2 91.1 334.8 91.9 333.2C92.7 331.6 93.6 329.9 94.4 328.0C95.2 326.2 96.0 324.2 96.9 322.1C97.7 320.1 98.5 317.9 99.3 315.6C100.2 313.4 101.0 311.0 101.8 308.5C102.6 306.0 103.4 303.4 104.3 300.8C105.1 298.3 105.9 295.6 106.7 293.0C107.6 290.4 108.4 287.8 109.2 285.4C110.0 283.0 110.9 280.6 111.7 278.5C112.5 276.5 113.3 274.6 114.2 273.2C115.0 271.8 115.8 270.7 116.6 270.2C117.4 269.7 118.3 269.7 119.1 270.3C119.9 270.9 120.7 272.2 121.6 273.8C122.4 275.5 123.2 277.9 124.0 280.3C124.9 282.7 125.7 285.6 126.5 288.2C127.3 290.9 128.1 293.8 129.0 296.3C129.8 298.9 130.6 301.5 131.4 303.8C132.3 306.1 133.1 308.2 133.9 310.2C134.7 312.1 135.6 313.9 136.4 315.4C137.2 317.0 138.0 318.4 138.8 319.5C139.7 320.7 140.5 321.6 141.3 322.4C142.1 323.2 143.0 323.7 143.8 324.2C144.6 324.7 145.4 325.0 146.3 325.2C147.1 325.5 147.9 325.6 148.7 325.8C149.6 325.9 150.8 326.0 151.2 326.0" fill="none" stroke="#98f098" stroke-width="1.10" />
<path d="M52.4 345.1C52.8 345.1 54.0 345.1 54.9 345.1C55.7 345.1 56.5 345.1 57.3 345.0C58.2 345.0 59.0 345.0 59.8 345.0C60.6 344.9 61.5 344.9 62.3 344.9C63.1 344.9 63.9 344.8 64.8 344.8C65.6 344.8 66.4 344.7 67.2 344.7C68.0 344.6 68.9 344.6 69.7 344.6C70.5 344.5 71.3 344.5 72.2 344.4C73.0 344.4 73.8 344.3 74.6 344.2C75.5 344.2 76.3 344.1 77.1 344.0C77.9 344.0 78.7 343.9 79.6 343.8C80.4 343.7 81.2 343.5 82.0 343.3C82.9 343.1 83.7 342.8 84.5 342.4C85.3 341.9 86.2 341.4 87.0 340.6C87.8 339.8 88.6 338.9 89.5 337.8C90.3 336.6 91.1 335.3 91.9 333.8C92.7 332.4 93.6 330.8 94.4 329.1C95.2 327.4 96.0 325.6 96.9 323.7C97.7 321.8 98.5 319.9 99.3 317.8C100.2 315.7 101.0 313.5 101.8 311.3C102.6 309.1 103.4 306.7 104.3 304.4C105.1 302.1 105.9 299.7 106.7 297.4C107.6 295.1 108.4 292.7 109.2 290.6C110.0 288.5 110.9 286.4 111.7 284.7C112.5 282.9 113.3 281.3 114.2 280.1C115.0 278.9 115.8 278.0 116.6 277.6C117.4 277.3 118.3 277.4 119.1 278.0C119.9 278.7 120.7 279.9 121.6 281.5C122.4 283.1 123.2 285.3 124.0 287.5C124.9 289.7 125.7 292.4 126.5 294.8C127.3 297.3 128.1 299.9 129.0 302.2C129.8 304.6 130.6 306.9 131.4 309.0C132.3 311.1 133.1 313.0 133.9 314.8C134.7 316.6 135.6 318.2 136.4 319.6C137.2 321.0 138.0 322.2 138.8 323.3C139.7 324.3 140.5 325.2 141.3 325.9C142.1 326.6 143.0 327.1 143.8 327.5C144.6 328.0 145.4 328.3 146.3 328.5C147.1 328.8 147.9 328.9 148.7 329.0C149.6 329.2 150.8 329.3 151.2 329.3" fill="none" stroke="#90f2c0" stroke-width="1.10" />
<path d="M52.4 343.5C52.8 343.5 54.0 343.5 54.9 343.6C55.7 343.6 56.5 343.6 57.3 343.6C58.2 343.6 59.0 343.6 59.8 343.6C60.6 343.6 61.5 343.6 62.3 343.7C63.1 343.7 63.9 343.7 64.8 343.7C65.6 343.6 66.4 343.6 67.2 343.6C68.0 343.6 68.9 343.6 69.7 343.6C70.5 343.6 71.3 343.6 72.2 343.5C73.0 343.5 73.8 343.5 74.6 343.5C75.5 343.4 76.3 343.4 77.1 343.4C77.9 343.3 78.7 343.3 79.6 343.2C80.4 343.1 81.2 343.0 82.0 342.8C82.9 342.6 83.7 342.4 84.5 342.1C85.3 341.7 86.2 341.3 87.0 340.6C87.8 340.0 88.6 339.2 89.5 338.3C90.3 337.3 91.1 336.2 91.9 335.0C92.7 333.8 93.6 332.4 94.4 331.0C95.2 329.6 96.0 328.1 96.9 326.6C97.7 325.0 98.5 323.4 99.3 321.7C100.2 320.0 101.0 318.2 101.8 316.3C102.6 314.5 103.4 312.6 104.3 310.7C105.1 308.8 105.9 306.9 106.7 305.0C107.6 303.2 108.4 301.3 109.2 299.6C110.0 298.0 110.9 296.3 111.7 295.0C112.5 293.6 113.3 292.4 114.2 291.5C115.0 290.7 115.8 290.0 116.6 289.9C117.4 289.7 118.3 289.9 119.1 290.5C119.9 291.2 120.7 292.3 121.6 293.7C122.4 295.1 123.2 297.0 124.0 298.9C124.9 300.8 125.7 303.1 126.5 305.2C127.3 307.3 128.1 309.5 129.0 311.4C129.8 313.4 130.6 315.4 131.4 317.1C132.3 318.9 133.1 320.5 133.9 322.0C134.7 323.4 135.6 324.8 136.4 326.0C137.2 327.1 138.0 328.2 138.8 329.1C139.7 329.9 140.5 330.7 141.3 331.3C142.1 331.9 143.0 332.3 143.8 332.7C144.6 333.1 145.4 333.3 146.3 333.6C147.1 333.8 147.9 333.9 148.7 334.1C149.6 334.2 150.8 334.3 151.2 334.3" fill="none" stroke="#7af0e0" stroke-width="1.10" />
<path d="M52.4 341.5C52.8 341.6 54.0 341.7 54.9 341.7C55.7 341.8 56.5 341.8 57.3 341.9C58.2 341.9 59.0 342.0 59.8 342.0C60.6 342.1 61.5 342.1 62.3 342.2C63.1 342.2 63.9 342.2 64.8 342.3C65.6 342.3 66.4 342.3 67.2 342.4C68.0 342.4 68.9 342.4 69.7 342.4C70.5 342.5 71.3 342.5 72.2 342.5C73.0 342.5 73.8 342.5 74.6 342.5C75.5 342.5 76.3 342.5 77.1 342.5C77.9 342.5 78.7 342.5 79.6 342.4C80.4 342.4 81.2 342.3 82.0 342.2C82.9 342.1 83.7 341.9 84.5 341.6C85.3 341.4 86.2 341.0 87.0 340.5C87.8 340.0 88.6 339.4 89.5 338.7C90.3 337.9 91.1 337.0 91.9 336.1C92.7 335.1 93.6 334.0 94.4 332.9C95.2 331.8 96.0 330.6 96.9 329.4C97.7 328.1 98.5 326.8 99.3 325.5C100.2 324.1 101.0 322.7 101.8 321.3C102.6 319.8 103.4 318.3 104.3 316.9C105.1 315.4 105.9 313.9 106.7 312.4C107.6 311.0 108.4 309.6 109.2 308.3C110.0 307.0 110.9 305.8 111.7 304.8C112.5 303.8 113.3 302.9 114.2 302.3C115.0 301.7 115.8 301.2 116.6 301.2C117.4 301.1 118.3 301.3 119.1 301.9C119.9 302.5 120.7 303.4 121.6 304.6C122.4 305.7 123.2 307.2 124.0 308.8C124.9 310.3 125.7 312.1 126.5 313.7C127.3 315.4 128.1 317.1 129.0 318.6C129.8 320.2 130.6 321.7 131.4 323.0C132.3 324.4 133.1 325.6 133.9 326.8C134.7 327.9 135.6 328.9 136.4 329.8C137.2 330.7 138.0 331.5 138.8 332.2C139.7 332.8 140.5 333.4 141.3 333.8C142.1 334.3 143.0 334.6 143.8 334.9C144.6 335.2 145.4 335.4 146.3 335.6C147.1 335.8 147.9 335.9 148.7 336.0C149.6 336.1 150.8 336.1 151.2 336.2" fill="none" stroke="#78e4f8" stroke-width="1.10" />
<path d="M52.4 339.3C52.8 339.3 54.0 339.5 54.9 339.6C55.7 339.7 56.5 339.8 57.3 339.9C58.2 340.0 59.0 340.1 59.8 340.2C60.6 340.3 61.5 340.4 62.3 340.5C63.1 340.6 63.9 340.7 64.8 340.7C65.6 340.8 66.4 340.9 67.2 341.0C68.0 341.0 68.9 341.1 69.7 341.2C70.5 341.2 71.3 341.3 72.2 341.4C73.0 341.4 73.8 341.5 74.6 341.5C75.5 341.6 76.3 341.6 77.1 341.6C77.9 341.6 78.7 341.7 79.6 341.6C80.4 341.6 81.2 341.6 82.0 341.6C82.9 341.5 83.7 341.4 84.5 341.2C85.3 341.0 86.2 340.8 87.0 340.4C87.8 340.0 88.6 339.5 89.5 339.0C90.3 338.4 91.1 337.7 91.9 337.0C92.7 336.3 93.6 335.5 94.4 334.6C95.2 333.8 96.0 332.9 96.9 331.9C97.7 331.0 98.5 330.0 99.3 328.9C100.2 327.9 101.0 326.8 101.8 325.7C102.6 324.6 103.4 323.5 104.3 322.4C105.1 321.3 105.9 320.1 106.7 319.1C107.6 318.0 108.4 316.9 109.2 316.0C110.0 315.1 110.9 314.2 111.7 313.5C112.5 312.7 113.3 312.1 114.2 311.7C115.0 311.3 115.8 311.1 116.6 311.1C117.4 311.1 118.3 311.3 119.1 311.8C119.9 312.3 120.7 313.0 121.6 313.9C122.4 314.8 123.2 316.0 124.0 317.1C124.9 318.3 125.7 319.6 126.5 320.8C127.3 322.0 128.1 323.2 129.0 324.3C129.8 325.5 130.6 326.5 131.4 327.5C132.3 328.4 133.1 329.3 133.9 330.1C134.7 330.9 135.6 331.6 136.4 332.2C137.2 332.9 138.0 333.4 138.8 333.9C139.7 334.3 140.5 334.7 141.3 335.0C142.1 335.3 143.0 335.5 143.8 335.7C144.6 335.9 145.4 336.0 146.3 336.1C147.1 336.2 147.9 336.3 148.7 336.3C149.6 336.4 150.8 336.4 151.2 336.5" fill="none" stroke="#68b8f4" stroke-width="1.10" />
<path d="M52.4 337.0C52.8 336.9 54.0 336.9 54.9 336.8C55.7 336.8 56.5 336.8 57.3 336.7C58.2 336.7 59.0 336.7 59.8 336.7C60.6 336.6 61.5 336.6 62.3 336.6C63.1 336.6 63.9 336.6 64.8 336.7C65.6 336.7 66.4 336.7 67.2 336.7C68.0 336.8 68.9 336.8 69.7 336.9C70.5 336.9 71.3 337.0 72.2 337.0C73.0 337.1 73.8 337.2 74.6 337.3C75.5 337.4 76.3 337.5 77.1 337.6C77.9 337.8 78.7 337.9 79.6 338.0C80.4 338.2 81.2 338.3 82.0 338.4C82.9 338.5 83.7 338.7 84.5 338.7C85.3 338.8 86.2 338.8 87.0 338.7C87.8 338.7 88.6 338.5 89.5 338.3C90.3 338.1 91.1 337.8 91.9 337.4C92.7 337.1 93.6 336.6 94.4 336.1C95.2 335.6 96.0 335.0 96.9 334.3C97.7 333.7 98.5 332.9 99.3 332.2C100.2 331.4 101.0 330.5 101.8 329.7C102.6 328.9 103.4 328.0 104.3 327.2C105.1 326.4 105.9 325.5 106.7 324.8C107.6 324.1 108.4 323.4 109.2 322.8C110.0 322.2 110.9 321.7 111.7 321.3C112.5 320.9 113.3 320.6 114.2 320.4C115.0 320.2 115.8 320.1 116.6 320.3C117.4 320.4 118.3 320.6 119.1 321.1C119.9 321.5 120.7 322.2 121.6 322.9C122.4 323.6 123.2 324.6 124.0 325.5C124.9 326.4 125.7 327.5 126.5 328.4C127.3 329.4 128.1 330.3 129.0 331.2C129.8 332.1 130.6 332.9 131.4 333.6C132.3 334.3 133.1 335.0 133.9 335.6C134.7 336.2 135.6 336.7 136.4 337.2C137.2 337.6 138.0 338.0 138.8 338.3C139.7 338.7 140.5 338.9 141.3 339.1C142.1 339.3 143.0 339.4 143.8 339.5C144.6 339.6 145.4 339.6 146.3 339.6C147.1 339.7 147.9 339.6 148.7 339.6C149.6 339.6 150.8 339.5 151.2 339.5" fill="none" stroke="#6498f4" stroke-width="1.10" />
<path d="M52.4 335.8C52.8 335.8 54.0 335.8 54.9 335.8C55.7 335.8 56.5 335.8 57.3 335.9C58.2 335.9 59.0 335.9 59.8 335.9C60.6 335.9 61.5 336.0 62.3 336.0C63.1 336.0 63.9 336.1 64.8 336.1C65.6 336.2 66.4 336.2 67.2 336.3C68.0 336.4 68.9 336.4 69.7 336.5C70.5 336.6 71.3 336.7 72.2 336.8C73.0 336.9 73.8 337.0 74.6 337.1C75.5 337.2 76.3 337.3 77.1 337.4C77.9 337.5 78.7 337.7 79.6 337.8C80.4 337.9 81.2 338.1 82.0 338.2C82.9 338.3 83.7 338.4 84.5 338.5C85.3 338.5 86.2 338.6 87.0 338.5C87.8 338.5 88.6 338.4 89.5 338.3C90.3 338.2 91.1 338.0 91.9 337.7C92.7 337.5 93.6 337.2 94.4 336.8C95.2 336.4 96.0 336.0 96.9 335.5C97.7 335.0 98.5 334.5 99.3 333.9C100.2 333.4 101.0 332.8 101.8 332.2C102.6 331.5 103.4 330.9 104.3 330.3C105.1 329.7 105.9 329.1 106.7 328.6C107.6 328.0 108.4 327.5 109.2 327.1C110.0 326.7 110.9 326.3 111.7 326.0C112.5 325.7 113.3 325.5 114.2 325.4C115.0 325.2 115.8 325.2 116.6 325.3C117.4 325.4 118.3 325.6 119.1 326.0C119.9 326.3 120.7 326.8 121.6 327.4C122.4 327.9 123.2 328.7 124.0 329.4C124.9 330.1 125.7 330.9 126.5 331.6C127.3 332.3 128.1 333.0 129.0 333.7C129.8 334.4 130.6 335.0 131.4 335.5C132.3 336.1 133.1 336.6 133.9 337.1C134.7 337.5 135.6 337.9 136.4 338.3C137.2 338.6 138.0 338.9 138.8 339.2C139.7 339.4 140.5 339.6 141.3 339.7C142.1 339.9 143.0 340.0 143.8 340.0C144.6 340.1 145.4 340.1 146.3 340.2C147.1 340.2 147.9 340.1 148.7 340.1C149.6 340.1 150.8 340.0 151.2 340.0" fill="none" stroke="#4a5cf8" stroke-width="1.10" />
<path d="M52.4 335.2C52.8 335.3 54.0 335.3 54.9 335.4C55.7 335.4 56.5 335.4 57.3 335.5C58.2 335.5 59.0 335.6 59.8 335.6C60.6 335.7 61.5 335.7 62.3 335.8C63.1 335.8 63.9 335.9 64.8 336.0C65.6 336.0 66.4 336.1 67.2 336.2C68.0 336.3 68.9 336.4 69.7 336.5C70.5 336.6 71.3 336.7 72.2 336.8C73.0 336.9 73.8 337.0 74.6 337.1C75.5 337.2 76.3 337.3 77.1 337.5C77.9 337.6 78.7 337.7 79.6 337.8C80.4 337.9 81.2 338.1 82.0 338.2C82.9 338.3 83.7 338.4 84.5 338.5C85.3 338.5 86.2 338.6 87.0 338.6C87.8 338.6 88.6 338.5 89.5 338.4C90.3 338.4 91.1 338.2 91.9 338.0C92.7 337.8 93.6 337.6 94.4 337.3C95.2 337.0 96.0 336.7 96.9 336.4C97.7 336.0 98.5 335.6 99.3 335.1C100.2 334.7 101.0 334.2 101.8 333.7C102.6 333.3 103.4 332.7 104.3 332.3C105.1 331.8 105.9 331.4 106.7 330.9C107.6 330.5 108.4 330.1 109.2 329.8C110.0 329.5 110.9 329.2 111.7 329.0C112.5 328.8 113.3 328.6 114.2 328.5C115.0 328.4 115.8 328.4 116.6 328.5C117.4 328.6 118.3 328.8 119.1 329.1C119.9 329.4 120.7 329.8 121.6 330.3C122.4 330.7 123.2 331.3 124.0 331.9C124.9 332.4 125.7 333.1 126.5 333.7C127.3 334.2 128.1 334.8 129.0 335.4C129.8 335.9 130.6 336.4 131.4 336.8C132.3 337.3 133.1 337.7 133.9 338.1C134.7 338.4 135.6 338.7 136.4 339.0C137.2 339.3 138.0 339.5 138.8 339.7C139.7 339.9 140.5 340.1 141.3 340.2C142.1 340.3 143.0 340.4 143.8 340.4C144.6 340.5 145.4 340.5 146.3 340.5C147.1 340.5 147.9 340.5 148.7 340.5C149.6 340.5 150.8 340.4 151.2 340.4" fill="none" stroke="#4252f6" stroke-width="1.10" />
<path d="M52.4 334.6C52.8 334.7 54.0 334.7 54.9 334.8C55.7 334.9 56.5 334.9 57.3 335.0C58.2 335.0 59.0 335.1 59.8 335.2C60.6 335.2 61.5 335.3 62.3 335.4C63.1 335.5 63.9 335.6 64.8 335.6C65.6 335.7 66.4 335.8 67.2 335.9C68.0 336.0 68.9 336.1 69.7 336.2C70.5 336.4 71.3 336.5 72.2 336.6C73.0 336.7 73.8 336.8 74.6 336.9C75.5 337.1 76.3 337.2 77.1 337.3C77.9 337.4 78.7 337.5 79.6 337.7C80.4 337.8 81.2 337.9 82.0 338.0C82.9 338.1 83.7 338.2 84.5 338.3C85.3 338.4 86.2 338.4 87.0 338.5C87.8 338.5 88.6 338.5 89.5 338.4C90.3 338.4 91.1 338.3 91.9 338.1C92.7 338.0 93.6 337.8 94.4 337.6C95.2 337.4 96.0 337.2 96.9 336.9C97.7 336.7 98.5 336.4 99.3 336.0C100.2 335.7 101.0 335.3 101.8 335.0C102.6 334.6 103.4 334.2 104.3 333.9C105.1 333.5 105.9 333.2 106.7 332.9C107.6 332.6 108.4 332.3 109.2 332.0C110.0 331.8 110.9 331.6 111.7 331.4C112.5 331.2 113.3 331.1 114.2 331.1C115.0 331.0 115.8 331.0 116.6 331.1C117.4 331.2 118.3 331.3 119.1 331.6C119.9 331.8 120.7 332.2 121.6 332.5C122.4 332.9 123.2 333.4 124.0 333.8C124.9 334.3 125.7 334.8 126.5 335.3C127.3 335.7 128.1 336.2 129.0 336.6C129.8 337.1 130.6 337.5 131.4 337.8C132.3 338.2 133.1 338.5 133.9 338.8C134.7 339.1 135.6 339.3 136.4 339.6C137.2 339.8 138.0 340.0 138.8 340.1C139.7 340.3 140.5 340.4 141.3 340.5C142.1 340.6 143.0 340.7 143.8 340.7C144.6 340.7 145.4 340.8 146.3 340.8C147.1 340.8 147.9 340.8 148.7 340.7C149.6 340.7 150.8 340.7 151.2 340.7" fill="none" stroke="#3c4cf4" stroke-width="1.10" />
<path d="M52.4 334.2C52.8 334.2 54.0 334.4 54.9 334.5C55.7 334.5 56.5 334.6 57.3 334.7C58.2 334.8 59.0 334.9 59.8 334.9C60.6 335.0 61.5 335.1 62.3 335.2C63.1 335.3 63.9 335.4 64.8 335.5C65.6 335.6 66.4 335.7 67.2 335.8C68.0 335.9 68.9 336.1 69.7 336.2C70.5 336.3 71.3 336.4 72.2 336.6C73.0 336.7 73.8 336.8 74.6 336.9C75.5 337.1 76.3 337.2 77.1 337.3C77.9 337.4 78.7 337.5 79.6 337.7C80.4 337.8 81.2 337.9 82.0 338.0C82.9 338.1 83.7 338.2 84.5 338.3C85.3 338.4 86.2 338.4 87.0 338.5C87.8 338.5 88.6 338.5 89.5 338.5C90.3 338.5 91.1 338.4 91.9 338.3C92.7 338.3 93.6 338.1 94.4 338.0C95.2 337.9 96.0 337.7 96.9 337.5C97.7 337.3 98.5 337.1 99.3 336.8C100.2 336.6 101.0 336.3 101.8 336.1C102.6 335.8 103.4 335.5 104.3 335.2C105.1 335.0 105.9 334.7 106.7 334.5C107.6 334.2 108.4 334.0 109.2 333.8C110.0 333.7 110.9 333.5 111.7 333.4C112.5 333.3 113.3 333.2 114.2 333.2C115.0 333.2 115.8 333.2 116.6 333.3C117.4 333.4 118.3 333.5 119.1 333.7C119.9 333.9 120.7 334.2 121.6 334.5C122.4 334.8 123.2 335.2 124.0 335.5C124.9 335.9 125.7 336.3 126.5 336.7C127.3 337.1 128.1 337.4 129.0 337.8C129.8 338.1 130.6 338.4 131.4 338.7C132.3 339.0 133.1 339.2 133.9 339.5C134.7 339.7 135.6 339.9 136.4 340.1C137.2 340.2 138.0 340.4 138.8 340.5C139.7 340.6 140.5 340.7 141.3 340.8C142.1 340.9 143.0 340.9 143.8 341.0C144.6 341.0 145.4 341.0 146.3 341.0C147.1 341.0 147.9 341.0 148.7 341.0C149.6 341.0 150.8 341.0 151.2 340.9" fill="none" stroke="#3848f2" stroke-width="1.10" />
<path d="M52.4 333.7C52.8 333.8 54.0 333.9 54.9 334.0C55.7 334.1 56.5 334.2 57.3 334.3C58.2 334.4 59.0 334.5 59.8 334.6C60.6 334.7 61.5 334.8 62.3 335.0C63.1 335.1 63.9 335.2 64.8 335.3C65.6 335.4 66.4 335.5 67.2 335.7C68.0 335.8 68.9 335.9 69.7 336.0C70.5 336.2 71.3 336.3 72.2 336.4C73.0 336.6 73.8 336.7 74.6 336.8C75.5 337.0 76.3 337.1 77.1 337.2C77.9 337.3 78.7 337.5 79.6 337.6C80.4 337.7 81.2 337.8 82.0 337.9C82.9 338.0 83.7 338.1 84.5 338.2C85.3 338.3 86.2 338.4 87.0 338.4C87.8 338.5 88.6 338.5 89.5 338.5C90.3 338.5 91.1 338.5 91.9 338.5C92.7 338.4 93.6 338.4 94.4 338.3C95.2 338.2 96.0 338.1 96.9 338.0C97.7 337.9 98.5 337.7 99.3 337.6C100.2 337.4 101.0 337.2 101.8 337.0C102.6 336.9 103.4 336.7 104.3 336.5C105.1 336.3 105.9 336.1 106.7 336.0C107.6 335.8 108.4 335.7 109.2 335.6C110.0 335.5 110.9 335.4 111.7 335.3C112.5 335.2 113.3 335.2 114.2 335.2C115.0 335.2 115.8 335.2 116.6 335.3C117.4 335.4 118.3 335.5 119.1 335.7C119.9 335.8 120.7 336.1 121.6 336.3C122.4 336.5 123.2 336.8 124.0 337.1C124.9 337.4 125.7 337.7 126.5 338.0C127.3 338.3 128.1 338.5 129.0 338.8C129.8 339.0 130.6 339.3 131.4 339.5C132.3 339.7 133.1 339.9 133.9 340.1C134.7 340.2 135.6 340.4 136.4 340.5C137.2 340.7 138.0 340.8 138.8 340.9C139.7 340.9 140.5 341.0 141.3 341.1C142.1 341.1 143.0 341.2 143.8 341.2C144.6 341.2 145.4 341.2 146.3 341.2C147.1 341.2 147.9 341.2 148.7 341.2C149.6 341.2 150.8 341.2 151.2 341.2" fill="none" stroke="#3444f0" stroke-width="1.10" />
<path d="M52.4 333.1C52.8 333.2 54.0 333.4 54.9 333.5C55.7 333.6 56.5 333.7 57.3 333.9C58.2 334.0 59.0 334.1 59.8 334.2C60.6 334.3 61.5 334.4 62.3 334.6C63.1 334.7 63.9 334.8 64.8 335.0C65.6 335.1 66.4 335.2 67.2 335.4C68.0 335.5 68.9 335.6 69.7 335.8C70.5 335.9 71.3 336.1 72.2 336.2C73.0 336.3 73.8 336.5 74.6 336.6C75.5 336.8 76.3 336.9 77.1 337.0C77.9 337.1 78.7 337.3 79.6 337.4C80.4 337.5 81.2 337.6 82.0 337.7C82.9 337.8 83.7 337.9 84.5 338.0C85.3 338.1 86.2 338.2 87.0 338.2C87.8 338.3 88.6 338.3 89.5 338.4C90.3 338.4 91.1 338.5 91.9 338.5C92.7 338.5 93.6 338.5 94.4 338.5C95.2 338.5 96.0 338.5 96.9 338.4C97.7 338.4 98.5 338.3 99.3 338.3C100.2 338.2 101.0 338.1 101.8 338.0C102.6 338.0 103.4 337.9 104.3 337.8C105.1 337.7 105.9 337.6 106.7 337.5C107.6 337.5 108.4 337.4 109.2 337.4C110.0 337.3 110.9 337.3 111.7 337.3C112.5 337.2 113.3 337.2 114.2 337.3C115.0 337.3 115.8 337.3 116.6 337.4C117.4 337.4 118.3 337.5 119.1 337.7C119.9 337.8 120.7 337.9 121.6 338.1C122.4 338.3 123.2 338.4 124.0 338.6C124.9 338.8 125.7 339.0 126.5 339.2C127.3 339.4 128.1 339.6 129.0 339.8C129.8 339.9 130.6 340.1 131.4 340.2C132.3 340.4 133.1 340.5 133.9 340.6C134.7 340.7 135.6 340.8 136.4 340.9C137.2 341.0 138.0 341.1 138.8 341.2C139.7 341.2 140.5 341.3 141.3 341.3C142.1 341.3 143.0 341.4 143.8 341.4C144.6 341.4 145.4 341.4 146.3 341.4C147.1 341.4 147.9 341.4 148.7 341.4C149.6 341.4 150.8 341.4 151.2 341.4" fill="none" stroke="#3040f0" stroke-width="1.10" />
<path d="M52.4 332.2C52.8 332.3 54.0 332.5 54.9 332.7C55.7 332.8 56.5 332.9 57.3 333.1C58.2 333.2 59.0 333.3 59.8 333.5C60.6 333.6 61.5 333.8 62.3 333.9C63.1 334.1 63.9 334.2 64.8 334.4C65.6 334.5 66.4 334.7 67.2 334.8C68.0 335.0 68.9 335.2 69.7 335.3C70.5 335.5 71.3 335.6 72.2 335.8C73.0 336.0 73.8 336.1 74.6 336.3C75.5 336.4 76.3 336.5 77.1 336.7C77.9 336.8 78.7 336.9 79.6 337.0C80.4 337.1 81.2 337.2 82.0 337.3C82.9 337.4 83.7 337.5 84.5 337.6C85.3 337.7 86.2 337.8 87.0 337.9C87.8 338.0 88.6 338.1 89.5 338.2C90.3 338.3 91.1 338.4 91.9 338.5C92.7 338.6 93.6 338.7 94.4 338.8C95.2 338.9 96.0 339.0 96.9 339.1C97.7 339.2 98.5 339.3 99.3 339.4C100.2 339.5 101.0 339.6 101.8 339.6C102.6 339.7 103.4 339.8 104.3 339.9C105.1 339.9 105.9 340.0 106.7 340.1C107.6 340.1 108.4 340.2 109.2 340.2C110.0 340.3 110.9 340.4 111.7 340.4C112.5 340.5 113.3 340.5 114.2 340.6C115.0 340.6 115.8 340.7 116.6 340.7C117.4 340.7 118.3 340.8 119.1 340.8C119.9 340.9 120.7 340.9 121.6 341.0C122.4 341.0 123.2 341.0 124.0 341.1C124.9 341.1 125.7 341.2 126.5 341.2C127.3 341.2 128.1 341.3 129.0 341.3C129.8 341.4 130.6 341.4 131.4 341.4C132.3 341.5 133.1 341.5 133.9 341.5C134.7 341.5 135.6 341.6 136.4 341.6C137.2 341.6 138.0 341.6 138.8 341.6C139.7 341.7 140.5 341.7 141.3 341.7C142.1 341.7 143.0 341.7 143.8 341.7C144.6 341.7 145.4 341.7 146.3 341.7C147.1 341.7 147.9 341.7 148.7 341.7C149.6 341.7 150.8 341.7 151.2 341.7" fill="none" stroke="#181860" stroke-width="1.70" />
<rect x="91.3" y="337.6" width="1.3" height="1.3" fill="#a03030"/>
<rect x="93.7" y="334.8" width="1.3" height="1.3" fill="#a03030"/>
<rect x="96.2" y="331.8" width="1.3" height="1.3" fill="#a03030"/>
<rect x="98.7" y="328.6" width="1.3" height="1.3" fill="#a03030"/>
<rect x="101.1" y="324.9" width="1.3" height="1.3" fill="#a03030"/>
<rect x="103.6" y="320.8" width="1.3" height="1.3" fill="#a03030"/>
<rect x="106.1" y="316.1" width="1.3" height="1.3" fill="#a03030"/>
<rect x="108.6" y="310.7" width="1.3" height="1.3" fill="#a03030"/>
<rect x="111.0" y="304.5" width="1.3" height="1.3" fill="#a03030"/>
<rect x="113.5" y="297.5" width="1.3" height="1.3" fill="#a03030"/>
<rect x="116.0" y="289.9" width="1.3" height="1.3" fill="#a03030"/>
<rect x="118.4" y="282.3" width="1.3" height="1.3" fill="#a03030"/>
<rect x="120.9" y="276.0" width="1.3" height="1.3" fill="#a03030"/>
<rect x="123.4" y="272.4" width="1.3" height="1.3" fill="#a03030"/>
<rect x="125.8" y="272.6" width="1.3" height="1.3" fill="#a03030"/>
<rect x="128.3" y="276.2" width="1.3" height="1.3" fill="#a03030"/>
<rect x="130.8" y="282.0" width="1.3" height="1.3" fill="#a03030"/>
<rect x="133.3" y="288.6" width="1.3" height="1.3" fill="#a03030"/>
<rect x="135.7" y="295.3" width="1.3" height="1.3" fill="#a03030"/>
<rect x="138.2" y="301.5" width="1.3" height="1.3" fill="#a03030"/>
<rect x="140.7" y="306.7" width="1.3" height="1.3" fill="#a03030"/>
<rect x="143.1" y="310.5" width="1.3" height="1.3" fill="#a03030"/>
<rect x="145.6" y="312.9" width="1.3" height="1.3" fill="#a03030"/>
<rect x="148.1" y="314.1" width="1.3" height="1.3" fill="#a03030"/>
<rect x="150.5" y="314.5" width="1.3" height="1.3" fill="#a03030"/>
<path d="M28.1 235.4 V365.4" fill="none" stroke="#585858" stroke-width="0.8"/>
<path d="M27.7 369.6 H176.3" fill="none" stroke="#585858" stroke-width="0.8"/>
<path d="M25.9 365.0 H27.7" stroke="#585858" stroke-width="0.8"/>
<path d="M26.5 354.2 H27.7" stroke="#585858" stroke-width="0.8"/>
<path d="M25.9 343.4 H27.7" stroke="#585858" stroke-width="0.8"/>
<path d="M26.5 332.6 H27.7" stroke="#585858" stroke-width="0.8"/>
<path d="M25.9 321.8 H27.7" stroke="#585858" stroke-width="0.8"/>
<path d="M26.5 311.0 H27.7" stroke="#585858" stroke-width="0.8"/>
<path d="M25.9 300.2 H27.7" stroke="#585858" stroke-width="0.8"/>
<path d="M26.5 289.4 H27.7" stroke="#585858" stroke-width="0.8"/>
<path d="M25.9 278.6 H27.7" stroke="#585858" stroke-width="0.8"/>
<path d="M26.5 267.8 H27.7" stroke="#585858" stroke-width="0.8"/>
<path d="M25.9 257.0 H27.7" stroke="#585858" stroke-width="0.8"/>
<path d="M26.5 246.2 H27.7" stroke="#585858" stroke-width="0.8"/>
<path d="M25.9 235.4 H27.7" stroke="#585858" stroke-width="0.8"/>
<text x="24.7" y="237.2" font-family="Liberation Sans" font-size="5.10" text-anchor="end" fill="#222222" font-weight="normal"  stroke="#222222" stroke-width="0.18">0.5</text>
<text x="24.7" y="258.9" font-family="Liberation Sans" font-size="5.10" text-anchor="end" fill="#222222" font-weight="normal"  stroke="#222222" stroke-width="0.18">0.4</text>
<text x="24.7" y="280.4" font-family="Liberation Sans" font-size="5.10" text-anchor="end" fill="#222222" font-weight="normal"  stroke="#222222" stroke-width="0.18">0.3</text>
<text x="24.7" y="302.1" font-family="Liberation Sans" font-size="5.10" text-anchor="end" fill="#222222" font-weight="normal"  stroke="#222222" stroke-width="0.18">0.2</text>
<text x="24.7" y="323.6" font-family="Liberation Sans" font-size="5.10" text-anchor="end" fill="#222222" font-weight="normal"  stroke="#222222" stroke-width="0.18">0.1</text>
<text x="24.7" y="345.2" font-family="Liberation Sans" font-size="5.10" text-anchor="end" fill="#222222" font-weight="normal"  stroke="#222222" stroke-width="0.18">0</text>
<text x="24.7" y="366.9" font-family="Liberation Sans" font-size="5.10" text-anchor="end" fill="#222222" font-weight="normal"  stroke="#222222" stroke-width="0.18">−0.1</text>
<path d="M27.7 369.6 V371.6" stroke="#585858" stroke-width="0.7"/>
<text x="27.7" y="377.8" font-family="Liberation Sans" font-size="5.00" text-anchor="middle" fill="#222222" font-weight="normal"  stroke="#222222" stroke-width="0.18">400</text>
<path d="M40.0 369.6 V371.6" stroke="#585858" stroke-width="0.7"/>
<path d="M52.4 369.6 V371.6" stroke="#585858" stroke-width="0.7"/>
<text x="52.4" y="377.8" font-family="Liberation Sans" font-size="5.00" text-anchor="middle" fill="#222222" font-weight="normal"  stroke="#222222" stroke-width="0.18">450</text>
<path d="M64.8 369.6 V371.6" stroke="#585858" stroke-width="0.7"/>
<path d="M77.1 369.6 V371.6" stroke="#585858" stroke-width="0.7"/>
<text x="77.1" y="377.8" font-family="Liberation Sans" font-size="5.00" text-anchor="middle" fill="#222222" font-weight="normal"  stroke="#222222" stroke-width="0.18">500</text>
<path d="M89.5 369.6 V371.6" stroke="#585858" stroke-width="0.7"/>
<path d="M101.8 369.6 V371.6" stroke="#585858" stroke-width="0.7"/>
<text x="101.8" y="377.8" font-family="Liberation Sans" font-size="5.00" text-anchor="middle" fill="#222222" font-weight="normal"  stroke="#222222" stroke-width="0.18">550</text>
<path d="M114.2 369.6 V371.6" stroke="#585858" stroke-width="0.7"/>
<path d="M126.5 369.6 V371.6" stroke="#585858" stroke-width="0.7"/>
<text x="126.5" y="377.8" font-family="Liberation Sans" font-size="5.00" text-anchor="middle" fill="#222222" font-weight="normal"  stroke="#222222" stroke-width="0.18">600</text>
<path d="M138.8 369.6 V371.6" stroke="#585858" stroke-width="0.7"/>
<path d="M151.2 369.6 V371.6" stroke="#585858" stroke-width="0.7"/>
<text x="151.2" y="377.8" font-family="Liberation Sans" font-size="5.00" text-anchor="middle" fill="#222222" font-weight="normal"  stroke="#222222" stroke-width="0.18">650</text>
<path d="M163.5 369.6 V371.6" stroke="#585858" stroke-width="0.7"/>
<path d="M175.9 369.6 V371.6" stroke="#585858" stroke-width="0.7"/>
<text x="175.9" y="377.8" font-family="Liberation Sans" font-size="5.00" text-anchor="middle" fill="#222222" font-weight="normal"  stroke="#222222" stroke-width="0.18">700</text>
<text x="101.8" y="384.6" font-family="Liberation Sans" font-size="5.45" text-anchor="middle" fill="#222222" font-weight="normal"  stroke="#222222" stroke-width="0.18">Wavelength (nm)</text>
<text transform="translate(13.4 300.4) rotate(-90)" font-family="Liberation Sans" font-size="5.15" text-anchor="middle" fill="#222222" stroke="#222222" stroke-width="0.15">First derivative</text>
<rect x="27.9" y="235.3" width="16.4" height="11.5" fill="#dfe2e2"/>
<text x="36.2" y="244.2" font-family="Liberation Serif" font-size="9.50" text-anchor="middle" fill="#111" font-weight="bold" >b</text>
<path d="M225.9 249.6C226.4 249.7 227.6 249.8 228.4 250.0C229.2 250.1 230.1 250.2 230.9 250.3C231.7 250.5 232.6 250.6 233.4 250.7C234.2 250.8 235.0 251.0 235.8 251.1C236.7 251.2 237.5 251.4 238.3 251.5C239.1 251.6 240.0 251.8 240.8 251.9C241.6 252.0 242.4 252.2 243.3 252.3C244.1 252.5 244.9 252.7 245.8 252.8C246.6 253.0 247.4 253.1 248.2 253.3C249.0 253.5 249.9 253.7 250.7 253.8C251.5 254.0 252.3 254.2 253.2 254.3C254.0 254.5 254.8 254.6 255.6 254.8C256.5 254.9 257.3 255.1 258.1 255.4C258.9 255.6 259.8 255.7 260.6 256.3C261.4 256.9 262.2 256.7 263.1 258.8C263.9 260.8 264.7 265.2 265.5 268.6C266.4 272.0 267.2 275.9 268.0 279.0C268.8 282.2 269.7 284.6 270.5 287.5C271.3 290.3 272.2 293.1 273.0 296.2C273.8 299.4 274.6 303.0 275.4 306.4C276.3 309.7 277.1 313.1 277.9 316.3C278.7 319.4 279.6 322.5 280.4 325.3C281.2 328.1 282.1 330.6 282.9 332.8C283.7 335.1 284.5 337.4 285.4 339.0C286.2 340.6 287.0 342.0 287.8 342.4C288.6 342.9 289.5 342.3 290.3 341.9C291.1 341.6 291.9 341.4 292.8 340.2C293.6 339.1 294.4 337.5 295.2 335.0C296.1 332.5 296.9 329.6 297.7 325.4C298.6 321.1 299.4 314.3 300.2 309.7C301.0 305.1 301.8 301.3 302.7 297.8C303.5 294.3 304.3 291.2 305.1 288.5C306.0 285.9 306.8 283.7 307.6 281.6C308.4 279.6 309.3 277.8 310.1 276.2C310.9 274.6 311.8 273.1 312.6 271.8C313.4 270.5 314.2 269.1 315.0 268.2C315.9 267.3 316.7 266.8 317.5 266.3C318.3 265.9 319.2 265.6 320.0 265.4C320.8 265.1 321.7 264.9 322.5 264.7C323.3 264.5 324.5 264.3 324.9 264.3" fill="none" stroke="#b488f2" stroke-width="1.00" />
<path d="M225.9 250.3C226.4 250.3 227.6 250.5 228.4 250.6C229.2 250.7 230.1 250.8 230.9 250.9C231.7 251.0 232.6 251.1 233.4 251.3C234.2 251.4 235.0 251.5 235.8 251.6C236.7 251.7 237.5 251.9 238.3 252.0C239.1 252.1 240.0 252.2 240.8 252.4C241.6 252.5 242.4 252.6 243.3 252.8C244.1 252.9 244.9 253.0 245.8 253.2C246.6 253.3 247.4 253.5 248.2 253.6C249.0 253.8 249.9 254.0 250.7 254.1C251.5 254.3 252.3 254.4 253.2 254.5C254.0 254.7 254.8 254.8 255.6 255.0C256.5 255.1 257.3 255.3 258.1 255.5C258.9 255.7 259.8 255.8 260.6 256.4C261.4 256.9 262.2 256.8 263.1 258.6C263.9 260.5 264.7 264.5 265.5 267.6C266.4 270.7 267.2 274.2 268.0 277.1C268.8 280.0 269.7 282.2 270.5 284.8C271.3 287.4 272.2 289.9 273.0 292.8C273.8 295.7 274.6 299.0 275.4 302.1C276.3 305.1 277.1 308.3 277.9 311.1C278.7 314.0 279.6 316.9 280.4 319.4C281.2 321.9 282.1 324.2 282.9 326.3C283.7 328.4 284.5 330.5 285.4 331.9C286.2 333.4 287.0 334.6 287.8 335.0C288.6 335.5 289.5 334.9 290.3 334.6C291.1 334.2 291.9 334.0 292.8 333.0C293.6 331.9 294.4 330.5 295.2 328.3C296.1 326.0 296.9 323.3 297.7 319.4C298.6 315.6 299.4 309.4 300.2 305.2C301.0 301.0 301.8 297.6 302.7 294.4C303.5 291.2 304.3 288.4 305.1 286.0C306.0 283.5 306.8 281.5 307.6 279.7C308.4 277.8 309.3 276.3 310.1 274.8C310.9 273.3 311.8 272.0 312.6 270.8C313.4 269.5 314.2 268.3 315.0 267.5C315.9 266.7 316.7 266.2 317.5 265.8C318.3 265.4 319.2 265.2 320.0 264.9C320.8 264.7 321.7 264.5 322.5 264.3C323.3 264.2 324.5 264.0 324.9 263.9" fill="none" stroke="#e4c4fa" stroke-width="1.00" />
<path d="M225.9 250.6C226.4 250.6 227.6 250.8 228.4 250.9C229.2 251.0 230.1 251.1 230.9 251.2C231.7 251.3 232.6 251.4 233.4 251.5C234.2 251.6 235.0 251.7 235.8 251.8C236.7 252.0 237.5 252.1 238.3 252.2C239.1 252.3 240.0 252.4 240.8 252.6C241.6 252.7 242.4 252.8 243.3 252.9C244.1 253.1 244.9 253.2 245.8 253.3C246.6 253.5 247.4 253.6 248.2 253.8C249.0 253.9 249.9 254.1 250.7 254.2C251.5 254.4 252.3 254.5 253.2 254.7C254.0 254.8 254.8 254.9 255.6 255.1C256.5 255.2 257.3 255.4 258.1 255.6C258.9 255.8 259.8 255.9 260.6 256.4C261.4 256.9 262.2 256.8 263.1 258.6C263.9 260.4 264.7 264.2 265.5 267.1C266.4 270.1 267.2 273.5 268.0 276.2C268.8 279.0 269.7 281.1 270.5 283.6C271.3 286.1 272.2 288.5 273.0 291.3C273.8 294.0 274.6 297.2 275.4 300.1C276.3 303.1 277.1 306.1 277.9 308.8C278.7 311.6 279.6 314.3 280.4 316.7C281.2 319.1 282.1 321.3 282.9 323.3C283.7 325.3 284.5 327.3 285.4 328.7C286.2 330.1 287.0 331.3 287.8 331.7C288.6 332.1 289.5 331.6 290.3 331.2C291.1 330.9 291.9 330.7 292.8 329.7C293.6 328.7 294.4 327.4 295.2 325.2C296.1 323.0 296.9 320.4 297.7 316.8C298.6 313.1 299.4 307.2 300.2 303.2C301.0 299.2 301.8 295.9 302.7 292.8C303.5 289.7 304.3 287.1 305.1 284.8C306.0 282.5 306.8 280.6 307.6 278.8C308.4 277.0 309.3 275.5 310.1 274.1C310.9 272.7 311.8 271.4 312.6 270.3C313.4 269.1 314.2 267.9 315.0 267.2C315.9 266.4 316.7 266.0 317.5 265.6C318.3 265.2 319.2 265.0 320.0 264.7C320.8 264.5 321.7 264.3 322.5 264.1C323.3 264.0 324.5 263.8 324.9 263.8" fill="none" stroke="#e4b8f4" stroke-width="1.00" />
<path d="M225.9 251.0C226.4 251.0 227.6 251.2 228.4 251.3C229.2 251.4 230.1 251.5 230.9 251.6C231.7 251.7 232.6 251.8 233.4 251.9C234.2 252.0 235.0 252.1 235.8 252.2C236.7 252.3 237.5 252.4 238.3 252.5C239.1 252.6 240.0 252.7 240.8 252.9C241.6 253.0 242.4 253.1 243.3 253.2C244.1 253.3 244.9 253.5 245.8 253.6C246.6 253.7 247.4 253.9 248.2 254.0C249.0 254.1 249.9 254.3 250.7 254.4C251.5 254.6 252.3 254.7 253.2 254.8C254.0 254.9 254.8 255.0 255.6 255.2C256.5 255.3 257.3 255.5 258.1 255.7C258.9 255.9 259.8 256.0 260.6 256.4C261.4 256.9 262.2 256.8 263.1 258.5C263.9 260.1 264.7 263.7 265.5 266.5C266.4 269.2 267.2 272.4 268.0 275.0C268.8 277.5 269.7 279.5 270.5 281.9C271.3 284.2 272.2 286.4 273.0 289.0C273.8 291.6 274.6 294.6 275.4 297.3C276.3 300.0 277.1 302.8 277.9 305.4C278.7 308.0 279.6 310.5 280.4 312.8C281.2 315.0 282.1 317.0 282.9 318.9C283.7 320.8 284.5 322.7 285.4 324.0C286.2 325.3 287.0 326.4 287.8 326.8C288.6 327.1 289.5 326.6 290.3 326.3C291.1 326.0 291.9 325.9 292.8 324.9C293.6 324.0 294.4 322.7 295.2 320.7C296.1 318.7 296.9 316.3 297.7 312.8C298.6 309.4 299.4 303.9 300.2 300.2C301.0 296.5 301.8 293.4 302.7 290.5C303.5 287.7 304.3 285.2 305.1 283.0C306.0 280.9 306.8 279.1 307.6 277.5C308.4 275.8 309.3 274.4 310.1 273.1C310.9 271.8 311.8 270.6 312.6 269.5C313.4 268.5 314.2 267.4 315.0 266.7C315.9 265.9 316.7 265.5 317.5 265.2C318.3 264.8 319.2 264.6 320.0 264.4C320.8 264.2 321.7 264.0 322.5 263.8C323.3 263.7 324.5 263.6 324.9 263.5" fill="none" stroke="#f8d8f8" stroke-width="1.00" />
<path d="M225.9 251.7C226.4 251.7 227.6 251.9 228.4 252.0C229.2 252.0 230.1 252.1 230.9 252.2C231.7 252.3 232.6 252.4 233.4 252.5C234.2 252.6 235.0 252.7 235.8 252.8C236.7 252.9 237.5 253.0 238.3 253.0C239.1 253.1 240.0 253.2 240.8 253.3C241.6 253.5 242.4 253.6 243.3 253.7C244.1 253.8 244.9 253.9 245.8 254.0C246.6 254.1 247.4 254.2 248.2 254.4C249.0 254.5 249.9 254.6 250.7 254.7C251.5 254.8 252.3 255.0 253.2 255.1C254.0 255.2 254.8 255.3 255.6 255.4C256.5 255.5 257.3 255.7 258.1 255.8C258.9 256.0 259.8 256.1 260.6 256.5C261.4 256.9 262.2 256.8 263.1 258.3C263.9 259.8 264.7 262.9 265.5 265.4C266.4 267.8 267.2 270.6 268.0 272.9C268.8 275.2 269.7 276.9 270.5 279.0C271.3 281.1 272.2 283.1 273.0 285.3C273.8 287.6 274.6 290.2 275.4 292.6C276.3 295.1 277.1 297.5 277.9 299.8C278.7 302.1 279.6 304.3 280.4 306.3C281.2 308.3 282.1 310.1 282.9 311.8C283.7 313.4 284.5 315.1 285.4 316.2C286.2 317.4 287.0 318.3 287.8 318.7C288.6 319.0 289.5 318.6 290.3 318.3C291.1 318.0 291.9 317.9 292.8 317.1C293.6 316.3 294.4 315.1 295.2 313.3C296.1 311.6 296.9 309.4 297.7 306.4C298.6 303.4 299.4 298.5 300.2 295.2C301.0 292.0 301.8 289.3 302.7 286.7C303.5 284.2 304.3 282.1 305.1 280.2C306.0 278.3 306.8 276.7 307.6 275.3C308.4 273.8 309.3 272.6 310.1 271.4C310.9 270.3 311.8 269.3 312.6 268.3C313.4 267.4 314.2 266.4 315.0 265.8C315.9 265.1 316.7 264.8 317.5 264.5C318.3 264.1 319.2 264.0 320.0 263.8C320.8 263.6 321.7 263.4 322.5 263.3C323.3 263.2 324.5 263.1 324.9 263.0" fill="none" stroke="#e050f0" stroke-width="1.00" />
<path d="M225.9 252.1C226.4 252.1 227.6 252.2 228.4 252.3C229.2 252.4 230.1 252.5 230.9 252.6C231.7 252.6 232.6 252.7 233.4 252.8C234.2 252.9 235.0 253.0 235.8 253.1C236.7 253.1 237.5 253.2 238.3 253.3C239.1 253.4 240.0 253.5 240.8 253.6C241.6 253.7 242.4 253.8 243.3 253.9C244.1 254.0 244.9 254.1 245.8 254.2C246.6 254.3 247.4 254.4 248.2 254.5C249.0 254.7 249.9 254.8 250.7 254.9C251.5 255.0 252.3 255.1 253.2 255.2C254.0 255.3 254.8 255.4 255.6 255.5C256.5 255.6 257.3 255.8 258.1 255.9C258.9 256.1 259.8 256.2 260.6 256.5C261.4 256.9 262.2 256.8 263.1 258.2C263.9 259.6 264.7 262.5 265.5 264.8C266.4 267.1 267.2 269.7 268.0 271.8C268.8 273.9 269.7 275.6 270.5 277.5C271.3 279.4 272.2 281.3 273.0 283.4C273.8 285.5 274.6 288.0 275.4 290.2C276.3 292.5 277.1 294.8 277.9 296.9C278.7 299.0 279.6 301.1 280.4 303.0C281.2 304.8 282.1 306.5 282.9 308.0C283.7 309.6 284.5 311.1 285.4 312.2C286.2 313.3 287.0 314.2 287.8 314.5C288.6 314.8 289.5 314.4 290.3 314.1C291.1 313.9 291.9 313.8 292.8 313.0C293.6 312.2 294.4 311.1 295.2 309.5C296.1 307.8 296.9 305.8 297.7 303.0C298.6 300.2 299.4 295.7 300.2 292.7C301.0 289.6 301.8 287.1 302.7 284.8C303.5 282.4 304.3 280.4 305.1 278.7C306.0 276.9 306.8 275.4 307.6 274.1C308.4 272.7 309.3 271.6 310.1 270.5C310.9 269.5 311.8 268.5 312.6 267.6C313.4 266.8 314.2 265.9 315.0 265.3C315.9 264.7 316.7 264.4 317.5 264.1C318.3 263.8 319.2 263.6 320.0 263.5C320.8 263.3 321.7 263.1 322.5 263.0C323.3 262.9 324.5 262.8 324.9 262.7" fill="none" stroke="#e868f0" stroke-width="1.00" />
<path d="M225.9 252.3C226.4 252.4 227.6 252.5 228.4 252.6C229.2 252.6 230.1 252.7 230.9 252.8C231.7 252.9 232.6 253.0 233.4 253.0C234.2 253.1 235.0 253.2 235.8 253.3C236.7 253.4 237.5 253.4 238.3 253.5C239.1 253.6 240.0 253.7 240.8 253.8C241.6 253.9 242.4 254.0 243.3 254.1C244.1 254.2 244.9 254.3 245.8 254.4C246.6 254.5 247.4 254.6 248.2 254.7C249.0 254.8 249.9 254.9 250.7 255.0C251.5 255.1 252.3 255.2 253.2 255.3C254.0 255.4 254.8 255.5 255.6 255.6C256.5 255.7 257.3 255.8 258.1 256.0C258.9 256.1 259.8 256.2 260.6 256.6C261.4 256.9 262.2 256.9 263.1 258.2C263.9 259.5 264.7 262.3 265.5 264.4C266.4 266.6 267.2 269.0 268.0 271.0C268.8 273.1 269.7 274.6 270.5 276.4C271.3 278.3 272.2 280.0 273.0 282.0C273.8 284.0 274.6 286.3 275.4 288.5C276.3 290.6 277.1 292.8 277.9 294.8C278.7 296.8 279.6 298.8 280.4 300.6C281.2 302.3 282.1 303.9 282.9 305.4C283.7 306.8 284.5 308.3 285.4 309.3C286.2 310.3 287.0 311.2 287.8 311.5C288.6 311.8 289.5 311.4 290.3 311.2C291.1 310.9 291.9 310.8 292.8 310.1C293.6 309.3 294.4 308.3 295.2 306.7C296.1 305.2 296.9 303.3 297.7 300.6C298.6 298.0 299.4 293.7 300.2 290.8C301.0 287.9 301.8 285.6 302.7 283.3C303.5 281.1 304.3 279.3 305.1 277.6C306.0 275.9 306.8 274.5 307.6 273.3C308.4 272.0 309.3 270.9 310.1 269.9C310.9 268.9 311.8 268.0 312.6 267.2C313.4 266.3 314.2 265.5 315.0 264.9C315.9 264.4 316.7 264.1 317.5 263.8C318.3 263.5 319.2 263.4 320.0 263.2C320.8 263.0 321.7 262.9 322.5 262.8C323.3 262.7 324.5 262.6 324.9 262.5" fill="none" stroke="#f078e4" stroke-width="1.00" />
<path d="M225.9 253.4C226.4 253.4 227.6 253.5 228.4 253.5C229.2 253.6 230.1 253.7 230.9 253.7C231.7 253.8 232.6 253.8 233.4 253.9C234.2 254.0 235.0 254.0 235.8 254.1C236.7 254.2 237.5 254.2 238.3 254.3C239.1 254.4 240.0 254.4 240.8 254.5C241.6 254.6 242.4 254.6 243.3 254.7C244.1 254.8 244.9 254.9 245.8 254.9C246.6 255.0 247.4 255.1 248.2 255.2C249.0 255.3 249.9 255.4 250.7 255.4C251.5 255.5 252.3 255.6 253.2 255.7C254.0 255.8 254.8 255.8 255.6 255.9C256.5 256.0 257.3 256.1 258.1 256.2C258.9 256.3 259.8 256.4 260.6 256.7C261.4 257.0 262.2 256.9 263.1 257.9C263.9 258.9 264.7 261.1 265.5 262.8C266.4 264.5 267.2 266.5 268.0 268.1C268.8 269.6 269.7 270.9 270.5 272.3C271.3 273.7 272.2 275.1 273.0 276.7C273.8 278.3 274.6 280.1 275.4 281.8C276.3 283.4 277.1 285.2 277.9 286.7C278.7 288.3 279.6 289.9 280.4 291.3C281.2 292.7 282.1 293.9 282.9 295.1C283.7 296.2 284.5 297.4 285.4 298.2C286.2 299.0 287.0 299.6 287.8 299.9C288.6 300.1 289.5 299.8 290.3 299.6C291.1 299.4 291.9 299.3 292.8 298.7C293.6 298.2 294.4 297.4 295.2 296.1C296.1 294.9 296.9 293.4 297.7 291.4C298.6 289.3 299.4 285.9 300.2 283.7C301.0 281.4 301.8 279.6 302.7 277.8C303.5 276.1 304.3 274.6 305.1 273.3C306.0 272.0 306.8 271.0 307.6 270.0C308.4 269.0 309.3 268.1 310.1 267.4C310.9 266.6 311.8 265.9 312.6 265.2C313.4 264.6 314.2 263.9 315.0 263.5C315.9 263.0 316.7 262.8 317.5 262.6C318.3 262.4 319.2 262.3 320.0 262.1C320.8 262.0 321.7 261.9 322.5 261.8C323.3 261.7 324.5 261.7 324.9 261.6" fill="none" stroke="#ff98dc" stroke-width="1.00" />
<path d="M225.9 254.1C226.4 254.2 227.6 254.2 228.4 254.3C229.2 254.3 230.1 254.4 230.9 254.4C231.7 254.5 232.6 254.5 233.4 254.6C234.2 254.6 235.0 254.7 235.8 254.7C236.7 254.8 237.5 254.8 238.3 254.9C239.1 254.9 240.0 255.0 240.8 255.0C241.6 255.1 242.4 255.1 243.3 255.2C244.1 255.3 244.9 255.3 245.8 255.4C246.6 255.4 247.4 255.5 248.2 255.6C249.0 255.6 249.9 255.7 250.7 255.8C251.5 255.8 252.3 255.9 253.2 256.0C254.0 256.0 254.8 256.1 255.6 256.1C256.5 256.2 257.3 256.3 258.1 256.4C258.9 256.5 259.8 256.5 260.6 256.7C261.4 257.0 262.2 256.9 263.1 257.7C263.9 258.6 264.7 260.3 265.5 261.6C266.4 263.0 267.2 264.5 268.0 265.8C268.8 267.0 269.7 268.0 270.5 269.2C271.3 270.3 272.2 271.4 273.0 272.6C273.8 273.9 274.6 275.4 275.4 276.7C276.3 278.0 277.1 279.4 277.9 280.6C278.7 281.9 279.6 283.1 280.4 284.2C281.2 285.3 282.1 286.3 282.9 287.2C283.7 288.1 284.5 289.1 285.4 289.7C286.2 290.3 287.0 290.9 287.8 291.1C288.6 291.3 289.5 291.0 290.3 290.9C291.1 290.7 291.9 290.6 292.8 290.2C293.6 289.7 294.4 289.1 295.2 288.1C296.1 287.1 296.9 285.9 297.7 284.3C298.6 282.6 299.4 280.0 300.2 278.2C301.0 276.4 301.8 274.9 302.7 273.6C303.5 272.2 304.3 271.0 305.1 270.0C306.0 268.9 306.8 268.1 307.6 267.3C308.4 266.5 309.3 265.9 310.1 265.3C310.9 264.6 311.8 264.1 312.6 263.6C313.4 263.0 314.2 262.5 315.0 262.2C315.9 261.8 316.7 261.7 317.5 261.5C318.3 261.3 319.2 261.2 320.0 261.1C320.8 261.0 321.7 260.9 322.5 260.9C323.3 260.8 324.5 260.7 324.9 260.7" fill="none" stroke="#ffd8e0" stroke-width="1.00" />
<path d="M225.9 254.3C226.4 254.3 227.6 254.4 228.4 254.4C229.2 254.5 230.1 254.5 230.9 254.6C231.7 254.6 232.6 254.6 233.4 254.7C234.2 254.7 235.0 254.8 235.8 254.8C236.7 254.9 237.5 254.9 238.3 255.0C239.1 255.0 240.0 255.1 240.8 255.1C241.6 255.2 242.4 255.2 243.3 255.3C244.1 255.3 244.9 255.4 245.8 255.5C246.6 255.5 247.4 255.6 248.2 255.6C249.0 255.7 249.9 255.8 250.7 255.8C251.5 255.9 252.3 256.0 253.2 256.0C254.0 256.1 254.8 256.1 255.6 256.2C256.5 256.3 257.3 256.3 258.1 256.4C258.9 256.5 259.8 256.5 260.6 256.8C261.4 257.0 262.2 256.9 263.1 257.7C263.9 258.5 264.7 260.1 265.5 261.4C266.4 262.7 267.2 264.2 268.0 265.3C268.8 266.5 269.7 267.5 270.5 268.5C271.3 269.6 272.2 270.7 273.0 271.9C273.8 273.0 274.6 274.4 275.4 275.7C276.3 276.9 277.1 278.2 277.9 279.4C278.7 280.6 279.6 281.8 280.4 282.8C281.2 283.9 282.1 284.8 282.9 285.7C283.7 286.6 284.5 287.4 285.4 288.0C286.2 288.6 287.0 289.1 287.8 289.3C288.6 289.5 289.5 289.3 290.3 289.1C291.1 289.0 291.9 288.9 292.8 288.5C293.6 288.0 294.4 287.4 295.2 286.5C296.1 285.6 296.9 284.5 297.7 282.9C298.6 281.3 299.4 278.8 300.2 277.1C301.0 275.4 301.8 274.0 302.7 272.7C303.5 271.4 304.3 270.3 305.1 269.3C306.0 268.3 306.8 267.5 307.6 266.8C308.4 266.0 309.3 265.4 310.1 264.8C310.9 264.2 311.8 263.7 312.6 263.2C313.4 262.7 314.2 262.2 315.0 261.9C315.9 261.6 316.7 261.4 317.5 261.3C318.3 261.1 319.2 261.0 320.0 260.9C320.8 260.8 321.7 260.7 322.5 260.7C323.3 260.6 324.5 260.5 324.9 260.5" fill="none" stroke="#f0a458" stroke-width="1.00" />
<path d="M225.9 254.4C226.4 254.4 227.6 254.5 228.4 254.5C229.2 254.6 230.1 254.6 230.9 254.6C231.7 254.7 232.6 254.7 233.4 254.8C234.2 254.8 235.0 254.9 235.8 254.9C236.7 255.0 237.5 255.0 238.3 255.0C239.1 255.1 240.0 255.1 240.8 255.2C241.6 255.2 242.4 255.3 243.3 255.4C244.1 255.4 244.9 255.5 245.8 255.5C246.6 255.6 247.4 255.6 248.2 255.7C249.0 255.8 249.9 255.8 250.7 255.9C251.5 255.9 252.3 256.0 253.2 256.1C254.0 256.1 254.8 256.2 255.6 256.2C256.5 256.3 257.3 256.3 258.1 256.4C258.9 256.5 259.8 256.6 260.6 256.8C261.4 257.0 262.2 256.9 263.1 257.7C263.9 258.4 264.7 260.0 265.5 261.3C266.4 262.5 267.2 263.9 268.0 265.1C268.8 266.2 269.7 267.1 270.5 268.2C271.3 269.2 272.2 270.2 273.0 271.4C273.8 272.5 274.6 273.9 275.4 275.1C276.3 276.3 277.1 277.6 277.9 278.7C278.7 279.9 279.6 281.0 280.4 282.0C281.2 283.0 282.1 283.9 282.9 284.8C283.7 285.6 284.5 286.5 285.4 287.0C286.2 287.6 287.0 288.1 287.8 288.3C288.6 288.5 289.5 288.2 290.3 288.1C291.1 288.0 291.9 287.9 292.8 287.5C293.6 287.1 294.4 286.5 295.2 285.6C296.1 284.7 296.9 283.6 297.7 282.1C298.6 280.6 299.4 278.1 300.2 276.5C301.0 274.8 301.8 273.5 302.7 272.2C303.5 271.0 304.3 269.9 305.1 268.9C306.0 268.0 306.8 267.2 307.6 266.5C308.4 265.8 309.3 265.2 310.1 264.6C310.9 264.0 311.8 263.5 312.6 263.0C313.4 262.6 314.2 262.1 315.0 261.8C315.9 261.4 316.7 261.3 317.5 261.1C318.3 261.0 319.2 260.9 320.0 260.8C320.8 260.7 321.7 260.6 322.5 260.6C323.3 260.5 324.5 260.4 324.9 260.4" fill="none" stroke="#f0d048" stroke-width="1.00" />
<path d="M225.9 254.8C226.4 254.8 227.6 254.9 228.4 254.9C229.2 254.9 230.1 255.0 230.9 255.0C231.7 255.0 232.6 255.1 233.4 255.1C234.2 255.1 235.0 255.2 235.8 255.2C236.7 255.3 237.5 255.3 238.3 255.3C239.1 255.4 240.0 255.4 240.8 255.5C241.6 255.5 242.4 255.6 243.3 255.6C244.1 255.6 244.9 255.7 245.8 255.7C246.6 255.8 247.4 255.8 248.2 255.9C249.0 255.9 249.9 256.0 250.7 256.0C251.5 256.1 252.3 256.1 253.2 256.2C254.0 256.2 254.8 256.3 255.6 256.3C256.5 256.4 257.3 256.4 258.1 256.5C258.9 256.6 259.8 256.6 260.6 256.8C261.4 257.0 262.2 257.0 263.1 257.6C263.9 258.2 264.7 259.6 265.5 260.7C266.4 261.7 267.2 263.0 268.0 263.9C268.8 264.9 269.7 265.7 270.5 266.6C271.3 267.5 272.2 268.4 273.0 269.3C273.8 270.3 274.6 271.5 275.4 272.5C276.3 273.6 277.1 274.7 277.9 275.6C278.7 276.6 279.6 277.6 280.4 278.5C281.2 279.4 282.1 280.1 282.9 280.9C283.7 281.6 284.5 282.3 285.4 282.8C286.2 283.3 287.0 283.7 287.8 283.9C288.6 284.0 289.5 283.8 290.3 283.7C291.1 283.6 291.9 283.5 292.8 283.2C293.6 282.8 294.4 282.3 295.2 281.5C296.1 280.8 296.9 279.8 297.7 278.5C298.6 277.2 299.4 275.1 300.2 273.7C301.0 272.3 301.8 271.1 302.7 270.1C303.5 269.0 304.3 268.1 305.1 267.2C306.0 266.4 306.8 265.8 307.6 265.1C308.4 264.5 309.3 264.0 310.1 263.5C310.9 263.0 311.8 262.6 312.6 262.2C313.4 261.8 314.2 261.4 315.0 261.1C315.9 260.8 316.7 260.7 317.5 260.5C318.3 260.4 319.2 260.3 320.0 260.3C320.8 260.2 321.7 260.1 322.5 260.1C323.3 260.0 324.5 259.9 324.9 259.9" fill="none" stroke="#f0f038" stroke-width="1.00" />
<path d="M225.9 255.3C226.4 255.3 227.6 255.4 228.4 255.4C229.2 255.4 230.1 255.5 230.9 255.5C231.7 255.5 232.6 255.5 233.4 255.6C234.2 255.6 235.0 255.6 235.8 255.7C236.7 255.7 237.5 255.7 238.3 255.7C239.1 255.8 240.0 255.8 240.8 255.8C241.6 255.9 242.4 255.9 243.3 255.9C244.1 256.0 244.9 256.0 245.8 256.1C246.6 256.1 247.4 256.1 248.2 256.2C249.0 256.2 249.9 256.2 250.7 256.3C251.5 256.3 252.3 256.4 253.2 256.4C254.0 256.4 254.8 256.5 255.6 256.5C256.5 256.5 257.3 256.6 258.1 256.6C258.9 256.7 259.8 256.7 260.6 256.9C261.4 257.0 262.2 257.0 263.1 257.5C263.9 258.0 264.7 259.0 265.5 259.8C266.4 260.6 267.2 261.6 268.0 262.3C268.8 263.1 269.7 263.7 270.5 264.4C271.3 265.1 272.2 265.7 273.0 266.5C273.8 267.2 274.6 268.1 275.4 268.9C276.3 269.7 277.1 270.5 277.9 271.3C278.7 272.1 279.6 272.8 280.4 273.5C281.2 274.2 282.1 274.8 282.9 275.3C283.7 275.9 284.5 276.4 285.4 276.8C286.2 277.2 287.0 277.5 287.8 277.6C288.6 277.7 289.5 277.6 290.3 277.5C291.1 277.4 291.9 277.4 292.8 277.1C293.6 276.8 294.4 276.4 295.2 275.8C296.1 275.2 296.9 274.5 297.7 273.5C298.6 272.5 299.4 270.9 300.2 269.8C301.0 268.8 301.8 267.9 302.7 267.0C303.5 266.2 304.3 265.5 305.1 264.9C306.0 264.2 306.8 263.7 307.6 263.2C308.4 262.8 309.3 262.4 310.1 262.0C310.9 261.6 311.8 261.3 312.6 261.0C313.4 260.7 314.2 260.3 315.0 260.1C315.9 259.9 316.7 259.8 317.5 259.7C318.3 259.6 319.2 259.6 320.0 259.5C320.8 259.4 321.7 259.4 322.5 259.3C323.3 259.3 324.5 259.3 324.9 259.2" fill="none" stroke="#d4f040" stroke-width="1.00" />
<path d="M225.9 255.8C226.4 255.9 227.6 255.9 228.4 255.9C229.2 255.9 230.1 255.9 230.9 256.0C231.7 256.0 232.6 256.0 233.4 256.0C234.2 256.0 235.0 256.1 235.8 256.1C236.7 256.1 237.5 256.1 238.3 256.1C239.1 256.2 240.0 256.2 240.8 256.2C241.6 256.2 242.4 256.2 243.3 256.3C244.1 256.3 244.9 256.3 245.8 256.3C246.6 256.4 247.4 256.4 248.2 256.4C249.0 256.4 249.9 256.5 250.7 256.5C251.5 256.5 252.3 256.6 253.2 256.6C254.0 256.6 254.8 256.6 255.6 256.7C256.5 256.7 257.3 256.7 258.1 256.8C258.9 256.8 259.8 256.8 260.6 256.9C261.4 257.0 262.2 257.0 263.1 257.3C263.9 257.7 264.7 258.5 265.5 259.0C266.4 259.6 267.2 260.3 268.0 260.8C268.8 261.4 269.7 261.8 270.5 262.3C271.3 262.8 272.2 263.3 273.0 263.8C273.8 264.4 274.6 265.0 275.4 265.6C276.3 266.1 277.1 266.7 277.9 267.3C278.7 267.8 279.6 268.4 280.4 268.8C281.2 269.3 282.1 269.7 282.9 270.1C283.7 270.5 284.5 270.9 285.4 271.2C286.2 271.5 287.0 271.7 287.8 271.8C288.6 271.9 289.5 271.8 290.3 271.7C291.1 271.6 291.9 271.6 292.8 271.4C293.6 271.2 294.4 270.9 295.2 270.5C296.1 270.1 296.9 269.6 297.7 268.9C298.6 268.1 299.4 267.0 300.2 266.2C301.0 265.4 301.8 264.8 302.7 264.2C303.5 263.6 304.3 263.1 305.1 262.6C306.0 262.2 306.8 261.8 307.6 261.5C308.4 261.1 309.3 260.9 310.1 260.6C310.9 260.3 311.8 260.1 312.6 259.9C313.4 259.6 314.2 259.4 315.0 259.3C315.9 259.1 316.7 259.0 317.5 259.0C318.3 258.9 319.2 258.8 320.0 258.8C320.8 258.8 321.7 258.7 322.5 258.7C323.3 258.7 324.5 258.6 324.9 258.6" fill="none" stroke="#b0f040" stroke-width="1.00" />
<path d="M225.9 256.2C226.4 256.2 227.6 256.2 228.4 256.3C229.2 256.3 230.1 256.3 230.9 256.3C231.7 256.3 232.6 256.3 233.4 256.3C234.2 256.3 235.0 256.4 235.8 256.4C236.7 256.4 237.5 256.4 238.3 256.4C239.1 256.4 240.0 256.4 240.8 256.5C241.6 256.5 242.4 256.5 243.3 256.5C244.1 256.5 244.9 256.5 245.8 256.6C246.6 256.6 247.4 256.6 248.2 256.6C249.0 256.6 249.9 256.6 250.7 256.7C251.5 256.7 252.3 256.7 253.2 256.7C254.0 256.7 254.8 256.8 255.6 256.8C256.5 256.8 257.3 256.8 258.1 256.8C258.9 256.9 259.8 256.9 260.6 257.0C261.4 257.0 262.2 257.0 263.1 257.3C263.9 257.5 264.7 258.1 265.5 258.5C266.4 258.9 267.2 259.4 268.0 259.8C268.8 260.2 269.7 260.5 270.5 260.8C271.3 261.2 272.2 261.5 273.0 261.9C273.8 262.3 274.6 262.7 275.4 263.1C276.3 263.6 277.1 264.0 277.9 264.4C278.7 264.8 279.6 265.1 280.4 265.5C281.2 265.8 282.1 266.1 282.9 266.4C283.7 266.7 284.5 267.0 285.4 267.2C286.2 267.4 287.0 267.6 287.8 267.6C288.6 267.7 289.5 267.6 290.3 267.5C291.1 267.5 291.9 267.5 292.8 267.3C293.6 267.2 294.4 267.0 295.2 266.7C296.1 266.4 296.9 266.0 297.7 265.5C298.6 265.0 299.4 264.2 300.2 263.6C301.0 263.1 301.8 262.6 302.7 262.2C303.5 261.7 304.3 261.4 305.1 261.1C306.0 260.7 306.8 260.5 307.6 260.2C308.4 260.0 309.3 259.8 310.1 259.6C310.9 259.4 311.8 259.2 312.6 259.0C313.4 258.9 314.2 258.7 315.0 258.6C315.9 258.5 316.7 258.5 317.5 258.4C318.3 258.3 319.2 258.3 320.0 258.3C320.8 258.3 321.7 258.2 322.5 258.2C323.3 258.2 324.5 258.2 324.9 258.2" fill="none" stroke="#a8ec60" stroke-width="1.00" />
<path d="M225.9 256.5C226.4 256.5 227.6 256.5 228.4 256.6C229.2 256.6 230.1 256.6 230.9 256.6C231.7 256.6 232.6 256.6 233.4 256.6C234.2 256.6 235.0 256.6 235.8 256.6C236.7 256.6 237.5 256.6 238.3 256.6C239.1 256.7 240.0 256.7 240.8 256.7C241.6 256.7 242.4 256.7 243.3 256.7C244.1 256.7 244.9 256.7 245.8 256.7C246.6 256.7 247.4 256.8 248.2 256.8C249.0 256.8 249.9 256.8 250.7 256.8C251.5 256.8 252.3 256.8 253.2 256.8C254.0 256.8 254.8 256.9 255.6 256.9C256.5 256.9 257.3 256.9 258.1 256.9C258.9 256.9 259.8 256.9 260.6 257.0C261.4 257.0 262.2 257.0 263.1 257.2C263.9 257.4 264.7 257.7 265.5 258.0C266.4 258.3 267.2 258.6 268.0 258.8C268.8 259.1 269.7 259.3 270.5 259.5C271.3 259.8 272.2 260.0 273.0 260.2C273.8 260.5 274.6 260.8 275.4 261.1C276.3 261.3 277.1 261.6 277.9 261.9C278.7 262.1 279.6 262.4 280.4 262.6C281.2 262.8 282.1 263.0 282.9 263.2C283.7 263.4 284.5 263.6 285.4 263.7C286.2 263.9 287.0 264.0 287.8 264.0C288.6 264.1 289.5 264.0 290.3 264.0C291.1 263.9 291.9 263.9 292.8 263.8C293.6 263.7 294.4 263.6 295.2 263.4C296.1 263.2 296.9 263.0 297.7 262.6C298.6 262.3 299.4 261.7 300.2 261.4C301.0 261.0 301.8 260.7 302.7 260.4C303.5 260.1 304.3 259.9 305.1 259.7C306.0 259.5 306.8 259.3 307.6 259.1C308.4 259.0 309.3 258.8 310.1 258.7C310.9 258.6 311.8 258.5 312.6 258.4C313.4 258.2 314.2 258.1 315.0 258.1C315.9 258.0 316.7 258.0 317.5 257.9C318.3 257.9 319.2 257.9 320.0 257.9C320.8 257.8 321.7 257.8 322.5 257.8C323.3 257.8 324.5 257.8 324.9 257.8" fill="none" stroke="#88e848" stroke-width="1.00" />
<path d="M225.9 256.6C226.4 256.6 227.6 256.6 228.4 256.6C229.2 256.7 230.1 256.7 230.9 256.7C231.7 256.7 232.6 256.7 233.4 256.7C234.2 256.7 235.0 256.7 235.8 256.7C236.7 256.7 237.5 256.7 238.3 256.7C239.1 256.7 240.0 256.7 240.8 256.7C241.6 256.7 242.4 256.8 243.3 256.8C244.1 256.8 244.9 256.8 245.8 256.8C246.6 256.8 247.4 256.8 248.2 256.8C249.0 256.8 249.9 256.8 250.7 256.8C251.5 256.9 252.3 256.9 253.2 256.9C254.0 256.9 254.8 256.9 255.6 256.9C256.5 256.9 257.3 256.9 258.1 256.9C258.9 257.0 259.8 257.0 260.6 257.0C261.4 257.0 262.2 257.0 263.1 257.2C263.9 257.3 264.7 257.6 265.5 257.8C266.4 258.1 267.2 258.3 268.0 258.6C268.8 258.8 269.7 258.9 270.5 259.1C271.3 259.3 272.2 259.5 273.0 259.7C273.8 259.9 274.6 260.2 275.4 260.4C276.3 260.7 277.1 260.9 277.9 261.1C278.7 261.3 279.6 261.5 280.4 261.7C281.2 261.9 282.1 262.1 282.9 262.2C283.7 262.4 284.5 262.6 285.4 262.7C286.2 262.8 287.0 262.9 287.8 262.9C288.6 262.9 289.5 262.9 290.3 262.9C291.1 262.8 291.9 262.8 292.8 262.8C293.6 262.7 294.4 262.6 295.2 262.4C296.1 262.2 296.9 262.0 297.7 261.7C298.6 261.4 299.4 261.0 300.2 260.7C301.0 260.4 301.8 260.1 302.7 259.9C303.5 259.6 304.3 259.4 305.1 259.3C306.0 259.1 306.8 258.9 307.6 258.8C308.4 258.7 309.3 258.5 310.1 258.4C310.9 258.3 311.8 258.2 312.6 258.1C313.4 258.0 314.2 258.0 315.0 257.9C315.9 257.8 316.7 257.8 317.5 257.8C318.3 257.7 319.2 257.7 320.0 257.7C320.8 257.7 321.7 257.7 322.5 257.7C323.3 257.7 324.5 257.6 324.9 257.6" fill="none" stroke="#90ec70" stroke-width="1.00" />
<path d="M225.9 256.8C226.4 256.8 227.6 256.8 228.4 256.8C229.2 256.8 230.1 256.8 230.9 256.8C231.7 256.8 232.6 256.8 233.4 256.8C234.2 256.8 235.0 256.8 235.8 256.8C236.7 256.8 237.5 256.8 238.3 256.8C239.1 256.8 240.0 256.8 240.8 256.8C241.6 256.8 242.4 256.8 243.3 256.8C244.1 256.8 244.9 256.9 245.8 256.9C246.6 256.9 247.4 256.9 248.2 256.9C249.0 256.9 249.9 256.9 250.7 256.9C251.5 256.9 252.3 256.9 253.2 256.9C254.0 256.9 254.8 256.9 255.6 256.9C256.5 256.9 257.3 257.0 258.1 257.0C258.9 257.0 259.8 257.0 260.6 257.0C261.4 257.0 262.2 257.0 263.1 257.1C263.9 257.2 264.7 257.5 265.5 257.6C266.4 257.8 267.2 258.0 268.0 258.2C268.8 258.3 269.7 258.5 270.5 258.6C271.3 258.7 272.2 258.9 273.0 259.0C273.8 259.2 274.6 259.4 275.4 259.6C276.3 259.7 277.1 259.9 277.9 260.1C278.7 260.2 279.6 260.4 280.4 260.5C281.2 260.7 282.1 260.8 282.9 260.9C283.7 261.0 284.5 261.2 285.4 261.2C286.2 261.3 287.0 261.4 287.8 261.4C288.6 261.4 289.5 261.4 290.3 261.4C291.1 261.4 291.9 261.4 292.8 261.3C293.6 261.2 294.4 261.2 295.2 261.0C296.1 260.9 296.9 260.7 297.7 260.5C298.6 260.3 299.4 260.0 300.2 259.7C301.0 259.5 301.8 259.3 302.7 259.1C303.5 259.0 304.3 258.8 305.1 258.7C306.0 258.5 306.8 258.4 307.6 258.3C308.4 258.2 309.3 258.1 310.1 258.1C310.9 258.0 311.8 257.9 312.6 257.8C313.4 257.8 314.2 257.7 315.0 257.7C315.9 257.6 316.7 257.6 317.5 257.6C318.3 257.5 319.2 257.5 320.0 257.5C320.8 257.5 321.7 257.5 322.5 257.5C323.3 257.5 324.5 257.5 324.9 257.5" fill="none" stroke="#98f098" stroke-width="1.00" />
<path d="M225.9 256.9C226.4 256.9 227.6 256.9 228.4 256.9C229.2 256.9 230.1 256.9 230.9 256.9C231.7 256.9 232.6 256.9 233.4 256.9C234.2 256.9 235.0 256.9 235.8 256.9C236.7 256.9 237.5 256.9 238.3 256.9C239.1 256.9 240.0 256.9 240.8 256.9C241.6 256.9 242.4 256.9 243.3 256.9C244.1 256.9 244.9 256.9 245.8 256.9C246.6 256.9 247.4 256.9 248.2 256.9C249.0 256.9 249.9 256.9 250.7 256.9C251.5 257.0 252.3 257.0 253.2 257.0C254.0 257.0 254.8 257.0 255.6 257.0C256.5 257.0 257.3 257.0 258.1 257.0C258.9 257.0 259.8 257.0 260.6 257.0C261.4 257.0 262.2 257.0 263.1 257.1C263.9 257.2 264.7 257.3 265.5 257.5C266.4 257.6 267.2 257.7 268.0 257.8C268.8 258.0 269.7 258.0 270.5 258.2C271.3 258.3 272.2 258.4 273.0 258.5C273.8 258.6 274.6 258.7 275.4 258.8C276.3 259.0 277.1 259.1 277.9 259.2C278.7 259.3 279.6 259.4 280.4 259.5C281.2 259.6 282.1 259.7 282.9 259.8C283.7 259.9 284.5 260.0 285.4 260.0C286.2 260.1 287.0 260.1 287.8 260.2C288.6 260.2 289.5 260.1 290.3 260.1C291.1 260.1 291.9 260.1 292.8 260.1C293.6 260.0 294.4 260.0 295.2 259.9C296.1 259.8 296.9 259.7 297.7 259.5C298.6 259.4 299.4 259.1 300.2 259.0C301.0 258.8 301.8 258.7 302.7 258.5C303.5 258.4 304.3 258.3 305.1 258.2C306.0 258.1 306.8 258.0 307.6 257.9C308.4 257.9 309.3 257.8 310.1 257.7C310.9 257.7 311.8 257.6 312.6 257.6C313.4 257.5 314.2 257.5 315.0 257.5C315.9 257.4 316.7 257.4 317.5 257.4C318.3 257.4 319.2 257.4 320.0 257.4C320.8 257.3 321.7 257.3 322.5 257.3C323.3 257.3 324.5 257.3 324.9 257.3" fill="none" stroke="#90f2c0" stroke-width="1.00" />
<path d="M225.9 257.0C226.4 257.0 227.6 257.0 228.4 257.0C229.2 257.0 230.1 257.0 230.9 257.0C231.7 257.0 232.6 257.0 233.4 257.0C234.2 257.0 235.0 257.0 235.8 257.0C236.7 257.0 237.5 257.0 238.3 257.0C239.1 257.0 240.0 257.0 240.8 257.0C241.6 257.0 242.4 257.0 243.3 257.0C244.1 257.0 244.9 257.0 245.8 257.0C246.6 257.0 247.4 257.0 248.2 257.0C249.0 257.0 249.9 257.0 250.7 257.0C251.5 257.0 252.3 257.0 253.2 257.0C254.0 257.0 254.8 257.0 255.6 257.0C256.5 257.0 257.3 257.0 258.1 257.0C258.9 257.0 259.8 257.0 260.6 257.0C261.4 257.0 262.2 257.0 263.1 257.1C263.9 257.1 264.7 257.2 265.5 257.3C266.4 257.4 267.2 257.4 268.0 257.5C268.8 257.6 269.7 257.6 270.5 257.7C271.3 257.7 272.2 257.8 273.0 257.8C273.8 257.9 274.6 258.0 275.4 258.1C276.3 258.1 277.1 258.2 277.9 258.3C278.7 258.3 279.6 258.4 280.4 258.4C281.2 258.5 282.1 258.6 282.9 258.6C283.7 258.7 284.5 258.7 285.4 258.7C286.2 258.8 287.0 258.8 287.8 258.8C288.6 258.8 289.5 258.8 290.3 258.8C291.1 258.8 291.9 258.8 292.8 258.8C293.6 258.7 294.4 258.7 295.2 258.6C296.1 258.6 296.9 258.5 297.7 258.4C298.6 258.4 299.4 258.2 300.2 258.1C301.0 258.0 301.8 257.9 302.7 257.9C303.5 257.8 304.3 257.7 305.1 257.7C306.0 257.6 306.8 257.6 307.6 257.5C308.4 257.5 309.3 257.4 310.1 257.4C310.9 257.4 311.8 257.3 312.6 257.3C313.4 257.3 314.2 257.3 315.0 257.2C315.9 257.2 316.7 257.2 317.5 257.2C318.3 257.2 319.2 257.2 320.0 257.2C320.8 257.2 321.7 257.2 322.5 257.2C323.3 257.2 324.5 257.2 324.9 257.2" fill="none" stroke="#7af0e0" stroke-width="1.00" />
<path d="M225.9 257.1C226.4 257.1 227.6 257.1 228.4 257.1C229.2 257.1 230.1 257.1 230.9 257.1C231.7 257.1 232.6 257.0 233.4 257.0C234.2 257.0 235.0 257.0 235.8 257.0C236.7 257.0 237.5 257.0 238.3 257.0C239.1 257.0 240.0 257.0 240.8 257.0C241.6 257.0 242.4 257.0 243.3 257.0C244.1 257.0 244.9 257.0 245.8 257.0C246.6 257.0 247.4 257.0 248.2 257.0C249.0 257.0 249.9 257.0 250.7 257.0C251.5 257.0 252.3 257.0 253.2 257.0C254.0 257.0 254.8 257.0 255.6 257.0C256.5 257.0 257.3 257.0 258.1 257.0C258.9 257.0 259.8 257.0 260.6 257.0C261.4 257.0 262.2 257.0 263.1 257.1C263.9 257.1 264.7 257.1 265.5 257.2C266.4 257.2 267.2 257.3 268.0 257.3C268.8 257.3 269.7 257.4 270.5 257.4C271.3 257.4 272.2 257.5 273.0 257.5C273.8 257.5 274.6 257.6 275.4 257.6C276.3 257.6 277.1 257.7 277.9 257.7C278.7 257.8 279.6 257.8 280.4 257.8C281.2 257.9 282.1 257.9 282.9 257.9C283.7 257.9 284.5 258.0 285.4 258.0C286.2 258.0 287.0 258.0 287.8 258.0C288.6 258.0 289.5 258.0 290.3 258.0C291.1 258.0 291.9 258.0 292.8 258.0C293.6 258.0 294.4 258.0 295.2 257.9C296.1 257.9 296.9 257.9 297.7 257.8C298.6 257.8 299.4 257.7 300.2 257.6C301.0 257.6 301.8 257.5 302.7 257.5C303.5 257.4 304.3 257.4 305.1 257.4C306.0 257.3 306.8 257.3 307.6 257.3C308.4 257.3 309.3 257.3 310.1 257.2C310.9 257.2 311.8 257.2 312.6 257.2C313.4 257.2 314.2 257.1 315.0 257.1C315.9 257.1 316.7 257.1 317.5 257.1C318.3 257.1 319.2 257.1 320.0 257.1C320.8 257.1 321.7 257.1 322.5 257.1C323.3 257.1 324.5 257.1 324.9 257.1" fill="none" stroke="#78e4f8" stroke-width="1.00" />
<path d="M225.9 257.1C226.4 257.1 227.6 257.1 228.4 257.1C229.2 257.1 230.1 257.1 230.9 257.1C231.7 257.1 232.6 257.1 233.4 257.1C234.2 257.1 235.0 257.1 235.8 257.1C236.7 257.1 237.5 257.1 238.3 257.1C239.1 257.1 240.0 257.1 240.8 257.1C241.6 257.1 242.4 257.1 243.3 257.1C244.1 257.1 244.9 257.1 245.8 257.1C246.6 257.1 247.4 257.1 248.2 257.1C249.0 257.1 249.9 257.0 250.7 257.0C251.5 257.0 252.3 257.0 253.2 257.0C254.0 257.0 254.8 257.0 255.6 257.0C256.5 257.0 257.3 257.0 258.1 257.0C258.9 257.0 259.8 257.0 260.6 257.0C261.4 257.0 262.2 257.0 263.1 257.1C263.9 257.1 264.7 257.1 265.5 257.1C266.4 257.1 267.2 257.1 268.0 257.2C268.8 257.2 269.7 257.2 270.5 257.2C271.3 257.2 272.2 257.2 273.0 257.2C273.8 257.3 274.6 257.3 275.4 257.3C276.3 257.3 277.1 257.3 277.9 257.3C278.7 257.4 279.6 257.4 280.4 257.4C281.2 257.4 282.1 257.4 282.9 257.4C283.7 257.4 284.5 257.5 285.4 257.5C286.2 257.5 287.0 257.5 287.8 257.5C288.6 257.5 289.5 257.5 290.3 257.5C291.1 257.5 291.9 257.5 292.8 257.5C293.6 257.5 294.4 257.4 295.2 257.4C296.1 257.4 296.9 257.4 297.7 257.4C298.6 257.4 299.4 257.3 300.2 257.3C301.0 257.3 301.8 257.3 302.7 257.2C303.5 257.2 304.3 257.2 305.1 257.2C306.0 257.2 306.8 257.2 307.6 257.1C308.4 257.1 309.3 257.1 310.1 257.1C310.9 257.1 311.8 257.1 312.6 257.1C313.4 257.1 314.2 257.1 315.0 257.1C315.9 257.1 316.7 257.1 317.5 257.1C318.3 257.1 319.2 257.1 320.0 257.1C320.8 257.1 321.7 257.1 322.5 257.1C323.3 257.1 324.5 257.1 324.9 257.1" fill="none" stroke="#68b8f4" stroke-width="1.00" />
<path d="M225.9 257.2C226.4 257.2 227.6 257.2 228.4 257.2C229.2 257.2 230.1 257.2 230.9 257.2C231.7 257.2 232.6 257.2 233.4 257.2C234.2 257.2 235.0 257.2 235.8 257.2C236.7 257.2 237.5 257.2 238.3 257.2C239.1 257.2 240.0 257.2 240.8 257.2C241.6 257.2 242.4 257.2 243.3 257.1C244.1 257.1 244.9 257.1 245.8 257.1C246.6 257.1 247.4 257.1 248.2 257.1C249.0 257.1 249.9 257.1 250.7 257.1C251.5 257.1 252.3 257.1 253.2 257.1C254.0 257.1 254.8 257.1 255.6 257.1C256.5 257.1 257.3 257.1 258.1 257.1C258.9 257.1 259.8 257.1 260.6 257.1C261.4 257.1 262.2 257.1 263.1 257.1C263.9 257.1 264.7 257.1 265.5 257.1C266.4 257.1 267.2 257.1 268.0 257.1C268.8 257.1 269.7 257.1 270.5 257.1C271.3 257.1 272.2 257.1 273.0 257.1C273.8 257.1 274.6 257.1 275.4 257.1C276.3 257.1 277.1 257.1 277.9 257.2C278.7 257.2 279.6 257.2 280.4 257.2C281.2 257.2 282.1 257.2 282.9 257.2C283.7 257.2 284.5 257.2 285.4 257.2C286.2 257.2 287.0 257.2 287.8 257.2C288.6 257.2 289.5 257.2 290.3 257.2C291.1 257.2 291.9 257.2 292.8 257.2C293.6 257.2 294.4 257.2 295.2 257.2C296.1 257.2 296.9 257.2 297.7 257.2C298.6 257.1 299.4 257.1 300.2 257.1C301.0 257.1 301.8 257.1 302.7 257.1C303.5 257.1 304.3 257.1 305.1 257.1C306.0 257.1 306.8 257.1 307.6 257.1C308.4 257.1 309.3 257.1 310.1 257.0C310.9 257.0 311.8 257.0 312.6 257.0C313.4 257.0 314.2 257.0 315.0 257.0C315.9 257.0 316.7 257.0 317.5 257.0C318.3 257.0 319.2 257.0 320.0 257.0C320.8 257.0 321.7 257.0 322.5 257.0C323.3 257.0 324.5 257.0 324.9 257.0" fill="none" stroke="#6498f4" stroke-width="1.00" />
<path d="M225.9 257.2C226.4 257.2 227.6 257.2 228.4 257.2C229.2 257.2 230.1 257.2 230.9 257.2C231.7 257.2 232.6 257.2 233.4 257.2C234.2 257.2 235.0 257.2 235.8 257.2C236.7 257.2 237.5 257.2 238.3 257.2C239.1 257.2 240.0 257.2 240.8 257.2C241.6 257.2 242.4 257.1 243.3 257.1C244.1 257.1 244.9 257.1 245.8 257.1C246.6 257.1 247.4 257.1 248.2 257.1C249.0 257.1 249.9 257.1 250.7 257.1C251.5 257.1 252.3 257.1 253.2 257.1C254.0 257.1 254.8 257.1 255.6 257.1C256.5 257.1 257.3 257.1 258.1 257.1C258.9 257.1 259.8 257.1 260.6 257.1C261.4 257.1 262.2 257.1 263.1 257.1C263.9 257.1 264.7 257.1 265.5 257.1C266.4 257.1 267.2 257.1 268.0 257.1C268.8 257.1 269.7 257.1 270.5 257.1C271.3 257.1 272.2 257.1 273.0 257.1C273.8 257.1 274.6 257.1 275.4 257.1C276.3 257.1 277.1 257.1 277.9 257.2C278.7 257.2 279.6 257.2 280.4 257.2C281.2 257.2 282.1 257.2 282.9 257.2C283.7 257.2 284.5 257.2 285.4 257.2C286.2 257.2 287.0 257.2 287.8 257.2C288.6 257.2 289.5 257.2 290.3 257.2C291.1 257.2 291.9 257.2 292.8 257.2C293.6 257.2 294.4 257.2 295.2 257.2C296.1 257.2 296.9 257.2 297.7 257.2C298.6 257.1 299.4 257.1 300.2 257.1C301.0 257.1 301.8 257.1 302.7 257.1C303.5 257.1 304.3 257.1 305.1 257.1C306.0 257.1 306.8 257.1 307.6 257.1C308.4 257.1 309.3 257.1 310.1 257.0C310.9 257.0 311.8 257.0 312.6 257.0C313.4 257.0 314.2 257.0 315.0 257.0C315.9 257.0 316.7 257.0 317.5 257.0C318.3 257.0 319.2 257.0 320.0 257.0C320.8 257.0 321.7 257.0 322.5 257.0C323.3 257.0 324.5 257.0 324.9 257.0" fill="none" stroke="#4a5cf8" stroke-width="1.00" />
<path d="M225.9 257.2C226.4 257.2 227.6 257.2 228.4 257.2C229.2 257.2 230.1 257.2 230.9 257.2C231.7 257.2 232.6 257.2 233.4 257.2C234.2 257.2 235.0 257.2 235.8 257.2C236.7 257.2 237.5 257.2 238.3 257.1C239.1 257.1 240.0 257.1 240.8 257.1C241.6 257.1 242.4 257.1 243.3 257.1C244.1 257.1 244.9 257.1 245.8 257.1C246.6 257.1 247.4 257.1 248.2 257.1C249.0 257.1 249.9 257.1 250.7 257.1C251.5 257.1 252.3 257.1 253.2 257.1C254.0 257.1 254.8 257.1 255.6 257.1C256.5 257.1 257.3 257.1 258.1 257.1C258.9 257.1 259.8 257.1 260.6 257.1C261.4 257.1 262.2 257.1 263.1 257.1C263.9 257.1 264.7 257.1 265.5 257.1C266.4 257.1 267.2 257.1 268.0 257.1C268.8 257.1 269.7 257.1 270.5 257.1C271.3 257.1 272.2 257.1 273.0 257.1C273.8 257.1 274.6 257.1 275.4 257.1C276.3 257.1 277.1 257.1 277.9 257.1C278.7 257.1 279.6 257.1 280.4 257.1C281.2 257.1 282.1 257.1 282.9 257.1C283.7 257.1 284.5 257.1 285.4 257.1C286.2 257.1 287.0 257.1 287.8 257.1C288.6 257.1 289.5 257.1 290.3 257.1C291.1 257.1 291.9 257.1 292.8 257.1C293.6 257.1 294.4 257.1 295.2 257.1C296.1 257.1 296.9 257.1 297.7 257.1C298.6 257.1 299.4 257.1 300.2 257.1C301.0 257.1 301.8 257.1 302.7 257.1C303.5 257.1 304.3 257.1 305.1 257.1C306.0 257.1 306.8 257.1 307.6 257.0C308.4 257.0 309.3 257.0 310.1 257.0C310.9 257.0 311.8 257.0 312.6 257.0C313.4 257.0 314.2 257.0 315.0 257.0C315.9 257.0 316.7 257.0 317.5 257.0C318.3 257.0 319.2 257.0 320.0 257.0C320.8 257.0 321.7 257.0 322.5 257.0C323.3 257.0 324.5 257.0 324.9 257.0" fill="none" stroke="#4252f6" stroke-width="1.00" />
<path d="M225.9 257.2C226.4 257.2 227.6 257.2 228.4 257.2C229.2 257.2 230.1 257.2 230.9 257.2C231.7 257.2 232.6 257.2 233.4 257.2C234.2 257.2 235.0 257.2 235.8 257.2C236.7 257.2 237.5 257.1 238.3 257.1C239.1 257.1 240.0 257.1 240.8 257.1C241.6 257.1 242.4 257.1 243.3 257.1C244.1 257.1 244.9 257.1 245.8 257.1C246.6 257.1 247.4 257.1 248.2 257.1C249.0 257.1 249.9 257.1 250.7 257.1C251.5 257.1 252.3 257.1 253.2 257.1C254.0 257.1 254.8 257.1 255.6 257.1C256.5 257.1 257.3 257.1 258.1 257.1C258.9 257.1 259.8 257.1 260.6 257.1C261.4 257.1 262.2 257.1 263.1 257.1C263.9 257.1 264.7 257.1 265.5 257.1C266.4 257.1 267.2 257.1 268.0 257.1C268.8 257.1 269.7 257.1 270.5 257.1C271.3 257.1 272.2 257.1 273.0 257.1C273.8 257.1 274.6 257.1 275.4 257.1C276.3 257.1 277.1 257.1 277.9 257.1C278.7 257.1 279.6 257.1 280.4 257.1C281.2 257.1 282.1 257.1 282.9 257.1C283.7 257.1 284.5 257.1 285.4 257.1C286.2 257.1 287.0 257.1 287.8 257.1C288.6 257.1 289.5 257.1 290.3 257.1C291.1 257.1 291.9 257.1 292.8 257.1C293.6 257.1 294.4 257.1 295.2 257.1C296.1 257.1 296.9 257.1 297.7 257.1C298.6 257.1 299.4 257.1 300.2 257.1C301.0 257.1 301.8 257.1 302.7 257.1C303.5 257.1 304.3 257.1 305.1 257.1C306.0 257.1 306.8 257.0 307.6 257.0C308.4 257.0 309.3 257.0 310.1 257.0C310.9 257.0 311.8 257.0 312.6 257.0C313.4 257.0 314.2 257.0 315.0 257.0C315.9 257.0 316.7 257.0 317.5 257.0C318.3 257.0 319.2 257.0 320.0 257.0C320.8 257.0 321.7 257.0 322.5 257.0C323.3 257.0 324.5 257.0 324.9 257.0" fill="none" stroke="#3c4cf4" stroke-width="1.00" />
<path d="M225.9 257.2C226.4 257.2 227.6 257.2 228.4 257.2C229.2 257.2 230.1 257.2 230.9 257.2C231.7 257.2 232.6 257.2 233.4 257.1C234.2 257.1 235.0 257.1 235.8 257.1C236.7 257.1 237.5 257.1 238.3 257.1C239.1 257.1 240.0 257.1 240.8 257.1C241.6 257.1 242.4 257.1 243.3 257.1C244.1 257.1 244.9 257.1 245.8 257.1C246.6 257.1 247.4 257.1 248.2 257.1C249.0 257.1 249.9 257.1 250.7 257.1C251.5 257.1 252.3 257.1 253.2 257.1C254.0 257.1 254.8 257.1 255.6 257.1C256.5 257.1 257.3 257.1 258.1 257.1C258.9 257.1 259.8 257.1 260.6 257.1C261.4 257.1 262.2 257.1 263.1 257.1C263.9 257.1 264.7 257.1 265.5 257.1C266.4 257.1 267.2 257.1 268.0 257.1C268.8 257.1 269.7 257.1 270.5 257.1C271.3 257.1 272.2 257.1 273.0 257.1C273.8 257.1 274.6 257.1 275.4 257.1C276.3 257.1 277.1 257.1 277.9 257.1C278.7 257.1 279.6 257.1 280.4 257.1C281.2 257.1 282.1 257.1 282.9 257.1C283.7 257.1 284.5 257.1 285.4 257.1C286.2 257.1 287.0 257.1 287.8 257.1C288.6 257.1 289.5 257.1 290.3 257.1C291.1 257.1 291.9 257.1 292.8 257.1C293.6 257.1 294.4 257.1 295.2 257.1C296.1 257.1 296.9 257.1 297.7 257.1C298.6 257.1 299.4 257.1 300.2 257.1C301.0 257.1 301.8 257.1 302.7 257.1C303.5 257.0 304.3 257.0 305.1 257.0C306.0 257.0 306.8 257.0 307.6 257.0C308.4 257.0 309.3 257.0 310.1 257.0C310.9 257.0 311.8 257.0 312.6 257.0C313.4 257.0 314.2 257.0 315.0 257.0C315.9 257.0 316.7 257.0 317.5 257.0C318.3 257.0 319.2 257.0 320.0 257.0C320.8 257.0 321.7 257.0 322.5 257.0C323.3 257.0 324.5 257.0 324.9 257.0" fill="none" stroke="#3848f2" stroke-width="1.00" />
<path d="M225.9 257.2C226.4 257.2 227.6 257.2 228.4 257.2C229.2 257.2 230.1 257.2 230.9 257.1C231.7 257.1 232.6 257.1 233.4 257.1C234.2 257.1 235.0 257.1 235.8 257.1C236.7 257.1 237.5 257.1 238.3 257.1C239.1 257.1 240.0 257.1 240.8 257.1C241.6 257.1 242.4 257.1 243.3 257.1C244.1 257.1 244.9 257.1 245.8 257.1C246.6 257.1 247.4 257.1 248.2 257.1C249.0 257.1 249.9 257.1 250.7 257.1C251.5 257.1 252.3 257.1 253.2 257.1C254.0 257.1 254.8 257.1 255.6 257.1C256.5 257.1 257.3 257.1 258.1 257.1C258.9 257.1 259.8 257.1 260.6 257.1C261.4 257.1 262.2 257.1 263.1 257.1C263.9 257.1 264.7 257.1 265.5 257.1C266.4 257.1 267.2 257.1 268.0 257.1C268.8 257.1 269.7 257.1 270.5 257.1C271.3 257.1 272.2 257.1 273.0 257.1C273.8 257.1 274.6 257.1 275.4 257.1C276.3 257.1 277.1 257.1 277.9 257.1C278.7 257.1 279.6 257.1 280.4 257.1C281.2 257.1 282.1 257.1 282.9 257.1C283.7 257.1 284.5 257.1 285.4 257.1C286.2 257.1 287.0 257.1 287.8 257.1C288.6 257.1 289.5 257.1 290.3 257.1C291.1 257.1 291.9 257.1 292.8 257.1C293.6 257.1 294.4 257.1 295.2 257.1C296.1 257.1 296.9 257.1 297.7 257.1C298.6 257.1 299.4 257.1 300.2 257.0C301.0 257.0 301.8 257.0 302.7 257.0C303.5 257.0 304.3 257.0 305.1 257.0C306.0 257.0 306.8 257.0 307.6 257.0C308.4 257.0 309.3 257.0 310.1 257.0C310.9 257.0 311.8 257.0 312.6 257.0C313.4 257.0 314.2 257.0 315.0 257.0C315.9 257.0 316.7 257.0 317.5 257.0C318.3 257.0 319.2 257.0 320.0 257.0C320.8 257.0 321.7 257.0 322.5 257.0C323.3 257.0 324.5 257.0 324.9 257.0" fill="none" stroke="#3444f0" stroke-width="1.00" />
<path d="M225.9 257.2C226.4 257.2 227.6 257.2 228.4 257.2C229.2 257.2 230.1 257.2 230.9 257.1C231.7 257.1 232.6 257.1 233.4 257.1C234.2 257.1 235.0 257.1 235.8 257.1C236.7 257.1 237.5 257.1 238.3 257.1C239.1 257.1 240.0 257.1 240.8 257.1C241.6 257.1 242.4 257.1 243.3 257.1C244.1 257.1 244.9 257.1 245.8 257.1C246.6 257.1 247.4 257.1 248.2 257.1C249.0 257.1 249.9 257.1 250.7 257.1C251.5 257.1 252.3 257.1 253.2 257.1C254.0 257.1 254.8 257.1 255.6 257.1C256.5 257.1 257.3 257.1 258.1 257.1C258.9 257.1 259.8 257.1 260.6 257.1C261.4 257.1 262.2 257.1 263.1 257.1C263.9 257.1 264.7 257.1 265.5 257.1C266.4 257.1 267.2 257.1 268.0 257.1C268.8 257.1 269.7 257.1 270.5 257.1C271.3 257.1 272.2 257.1 273.0 257.1C273.8 257.1 274.6 257.1 275.4 257.1C276.3 257.1 277.1 257.1 277.9 257.1C278.7 257.1 279.6 257.1 280.4 257.1C281.2 257.1 282.1 257.1 282.9 257.1C283.7 257.1 284.5 257.1 285.4 257.1C286.2 257.1 287.0 257.1 287.8 257.1C288.6 257.1 289.5 257.1 290.3 257.1C291.1 257.1 291.9 257.1 292.8 257.1C293.6 257.1 294.4 257.1 295.2 257.1C296.1 257.1 296.9 257.1 297.7 257.1C298.6 257.1 299.4 257.0 300.2 257.0C301.0 257.0 301.8 257.0 302.7 257.0C303.5 257.0 304.3 257.0 305.1 257.0C306.0 257.0 306.8 257.0 307.6 257.0C308.4 257.0 309.3 257.0 310.1 257.0C310.9 257.0 311.8 257.0 312.6 257.0C313.4 257.0 314.2 257.0 315.0 257.0C315.9 257.0 316.7 257.0 317.5 257.0C318.3 257.0 319.2 257.0 320.0 257.0C320.8 257.0 321.7 257.0 322.5 257.0C323.3 257.0 324.5 257.0 324.9 257.0" fill="none" stroke="#3040f0" stroke-width="1.00" />
<path d="M225.9 257.2C226.4 257.1 227.6 257.1 228.4 257.1C229.2 257.1 230.1 257.1 230.9 257.1C231.7 257.1 232.6 257.1 233.4 257.1C234.2 257.1 235.0 257.1 235.8 257.1C236.7 257.1 237.5 257.1 238.3 257.1C239.1 257.1 240.0 257.1 240.8 257.1C241.6 257.1 242.4 257.1 243.3 257.1C244.1 257.1 244.9 257.1 245.8 257.1C246.6 257.1 247.4 257.1 248.2 257.1C249.0 257.1 249.9 257.1 250.7 257.1C251.5 257.1 252.3 257.1 253.2 257.1C254.0 257.1 254.8 257.1 255.6 257.1C256.5 257.1 257.3 257.1 258.1 257.1C258.9 257.1 259.8 257.0 260.6 257.0C261.4 257.0 262.2 257.0 263.1 257.0C263.9 257.0 264.7 257.0 265.5 257.0C266.4 257.0 267.2 257.0 268.0 257.0C268.8 257.0 269.7 257.0 270.5 257.0C271.3 257.0 272.2 257.0 273.0 257.0C273.8 257.0 274.6 257.0 275.4 257.0C276.3 257.0 277.1 257.0 277.9 257.0C278.7 257.0 279.6 257.0 280.4 257.0C281.2 257.0 282.1 257.0 282.9 257.0C283.7 257.0 284.5 257.0 285.4 257.0C286.2 257.0 287.0 257.0 287.8 257.0C288.6 257.0 289.5 257.0 290.3 257.0C291.1 257.0 291.9 257.0 292.8 257.0C293.6 257.0 294.4 257.0 295.2 257.0C296.1 257.0 296.9 257.0 297.7 257.0C298.6 257.0 299.4 257.0 300.2 257.0C301.0 257.0 301.8 257.0 302.7 257.0C303.5 257.0 304.3 257.0 305.1 257.0C306.0 257.0 306.8 257.0 307.6 257.0C308.4 257.0 309.3 257.0 310.1 257.0C310.9 257.0 311.8 257.0 312.6 257.0C313.4 257.0 314.2 257.0 315.0 257.0C315.9 257.0 316.7 257.0 317.5 257.0C318.3 257.0 319.2 257.0 320.0 257.0C320.8 257.0 321.7 257.0 322.5 257.0C323.3 257.0 324.5 257.0 324.9 257.0" fill="none" stroke="#14145a" stroke-width="1.40" stroke-dasharray="1.1 0.7"/>
<rect x="225.3" y="247.0" width="1.3" height="1.3" fill="#a03030"/>
<rect x="227.8" y="247.4" width="1.3" height="1.3" fill="#a03030"/>
<rect x="230.2" y="247.9" width="1.3" height="1.3" fill="#a03030"/>
<rect x="232.7" y="248.4" width="1.3" height="1.3" fill="#a03030"/>
<rect x="235.2" y="248.9" width="1.3" height="1.3" fill="#a03030"/>
<rect x="237.7" y="249.4" width="1.3" height="1.3" fill="#a03030"/>
<rect x="240.1" y="249.9" width="1.3" height="1.3" fill="#a03030"/>
<rect x="242.6" y="250.4" width="1.3" height="1.3" fill="#a03030"/>
<rect x="245.1" y="251.0" width="1.3" height="1.3" fill="#a03030"/>
<rect x="247.6" y="251.7" width="1.3" height="1.3" fill="#a03030"/>
<rect x="250.0" y="252.3" width="1.3" height="1.3" fill="#a03030"/>
<rect x="252.5" y="252.9" width="1.3" height="1.3" fill="#a03030"/>
<rect x="255.0" y="253.5" width="1.3" height="1.3" fill="#a03030"/>
<rect x="257.5" y="254.3" width="1.3" height="1.3" fill="#a03030"/>
<rect x="259.9" y="255.4" width="1.3" height="1.3" fill="#a03030"/>
<rect x="262.4" y="258.6" width="1.3" height="1.3" fill="#a03030"/>
<rect x="264.9" y="271.0" width="1.3" height="1.3" fill="#a03030"/>
<rect x="267.4" y="284.2" width="1.3" height="1.3" fill="#a03030"/>
<rect x="269.9" y="294.7" width="1.3" height="1.3" fill="#a03030"/>
<rect x="272.3" y="303.7" width="1.3" height="1.3" fill="#a03030"/>
<rect x="274.8" y="313.6" width="1.3" height="1.3" fill="#a03030"/>
<rect x="277.3" y="323.0" width="1.3" height="1.3" fill="#a03030"/>
<rect x="279.8" y="331.3" width="1.3" height="1.3" fill="#a03030"/>
<rect x="282.2" y="338.5" width="1.3" height="1.3" fill="#a03030"/>
<rect x="284.7" y="345.2" width="1.3" height="1.3" fill="#a03030"/>
<rect x="287.2" y="349.2" width="1.3" height="1.3" fill="#a03030"/>
<rect x="289.6" y="350.4" width="1.3" height="1.3" fill="#a03030"/>
<rect x="292.1" y="350.8" width="1.3" height="1.3" fill="#a03030"/>
<rect x="294.6" y="347.3" width="1.3" height="1.3" fill="#a03030"/>
<rect x="297.1" y="336.6" width="1.3" height="1.3" fill="#a03030"/>
<rect x="299.6" y="318.2" width="1.3" height="1.3" fill="#a03030"/>
<rect x="302.0" y="304.7" width="1.3" height="1.3" fill="#a03030"/>
<rect x="304.5" y="294.2" width="1.3" height="1.3" fill="#a03030"/>
<rect x="307.0" y="286.3" width="1.3" height="1.3" fill="#a03030"/>
<rect x="309.5" y="280.2" width="1.3" height="1.3" fill="#a03030"/>
<rect x="311.9" y="274.9" width="1.3" height="1.3" fill="#a03030"/>
<rect x="314.4" y="271.1" width="1.3" height="1.3" fill="#a03030"/>
<rect x="316.9" y="269.4" width="1.3" height="1.3" fill="#a03030"/>
<rect x="319.4" y="268.4" width="1.3" height="1.3" fill="#a03030"/>
<rect x="321.8" y="267.7" width="1.3" height="1.3" fill="#a03030"/>
<rect x="324.3" y="267.2" width="1.3" height="1.3" fill="#a03030"/>
<path d="M201.6 235.5 V364.9" fill="none" stroke="#585858" stroke-width="0.8"/>
<path d="M201.2 369.6 H350.1" fill="none" stroke="#585858" stroke-width="0.8"/>
<path d="M199.4 364.5 H201.2" stroke="#585858" stroke-width="0.8"/>
<path d="M200.0 353.8 H201.2" stroke="#585858" stroke-width="0.8"/>
<path d="M199.4 343.0 H201.2" stroke="#585858" stroke-width="0.8"/>
<path d="M200.0 332.2 H201.2" stroke="#585858" stroke-width="0.8"/>
<path d="M199.4 321.5 H201.2" stroke="#585858" stroke-width="0.8"/>
<path d="M200.0 310.8 H201.2" stroke="#585858" stroke-width="0.8"/>
<path d="M199.4 300.0 H201.2" stroke="#585858" stroke-width="0.8"/>
<path d="M200.0 289.2 H201.2" stroke="#585858" stroke-width="0.8"/>
<path d="M199.4 278.5 H201.2" stroke="#585858" stroke-width="0.8"/>
<path d="M200.0 267.8 H201.2" stroke="#585858" stroke-width="0.8"/>
<path d="M199.4 257.0 H201.2" stroke="#585858" stroke-width="0.8"/>
<path d="M200.0 246.2 H201.2" stroke="#585858" stroke-width="0.8"/>
<path d="M199.4 235.5 H201.2" stroke="#585858" stroke-width="0.8"/>
<text x="198.2" y="237.3" font-family="Liberation Sans" font-size="5.10" text-anchor="end" fill="#222222" font-weight="normal"  stroke="#222222" stroke-width="0.18">0.01</text>
<text x="198.2" y="258.9" font-family="Liberation Sans" font-size="5.10" text-anchor="end" fill="#222222" font-weight="normal"  stroke="#222222" stroke-width="0.18">0</text>
<text x="198.2" y="280.4" font-family="Liberation Sans" font-size="5.10" text-anchor="end" fill="#222222" font-weight="normal"  stroke="#222222" stroke-width="0.18">−0.01</text>
<text x="198.2" y="301.9" font-family="Liberation Sans" font-size="5.10" text-anchor="end" fill="#222222" font-weight="normal"  stroke="#222222" stroke-width="0.18">−0.02</text>
<text x="198.2" y="323.4" font-family="Liberation Sans" font-size="5.10" text-anchor="end" fill="#222222" font-weight="normal"  stroke="#222222" stroke-width="0.18">−0.03</text>
<text x="198.2" y="344.9" font-family="Liberation Sans" font-size="5.10" text-anchor="end" fill="#222222" font-weight="normal"  stroke="#222222" stroke-width="0.18">−0.04</text>
<text x="198.2" y="366.4" font-family="Liberation Sans" font-size="5.10" text-anchor="end" fill="#222222" font-weight="normal"  stroke="#222222" stroke-width="0.18">−0.05</text>
<path d="M201.2 369.6 V371.6" stroke="#585858" stroke-width="0.7"/>
<text x="201.2" y="377.8" font-family="Liberation Sans" font-size="5.00" text-anchor="middle" fill="#222222" font-weight="normal"  stroke="#222222" stroke-width="0.18">400</text>
<path d="M213.6 369.6 V371.6" stroke="#585858" stroke-width="0.7"/>
<path d="M225.9 369.6 V371.6" stroke="#585858" stroke-width="0.7"/>
<text x="225.9" y="377.8" font-family="Liberation Sans" font-size="5.00" text-anchor="middle" fill="#222222" font-weight="normal"  stroke="#222222" stroke-width="0.18">450</text>
<path d="M238.3 369.6 V371.6" stroke="#585858" stroke-width="0.7"/>
<path d="M250.7 369.6 V371.6" stroke="#585858" stroke-width="0.7"/>
<text x="250.7" y="377.8" font-family="Liberation Sans" font-size="5.00" text-anchor="middle" fill="#222222" font-weight="normal"  stroke="#222222" stroke-width="0.18">500</text>
<path d="M263.1 369.6 V371.6" stroke="#585858" stroke-width="0.7"/>
<path d="M275.4 369.6 V371.6" stroke="#585858" stroke-width="0.7"/>
<text x="275.4" y="377.8" font-family="Liberation Sans" font-size="5.00" text-anchor="middle" fill="#222222" font-weight="normal"  stroke="#222222" stroke-width="0.18">550</text>
<path d="M287.8 369.6 V371.6" stroke="#585858" stroke-width="0.7"/>
<path d="M300.2 369.6 V371.6" stroke="#585858" stroke-width="0.7"/>
<text x="300.2" y="377.8" font-family="Liberation Sans" font-size="5.00" text-anchor="middle" fill="#222222" font-weight="normal"  stroke="#222222" stroke-width="0.18">600</text>
<path d="M312.6 369.6 V371.6" stroke="#585858" stroke-width="0.7"/>
<path d="M324.9 369.6 V371.6" stroke="#585858" stroke-width="0.7"/>
<text x="324.9" y="377.8" font-family="Liberation Sans" font-size="5.00" text-anchor="middle" fill="#222222" font-weight="normal"  stroke="#222222" stroke-width="0.18">650</text>
<path d="M337.3 369.6 V371.6" stroke="#585858" stroke-width="0.7"/>
<path d="M349.7 369.6 V371.6" stroke="#585858" stroke-width="0.7"/>
<text x="349.7" y="377.8" font-family="Liberation Sans" font-size="5.00" text-anchor="middle" fill="#222222" font-weight="normal"  stroke="#222222" stroke-width="0.18">700</text>
<text x="275.4" y="384.6" font-family="Liberation Sans" font-size="5.45" text-anchor="middle" fill="#222222" font-weight="normal"  stroke="#222222" stroke-width="0.18">Wavelength (nm)</text>
<text transform="translate(184.0 300.6) rotate(-90)" font-family="Liberation Sans" font-size="5.15" text-anchor="middle" fill="#222222" stroke="#222222" stroke-width="0.15">First derivative of K-M function</text>
<rect x="201.4" y="235.3" width="16.4" height="11.5" fill="#dfe2e2"/>
<text x="209.7" y="244.2" font-family="Liberation Serif" font-size="9.50" text-anchor="middle" fill="#111" font-weight="bold" >c</text>
<rect x="352.6" y="371.5" width="6" height="8" fill="#fff"/>
<path d="M404.8 299.6C405.2 299.6 406.4 299.6 407.2 299.6C408.1 299.6 408.9 299.6 409.7 299.6C410.5 299.6 411.4 299.6 412.2 299.6C413.0 299.6 413.8 299.6 414.6 299.6C415.5 299.6 416.3 299.6 417.1 299.7C417.9 299.7 418.8 299.8 419.6 299.9C420.4 300.0 421.2 300.1 422.1 300.2C422.9 300.4 423.7 300.5 424.6 300.7C425.4 300.9 426.2 301.2 427.0 301.5C427.8 301.8 428.7 302.1 429.5 302.7C430.3 303.2 431.2 303.8 432.0 304.8C432.8 305.7 433.6 306.9 434.4 308.4C435.3 309.9 436.1 311.7 436.9 313.8C437.8 315.9 438.6 318.3 439.4 320.8C440.2 323.3 441.1 326.0 441.9 328.7C442.7 331.4 443.5 334.4 444.4 337.1C445.2 339.8 446.0 342.5 446.8 344.9C447.6 347.2 448.5 349.4 449.3 351.0C450.1 352.7 450.9 354.0 451.8 354.8C452.6 355.6 453.4 356.0 454.2 355.8C455.1 355.7 455.9 355.0 456.7 353.7C457.6 352.4 458.4 350.6 459.2 348.2C460.0 345.8 460.9 342.7 461.7 339.2C462.5 335.6 463.3 331.4 464.1 326.9C465.0 322.4 465.8 317.1 466.6 312.0C467.4 306.8 468.3 301.1 469.1 296.1C469.9 291.1 470.8 286.4 471.6 281.9C472.4 277.5 473.2 273.0 474.1 269.4C474.9 265.7 475.7 262.4 476.5 259.9C477.3 257.4 478.2 255.6 479.0 254.5C479.8 253.5 480.7 253.2 481.5 253.4C482.3 253.7 483.1 254.7 483.9 256.0C484.8 257.3 485.6 259.2 486.4 261.1C487.2 263.0 488.1 265.3 488.9 267.5C489.7 269.6 490.6 271.9 491.4 274.0C492.2 276.1 493.0 278.2 493.9 280.1C494.7 282.0 495.5 283.7 496.3 285.3C497.1 286.8 498.0 288.2 498.8 289.5C499.6 290.7 500.4 291.8 501.3 292.7C502.1 293.6 503.3 294.6 503.8 295.0" fill="none" stroke="#b488f2" stroke-width="1.00" />
<path d="M404.8 299.6C405.2 299.6 406.4 299.6 407.2 299.6C408.1 299.6 408.9 299.6 409.7 299.6C410.5 299.6 411.4 299.6 412.2 299.6C413.0 299.6 413.8 299.6 414.6 299.6C415.5 299.6 416.3 299.6 417.1 299.7C417.9 299.7 418.8 299.8 419.6 299.9C420.4 300.0 421.2 300.1 422.1 300.2C422.9 300.3 423.7 300.5 424.6 300.6C425.4 300.8 426.2 301.0 427.0 301.3C427.8 301.6 428.7 301.9 429.5 302.4C430.3 302.9 431.2 303.5 432.0 304.3C432.8 305.2 433.6 306.2 434.4 307.6C435.3 309.0 436.1 310.7 436.9 312.6C437.8 314.5 438.6 316.7 439.4 319.0C440.2 321.2 441.1 323.7 441.9 326.2C442.7 328.7 443.5 331.4 444.4 333.8C445.2 336.3 446.0 338.8 446.8 340.9C447.6 343.0 448.5 345.0 449.3 346.6C450.1 348.1 450.9 349.3 451.8 350.0C452.6 350.8 453.4 351.1 454.2 351.0C455.1 350.8 455.9 350.2 456.7 349.0C457.6 347.8 458.4 346.2 459.2 344.0C460.0 341.8 460.9 339.0 461.7 335.8C462.5 332.5 463.3 328.7 464.1 324.6C465.0 320.4 465.8 315.6 466.6 310.9C467.4 306.3 468.3 301.0 469.1 296.4C469.9 291.9 470.8 287.6 471.6 283.5C472.4 279.5 473.2 275.4 474.1 272.1C474.9 268.7 475.7 265.7 476.5 263.5C477.3 261.2 478.2 259.6 479.0 258.6C479.8 257.6 480.7 257.4 481.5 257.6C482.3 257.9 483.1 258.8 483.9 260.0C484.8 261.1 485.6 262.9 486.4 264.6C487.2 266.4 488.1 268.4 488.9 270.4C489.7 272.4 490.6 274.4 491.4 276.4C492.2 278.3 493.0 280.2 493.9 281.9C494.7 283.6 495.5 285.2 496.3 286.6C497.1 288.0 498.0 289.3 498.8 290.4C499.6 291.5 500.4 292.5 501.3 293.3C502.1 294.1 503.3 295.1 503.8 295.4" fill="none" stroke="#e4c4fa" stroke-width="1.00" />
<path d="M404.8 299.6C405.2 299.6 406.4 299.6 407.2 299.6C408.1 299.6 408.9 299.6 409.7 299.6C410.5 299.6 411.4 299.6 412.2 299.6C413.0 299.6 413.8 299.6 414.6 299.6C415.5 299.6 416.3 299.6 417.1 299.7C417.9 299.7 418.8 299.8 419.6 299.9C420.4 299.9 421.2 300.0 422.1 300.2C422.9 300.3 423.7 300.4 424.6 300.6C425.4 300.8 426.2 301.0 427.0 301.2C427.8 301.5 428.7 301.8 429.5 302.3C430.3 302.8 431.2 303.3 432.0 304.1C432.8 305.0 433.6 305.9 434.4 307.3C435.3 308.6 436.1 310.2 436.9 312.0C437.8 313.8 438.6 316.0 439.4 318.1C440.2 320.3 441.1 322.7 441.9 325.0C442.7 327.4 443.5 330.0 444.4 332.4C445.2 334.7 446.0 337.1 446.8 339.2C447.6 341.2 448.5 343.1 449.3 344.5C450.1 346.0 450.9 347.2 451.8 347.9C452.6 348.6 453.4 348.9 454.2 348.8C455.1 348.6 455.9 348.0 456.7 346.9C457.6 345.8 458.4 344.2 459.2 342.1C460.0 339.9 460.9 337.3 461.7 334.2C462.5 331.1 463.3 327.4 464.1 323.5C465.0 319.5 465.8 314.9 466.6 310.5C467.4 306.0 468.3 301.0 469.1 296.6C469.9 292.2 470.8 288.1 471.6 284.2C472.4 280.4 473.2 276.5 474.1 273.3C474.9 270.1 475.7 267.2 476.5 265.1C477.3 262.9 478.2 261.4 479.0 260.4C479.8 259.5 480.7 259.3 481.5 259.5C482.3 259.7 483.1 260.6 483.9 261.8C484.8 262.9 485.6 264.5 486.4 266.2C487.2 267.9 488.1 269.8 488.9 271.7C489.7 273.6 490.6 275.6 491.4 277.4C492.2 279.2 493.0 281.1 493.9 282.7C494.7 284.3 495.5 285.8 496.3 287.2C497.1 288.6 498.0 289.8 498.8 290.8C499.6 291.9 500.4 292.8 501.3 293.6C502.1 294.4 503.3 295.3 503.8 295.6" fill="none" stroke="#e4b8f4" stroke-width="1.00" />
<path d="M404.8 299.6C405.2 299.6 406.4 299.6 407.2 299.6C408.1 299.6 408.9 299.6 409.7 299.6C410.5 299.6 411.4 299.6 412.2 299.6C413.0 299.6 413.8 299.6 414.6 299.6C415.5 299.6 416.3 299.6 417.1 299.7C417.9 299.7 418.8 299.8 419.6 299.8C420.4 299.9 421.2 300.0 422.1 300.1C422.9 300.2 423.7 300.4 424.6 300.5C425.4 300.7 426.2 300.9 427.0 301.1C427.8 301.4 428.7 301.7 429.5 302.1C430.3 302.6 431.2 303.1 432.0 303.8C432.8 304.6 433.6 305.5 434.4 306.7C435.3 308.0 436.1 309.5 436.9 311.2C437.8 312.9 438.6 314.9 439.4 316.9C440.2 318.9 441.1 321.1 441.9 323.4C442.7 325.6 443.5 328.0 444.4 330.2C445.2 332.4 446.0 334.6 446.8 336.5C447.6 338.4 448.5 340.2 449.3 341.6C450.1 342.9 450.9 344.0 451.8 344.7C452.6 345.3 453.4 345.7 454.2 345.5C455.1 345.4 455.9 344.8 456.7 343.8C457.6 342.7 458.4 341.2 459.2 339.3C460.0 337.3 460.9 334.8 461.7 331.9C462.5 329.0 463.3 325.6 464.1 321.9C465.0 318.2 465.8 313.9 466.6 309.8C467.4 305.6 468.3 300.9 469.1 296.8C469.9 292.7 470.8 288.9 471.6 285.3C472.4 281.7 473.2 278.1 474.1 275.1C474.9 272.1 475.7 269.5 476.5 267.5C477.3 265.5 478.2 264.0 479.0 263.1C479.8 262.3 480.7 262.1 481.5 262.3C482.3 262.5 483.1 263.3 483.9 264.4C484.8 265.4 485.6 267.0 486.4 268.5C487.2 270.1 488.1 271.9 488.9 273.7C489.7 275.4 490.6 277.3 491.4 279.0C492.2 280.7 493.0 282.4 493.9 283.9C494.7 285.4 495.5 286.8 496.3 288.1C497.1 289.3 498.0 290.4 498.8 291.4C499.6 292.4 500.4 293.3 501.3 294.0C502.1 294.7 503.3 295.5 503.8 295.9" fill="none" stroke="#f8d8f8" stroke-width="1.00" />
<path d="M404.8 299.6C405.2 299.6 406.4 299.6 407.2 299.6C408.1 299.6 408.9 299.6 409.7 299.6C410.5 299.6 411.4 299.6 412.2 299.6C413.0 299.6 413.8 299.6 414.6 299.6C415.5 299.6 416.3 299.6 417.1 299.7C417.9 299.7 418.8 299.7 419.6 299.8C420.4 299.9 421.2 300.0 422.1 300.1C422.9 300.2 423.7 300.3 424.6 300.4C425.4 300.6 426.2 300.7 427.0 300.9C427.8 301.2 428.7 301.4 429.5 301.8C430.3 302.2 431.2 302.6 432.0 303.3C432.8 304.0 433.6 304.8 434.4 305.9C435.3 307.0 436.1 308.4 436.9 309.9C437.8 311.4 438.6 313.1 439.4 314.9C440.2 316.7 441.1 318.7 441.9 320.6C442.7 322.6 443.5 324.7 444.4 326.7C445.2 328.6 446.0 330.6 446.8 332.3C447.6 333.9 448.5 335.5 449.3 336.7C450.1 337.9 450.9 338.9 451.8 339.5C452.6 340.1 453.4 340.3 454.2 340.2C455.1 340.1 455.9 339.6 456.7 338.7C457.6 337.7 458.4 336.4 459.2 334.7C460.0 332.9 460.9 330.7 461.7 328.2C462.5 325.6 463.3 322.6 464.1 319.3C465.0 316.1 465.8 312.3 466.6 308.6C467.4 304.9 468.3 300.8 469.1 297.2C469.9 293.6 470.8 290.2 471.6 287.0C472.4 283.8 473.2 280.6 474.1 278.0C474.9 275.4 475.7 273.0 476.5 271.3C477.3 269.5 478.2 268.2 479.0 267.5C479.8 266.7 480.7 266.5 481.5 266.7C482.3 266.9 483.1 267.7 483.9 268.6C484.8 269.5 485.6 270.9 486.4 272.2C487.2 273.6 488.1 275.3 488.9 276.8C489.7 278.3 490.6 280.0 491.4 281.5C492.2 283.0 493.0 284.4 493.9 285.8C494.7 287.1 495.5 288.4 496.3 289.5C497.1 290.6 498.0 291.6 498.8 292.4C499.6 293.3 500.4 294.0 501.3 294.7C502.1 295.3 503.3 296.0 503.8 296.3" fill="none" stroke="#e050f0" stroke-width="1.00" />
<path d="M404.8 299.6C405.2 299.6 406.4 299.6 407.2 299.6C408.1 299.6 408.9 299.6 409.7 299.6C410.5 299.6 411.4 299.6 412.2 299.6C413.0 299.6 413.8 299.6 414.6 299.6C415.5 299.6 416.3 299.6 417.1 299.7C417.9 299.7 418.8 299.7 419.6 299.8C420.4 299.9 421.2 299.9 422.1 300.0C422.9 300.1 423.7 300.2 424.6 300.4C425.4 300.5 426.2 300.6 427.0 300.9C427.8 301.1 428.7 301.3 429.5 301.7C430.3 302.0 431.2 302.4 432.0 303.1C432.8 303.7 433.6 304.5 434.4 305.5C435.3 306.5 436.1 307.8 436.9 309.2C437.8 310.6 438.6 312.2 439.4 313.9C440.2 315.5 441.1 317.4 441.9 319.2C442.7 321.0 443.5 323.0 444.4 324.8C445.2 326.6 446.0 328.5 446.8 330.0C447.6 331.6 448.5 333.1 449.3 334.2C450.1 335.3 450.9 336.2 451.8 336.8C452.6 337.3 453.4 337.6 454.2 337.4C455.1 337.3 455.9 336.8 456.7 336.0C457.6 335.1 458.4 333.9 459.2 332.3C460.0 330.7 460.9 328.6 461.7 326.2C462.5 323.9 463.3 321.0 464.1 318.0C465.0 315.0 465.8 311.4 466.6 308.0C467.4 304.6 468.3 300.7 469.1 297.4C469.9 294.0 470.8 290.9 471.6 287.9C472.4 284.9 473.2 282.0 474.1 279.5C474.9 277.1 475.7 274.9 476.5 273.3C477.3 271.6 478.2 270.4 479.0 269.7C479.8 269.0 480.7 268.9 481.5 269.0C482.3 269.2 483.1 269.9 483.9 270.8C484.8 271.6 485.6 272.9 486.4 274.2C487.2 275.5 488.1 277.0 488.9 278.4C489.7 279.8 490.6 281.4 491.4 282.8C492.2 284.2 493.0 285.5 493.9 286.8C494.7 288.0 495.5 289.2 496.3 290.2C497.1 291.2 498.0 292.1 498.8 292.9C499.6 293.7 500.4 294.4 501.3 295.0C502.1 295.6 503.3 296.3 503.8 296.5" fill="none" stroke="#e868f0" stroke-width="1.00" />
<path d="M404.8 299.6C405.2 299.6 406.4 299.6 407.2 299.6C408.1 299.6 408.9 299.6 409.7 299.6C410.5 299.6 411.4 299.6 412.2 299.6C413.0 299.6 413.8 299.6 414.6 299.6C415.5 299.6 416.3 299.6 417.1 299.6C417.9 299.7 418.8 299.7 419.6 299.8C420.4 299.8 421.2 299.9 422.1 300.0C422.9 300.1 423.7 300.2 424.6 300.3C425.4 300.5 426.2 300.6 427.0 300.8C427.8 301.0 428.7 301.2 429.5 301.6C430.3 301.9 431.2 302.3 432.0 302.9C432.8 303.5 433.6 304.2 434.4 305.2C435.3 306.1 436.1 307.3 436.9 308.7C437.8 310.0 438.6 311.5 439.4 313.1C440.2 314.7 441.1 316.4 441.9 318.2C442.7 319.9 443.5 321.8 444.4 323.5C445.2 325.2 446.0 327.0 446.8 328.4C447.6 329.9 448.5 331.3 449.3 332.4C450.1 333.4 450.9 334.3 451.8 334.8C452.6 335.3 453.4 335.6 454.2 335.5C455.1 335.3 455.9 334.9 456.7 334.1C457.6 333.3 458.4 332.1 459.2 330.6C460.0 329.0 460.9 327.1 461.7 324.8C462.5 322.6 463.3 319.9 464.1 317.0C465.0 314.2 465.8 310.8 466.6 307.6C467.4 304.3 468.3 300.7 469.1 297.5C469.9 294.3 470.8 291.3 471.6 288.5C472.4 285.7 473.2 282.9 474.1 280.6C474.9 278.3 475.7 276.2 476.5 274.7C477.3 273.1 478.2 272.0 479.0 271.3C479.8 270.7 480.7 270.5 481.5 270.7C482.3 270.9 483.1 271.5 483.9 272.3C484.8 273.2 485.6 274.4 486.4 275.6C487.2 276.8 488.1 278.2 488.9 279.6C489.7 280.9 490.6 282.4 491.4 283.7C492.2 285.0 493.0 286.3 493.9 287.5C494.7 288.6 495.5 289.7 496.3 290.7C497.1 291.7 498.0 292.5 498.8 293.3C499.6 294.1 500.4 294.7 501.3 295.3C502.1 295.8 503.3 296.4 503.8 296.7" fill="none" stroke="#f078e4" stroke-width="1.00" />
<path d="M404.8 299.6C405.2 299.6 406.4 299.6 407.2 299.6C408.1 299.6 408.9 299.6 409.7 299.6C410.5 299.6 411.4 299.6 412.2 299.6C413.0 299.6 413.8 299.6 414.6 299.6C415.5 299.6 416.3 299.6 417.1 299.6C417.9 299.7 418.8 299.7 419.6 299.7C420.4 299.8 421.2 299.8 422.1 299.9C422.9 300.0 423.7 300.1 424.6 300.2C425.4 300.3 426.2 300.4 427.0 300.5C427.8 300.7 428.7 300.9 429.5 301.1C430.3 301.4 431.2 301.7 432.0 302.2C432.8 302.7 433.6 303.2 434.4 304.0C435.3 304.7 436.1 305.7 436.9 306.7C437.8 307.8 438.6 309.0 439.4 310.2C440.2 311.5 441.1 312.8 441.9 314.2C442.7 315.6 443.5 317.0 444.4 318.4C445.2 319.7 446.0 321.1 446.8 322.3C447.6 323.5 448.5 324.5 449.3 325.4C450.1 326.2 450.9 326.9 451.8 327.3C452.6 327.7 453.4 327.9 454.2 327.8C455.1 327.7 455.9 327.4 456.7 326.7C457.6 326.1 458.4 325.2 459.2 324.0C460.0 322.8 460.9 321.2 461.7 319.5C462.5 317.7 463.3 315.6 464.1 313.3C465.0 311.1 465.8 308.5 466.6 305.9C467.4 303.3 468.3 300.5 469.1 298.0C469.9 295.5 470.8 293.2 471.6 290.9C472.4 288.7 473.2 286.6 474.1 284.8C474.9 282.9 475.7 281.3 476.5 280.1C477.3 278.9 478.2 278.0 479.0 277.5C479.8 277.0 480.7 276.9 481.5 277.0C482.3 277.1 483.1 277.7 483.9 278.3C484.8 278.9 485.6 279.9 486.4 280.8C487.2 281.8 488.1 282.9 488.9 284.0C489.7 285.0 490.6 286.2 491.4 287.2C492.2 288.2 493.0 289.2 493.9 290.1C494.7 291.1 495.5 291.9 496.3 292.7C497.1 293.4 498.0 294.1 498.8 294.7C499.6 295.3 500.4 295.8 501.3 296.2C502.1 296.6 503.3 297.1 503.8 297.3" fill="none" stroke="#ff98dc" stroke-width="1.00" />
<path d="M404.8 299.6C405.2 299.6 406.4 299.6 407.2 299.6C408.1 299.6 408.9 299.6 409.7 299.6C410.5 299.6 411.4 299.6 412.2 299.6C413.0 299.6 413.8 299.6 414.6 299.6C415.5 299.6 416.3 299.6 417.1 299.6C417.9 299.6 418.8 299.7 419.6 299.7C420.4 299.7 421.2 299.8 422.1 299.8C422.9 299.9 423.7 300.0 424.6 300.0C425.4 300.1 426.2 300.2 427.0 300.3C427.8 300.5 428.7 300.6 429.5 300.8C430.3 301.0 431.2 301.3 432.0 301.6C432.8 302.0 433.6 302.5 434.4 303.1C435.3 303.7 436.1 304.4 436.9 305.2C437.8 306.1 438.6 307.0 439.4 308.0C440.2 309.0 441.1 310.1 441.9 311.2C442.7 312.3 443.5 313.5 444.4 314.5C445.2 315.6 446.0 316.7 446.8 317.6C447.6 318.5 448.5 319.4 449.3 320.1C450.1 320.7 450.9 321.3 451.8 321.6C452.6 321.9 453.4 322.1 454.2 322.0C455.1 321.9 455.9 321.7 456.7 321.2C457.6 320.6 458.4 319.9 459.2 319.0C460.0 318.0 460.9 316.8 461.7 315.4C462.5 314.0 463.3 312.3 464.1 310.5C465.0 308.7 465.8 306.6 466.6 304.6C467.4 302.6 468.3 300.3 469.1 298.3C469.9 296.3 470.8 294.5 471.6 292.7C472.4 291.0 473.2 289.2 474.1 287.8C474.9 286.4 475.7 285.1 476.5 284.1C477.3 283.2 478.2 282.5 479.0 282.1C479.8 281.7 480.7 281.6 481.5 281.7C482.3 281.8 483.1 282.2 483.9 282.7C484.8 283.2 485.6 284.0 486.4 284.7C487.2 285.5 488.1 286.4 488.9 287.2C489.7 288.0 490.6 288.9 491.4 289.8C492.2 290.6 493.0 291.4 493.9 292.1C494.7 292.8 495.5 293.5 496.3 294.1C497.1 294.7 498.0 295.2 498.8 295.7C499.6 296.2 500.4 296.6 501.3 296.9C502.1 297.3 503.3 297.6 503.8 297.8" fill="none" stroke="#ffd8e0" stroke-width="1.00" />
<path d="M404.8 299.6C405.2 299.6 406.4 299.6 407.2 299.6C408.1 299.6 408.9 299.6 409.7 299.6C410.5 299.6 411.4 299.6 412.2 299.6C413.0 299.6 413.8 299.6 414.6 299.6C415.5 299.6 416.3 299.6 417.1 299.6C417.9 299.6 418.8 299.7 419.6 299.7C420.4 299.7 421.2 299.8 422.1 299.8C422.9 299.9 423.7 299.9 424.6 300.0C425.4 300.1 426.2 300.2 427.0 300.3C427.8 300.4 428.7 300.5 429.5 300.7C430.3 301.0 431.2 301.2 432.0 301.5C432.8 301.9 433.6 302.3 434.4 302.9C435.3 303.5 436.1 304.2 436.9 305.0C437.8 305.7 438.6 306.7 439.4 307.6C440.2 308.5 441.1 309.6 441.9 310.6C442.7 311.6 443.5 312.7 444.4 313.8C445.2 314.8 446.0 315.8 446.8 316.7C447.6 317.6 448.5 318.4 449.3 319.0C450.1 319.7 450.9 320.2 451.8 320.5C452.6 320.8 453.4 320.9 454.2 320.9C455.1 320.8 455.9 320.5 456.7 320.1C457.6 319.6 458.4 318.9 459.2 318.0C460.0 317.1 460.9 315.9 461.7 314.6C462.5 313.2 463.3 311.7 464.1 310.0C465.0 308.3 465.8 306.3 466.6 304.3C467.4 302.4 468.3 300.3 469.1 298.4C469.9 296.5 470.8 294.7 471.6 293.1C472.4 291.4 473.2 289.8 474.1 288.4C474.9 287.1 475.7 285.8 476.5 284.9C477.3 284.0 478.2 283.3 479.0 283.0C479.8 282.6 480.7 282.5 481.5 282.6C482.3 282.7 483.1 283.1 483.9 283.6C484.8 284.0 485.6 284.8 486.4 285.5C487.2 286.2 488.1 287.0 488.9 287.8C489.7 288.6 490.6 289.5 491.4 290.3C492.2 291.0 493.0 291.8 493.9 292.5C494.7 293.2 495.5 293.8 496.3 294.4C497.1 295.0 498.0 295.5 498.8 295.9C499.6 296.3 500.4 296.7 501.3 297.0C502.1 297.4 503.3 297.7 503.8 297.9" fill="none" stroke="#f0a458" stroke-width="1.00" />
<path d="M404.8 299.6C405.2 299.6 406.4 299.6 407.2 299.6C408.1 299.6 408.9 299.6 409.7 299.6C410.5 299.6 411.4 299.6 412.2 299.6C413.0 299.6 413.8 299.6 414.6 299.6C415.5 299.6 416.3 299.6 417.1 299.6C417.9 299.6 418.8 299.7 419.6 299.7C420.4 299.7 421.2 299.8 422.1 299.8C422.9 299.9 423.7 299.9 424.6 300.0C425.4 300.1 426.2 300.2 427.0 300.3C427.8 300.4 428.7 300.5 429.5 300.7C430.3 300.9 431.2 301.1 432.0 301.5C432.8 301.8 433.6 302.2 434.4 302.8C435.3 303.3 436.1 304.0 436.9 304.8C437.8 305.5 438.6 306.4 439.4 307.3C440.2 308.3 441.1 309.3 441.9 310.2C442.7 311.2 443.5 312.3 444.4 313.3C445.2 314.3 446.0 315.3 446.8 316.2C447.6 317.0 448.5 317.8 449.3 318.4C450.1 319.0 450.9 319.5 451.8 319.8C452.6 320.1 453.4 320.3 454.2 320.2C455.1 320.1 455.9 319.9 456.7 319.4C457.6 318.9 458.4 318.3 459.2 317.4C460.0 316.5 460.9 315.4 461.7 314.1C462.5 312.8 463.3 311.3 464.1 309.6C465.0 308.0 465.8 306.1 466.6 304.2C467.4 302.3 468.3 300.2 469.1 298.4C469.9 296.6 470.8 294.9 471.6 293.3C472.4 291.7 473.2 290.1 474.1 288.8C474.9 287.5 475.7 286.3 476.5 285.4C477.3 284.5 478.2 283.9 479.0 283.5C479.8 283.1 480.7 283.0 481.5 283.1C482.3 283.2 483.1 283.6 483.9 284.1C484.8 284.5 485.6 285.2 486.4 285.9C487.2 286.6 488.1 287.4 488.9 288.2C489.7 289.0 490.6 289.8 491.4 290.6C492.2 291.3 493.0 292.0 493.9 292.7C494.7 293.4 495.5 294.0 496.3 294.6C497.1 295.1 498.0 295.6 498.8 296.0C499.6 296.4 500.4 296.8 501.3 297.1C502.1 297.4 503.3 297.8 503.8 297.9" fill="none" stroke="#f0d048" stroke-width="1.00" />
<path d="M404.8 299.6C405.2 299.6 406.4 299.6 407.2 299.6C408.1 299.6 408.9 299.6 409.7 299.6C410.5 299.6 411.4 299.6 412.2 299.6C413.0 299.6 413.8 299.6 414.6 299.6C415.5 299.6 416.3 299.6 417.1 299.6C417.9 299.6 418.8 299.7 419.6 299.7C420.4 299.7 421.2 299.8 422.1 299.8C422.9 299.8 423.7 299.9 424.6 299.9C425.4 300.0 426.2 300.1 427.0 300.2C427.8 300.3 428.7 300.4 429.5 300.5C430.3 300.7 431.2 300.9 432.0 301.2C432.8 301.5 433.6 301.9 434.4 302.3C435.3 302.8 436.1 303.4 436.9 304.0C437.8 304.7 438.6 305.5 439.4 306.2C440.2 307.0 441.1 307.9 441.9 308.7C442.7 309.6 443.5 310.5 444.4 311.4C445.2 312.2 446.0 313.1 446.8 313.8C447.6 314.5 448.5 315.2 449.3 315.7C450.1 316.3 450.9 316.7 451.8 316.9C452.6 317.2 453.4 317.3 454.2 317.3C455.1 317.2 455.9 317.0 456.7 316.6C457.6 316.2 458.4 315.6 459.2 314.9C460.0 314.1 460.9 313.2 461.7 312.0C462.5 310.9 463.3 309.6 464.1 308.2C465.0 306.8 465.8 305.1 466.6 303.5C467.4 301.9 468.3 300.1 469.1 298.6C469.9 297.0 470.8 295.6 471.6 294.2C472.4 292.8 473.2 291.4 474.1 290.3C474.9 289.2 475.7 288.2 476.5 287.4C477.3 286.6 478.2 286.1 479.0 285.8C479.8 285.4 480.7 285.4 481.5 285.5C482.3 285.5 483.1 285.9 483.9 286.3C484.8 286.7 485.6 287.3 486.4 287.9C487.2 288.4 488.1 289.2 488.9 289.8C489.7 290.5 490.6 291.2 491.4 291.8C492.2 292.5 493.0 293.1 493.9 293.7C494.7 294.3 495.5 294.8 496.3 295.3C497.1 295.7 498.0 296.2 498.8 296.5C499.6 296.9 500.4 297.2 501.3 297.5C502.1 297.7 503.3 298.0 503.8 298.1" fill="none" stroke="#f0f038" stroke-width="1.00" />
<path d="M404.8 299.6C405.2 299.6 406.4 299.6 407.2 299.6C408.1 299.6 408.9 299.6 409.7 299.6C410.5 299.6 411.4 299.6 412.2 299.6C413.0 299.6 413.8 299.6 414.6 299.6C415.5 299.6 416.3 299.6 417.1 299.6C417.9 299.6 418.8 299.6 419.6 299.7C420.4 299.7 421.2 299.7 422.1 299.7C422.9 299.8 423.7 299.8 424.6 299.9C425.4 299.9 426.2 300.0 427.0 300.0C427.8 300.1 428.7 300.2 429.5 300.3C430.3 300.5 431.2 300.6 432.0 300.8C432.8 301.1 433.6 301.3 434.4 301.7C435.3 302.1 436.1 302.5 436.9 303.0C437.8 303.5 438.6 304.1 439.4 304.7C440.2 305.3 441.1 305.9 441.9 306.6C442.7 307.3 443.5 308.0 444.4 308.6C445.2 309.3 446.0 309.9 446.8 310.5C447.6 311.1 448.5 311.6 449.3 312.0C450.1 312.4 450.9 312.7 451.8 312.9C452.6 313.1 453.4 313.2 454.2 313.1C455.1 313.1 455.9 312.9 456.7 312.6C457.6 312.3 458.4 311.9 459.2 311.3C460.0 310.7 460.9 310.0 461.7 309.1C462.5 308.3 463.3 307.3 464.1 306.2C465.0 305.1 465.8 303.9 466.6 302.6C467.4 301.4 468.3 300.0 469.1 298.8C469.9 297.6 470.8 296.5 471.6 295.4C472.4 294.4 473.2 293.3 474.1 292.5C474.9 291.6 475.7 290.8 476.5 290.2C477.3 289.7 478.2 289.2 479.0 289.0C479.8 288.7 480.7 288.7 481.5 288.7C482.3 288.8 483.1 289.1 483.9 289.4C484.8 289.7 485.6 290.1 486.4 290.6C487.2 291.0 488.1 291.6 488.9 292.1C489.7 292.6 490.6 293.1 491.4 293.6C492.2 294.1 493.0 294.6 493.9 295.1C494.7 295.5 495.5 295.9 496.3 296.3C497.1 296.6 498.0 297.0 498.8 297.2C499.6 297.5 500.4 297.8 501.3 298.0C502.1 298.2 503.3 298.4 503.8 298.5" fill="none" stroke="#d4f040" stroke-width="1.00" />
<path d="M404.8 299.6C405.2 299.6 406.4 299.6 407.2 299.6C408.1 299.6 408.9 299.6 409.7 299.6C410.5 299.6 411.4 299.6 412.2 299.6C413.0 299.6 413.8 299.6 414.6 299.6C415.5 299.6 416.3 299.6 417.1 299.6C417.9 299.6 418.8 299.6 419.6 299.6C420.4 299.7 421.2 299.7 422.1 299.7C422.9 299.7 423.7 299.7 424.6 299.8C425.4 299.8 426.2 299.9 427.0 299.9C427.8 300.0 428.7 300.0 429.5 300.1C430.3 300.2 431.2 300.3 432.0 300.5C432.8 300.6 433.6 300.8 434.4 301.1C435.3 301.4 436.1 301.7 436.9 302.0C437.8 302.4 438.6 302.8 439.4 303.2C440.2 303.7 441.1 304.1 441.9 304.6C442.7 305.1 443.5 305.6 444.4 306.1C445.2 306.5 446.0 307.0 446.8 307.4C447.6 307.8 448.5 308.2 449.3 308.5C450.1 308.8 450.9 309.0 451.8 309.1C452.6 309.3 453.4 309.3 454.2 309.3C455.1 309.3 455.9 309.2 456.7 308.9C457.6 308.7 458.4 308.4 459.2 308.0C460.0 307.6 460.9 307.1 461.7 306.4C462.5 305.8 463.3 305.1 464.1 304.3C465.0 303.6 465.8 302.6 466.6 301.8C467.4 300.9 468.3 299.9 469.1 299.0C469.9 298.2 470.8 297.4 471.6 296.6C472.4 295.9 473.2 295.1 474.1 294.5C474.9 293.9 475.7 293.3 476.5 292.9C477.3 292.5 478.2 292.2 479.0 292.0C479.8 291.8 480.7 291.8 481.5 291.8C482.3 291.9 483.1 292.0 483.9 292.3C484.8 292.5 485.6 292.8 486.4 293.1C487.2 293.5 488.1 293.9 488.9 294.2C489.7 294.6 490.6 295.0 491.4 295.3C492.2 295.7 493.0 296.0 493.9 296.3C494.7 296.7 495.5 297.0 496.3 297.2C497.1 297.5 498.0 297.7 498.8 297.9C499.6 298.1 500.4 298.3 501.3 298.4C502.1 298.6 503.3 298.7 503.8 298.8" fill="none" stroke="#b0f040" stroke-width="1.00" />
<path d="M404.8 299.6C405.2 299.6 406.4 299.6 407.2 299.6C408.1 299.6 408.9 299.6 409.7 299.6C410.5 299.6 411.4 299.6 412.2 299.6C413.0 299.6 413.8 299.6 414.6 299.6C415.5 299.6 416.3 299.6 417.1 299.6C417.9 299.6 418.8 299.6 419.6 299.6C420.4 299.6 421.2 299.7 422.1 299.7C422.9 299.7 423.7 299.7 424.6 299.7C425.4 299.8 426.2 299.8 427.0 299.8C427.8 299.9 428.7 299.9 429.5 300.0C430.3 300.0 431.2 300.1 432.0 300.2C432.8 300.3 433.6 300.5 434.4 300.7C435.3 300.8 436.1 301.1 436.9 301.3C437.8 301.6 438.6 301.9 439.4 302.2C440.2 302.5 441.1 302.9 441.9 303.2C442.7 303.5 443.5 303.9 444.4 304.2C445.2 304.6 446.0 304.9 446.8 305.2C447.6 305.5 448.5 305.8 449.3 306.0C450.1 306.2 450.9 306.3 451.8 306.4C452.6 306.5 453.4 306.6 454.2 306.6C455.1 306.5 455.9 306.5 456.7 306.3C457.6 306.1 458.4 305.9 459.2 305.6C460.0 305.3 460.9 304.9 461.7 304.5C462.5 304.1 463.3 303.5 464.1 303.0C465.0 302.4 465.8 301.8 466.6 301.2C467.4 300.5 468.3 299.8 469.1 299.2C469.9 298.6 470.8 298.0 471.6 297.5C472.4 296.9 473.2 296.4 474.1 295.9C474.9 295.5 475.7 295.1 476.5 294.8C477.3 294.5 478.2 294.3 479.0 294.1C479.8 294.0 480.7 294.0 481.5 294.0C482.3 294.1 483.1 294.2 483.9 294.3C484.8 294.5 485.6 294.7 486.4 295.0C487.2 295.2 488.1 295.5 488.9 295.7C489.7 296.0 490.6 296.3 491.4 296.5C492.2 296.8 493.0 297.0 493.9 297.3C494.7 297.5 495.5 297.7 496.3 297.9C497.1 298.1 498.0 298.2 498.8 298.4C499.6 298.5 500.4 298.7 501.3 298.8C502.1 298.9 503.3 299.0 503.8 299.0" fill="none" stroke="#a8ec60" stroke-width="1.00" />
<path d="M404.8 299.6C405.2 299.6 406.4 299.6 407.2 299.6C408.1 299.6 408.9 299.6 409.7 299.6C410.5 299.6 411.4 299.6 412.2 299.6C413.0 299.6 413.8 299.6 414.6 299.6C415.5 299.6 416.3 299.6 417.1 299.6C417.9 299.6 418.8 299.6 419.6 299.6C420.4 299.6 421.2 299.6 422.1 299.6C422.9 299.7 423.7 299.7 424.6 299.7C425.4 299.7 426.2 299.7 427.0 299.7C427.8 299.8 428.7 299.8 429.5 299.8C430.3 299.9 431.2 299.9 432.0 300.0C432.8 300.1 433.6 300.2 434.4 300.3C435.3 300.4 436.1 300.6 436.9 300.7C437.8 300.9 438.6 301.1 439.4 301.3C440.2 301.5 441.1 301.7 441.9 302.0C442.7 302.2 443.5 302.4 444.4 302.6C445.2 302.9 446.0 303.1 446.8 303.3C447.6 303.5 448.5 303.7 449.3 303.8C450.1 303.9 450.9 304.0 451.8 304.1C452.6 304.2 453.4 304.2 454.2 304.2C455.1 304.2 455.9 304.1 456.7 304.0C457.6 303.9 458.4 303.8 459.2 303.6C460.0 303.4 460.9 303.1 461.7 302.8C462.5 302.5 463.3 302.2 464.1 301.8C465.0 301.5 465.8 301.0 466.6 300.6C467.4 300.2 468.3 299.7 469.1 299.3C469.9 298.9 470.8 298.5 471.6 298.2C472.4 297.8 473.2 297.5 474.1 297.2C474.9 296.9 475.7 296.6 476.5 296.4C477.3 296.2 478.2 296.1 479.0 296.0C479.8 295.9 480.7 295.9 481.5 295.9C482.3 295.9 483.1 296.0 483.9 296.1C484.8 296.2 485.6 296.4 486.4 296.5C487.2 296.7 488.1 296.9 488.9 297.0C489.7 297.2 490.6 297.4 491.4 297.6C492.2 297.7 493.0 297.9 493.9 298.1C494.7 298.2 495.5 298.3 496.3 298.5C497.1 298.6 498.0 298.7 498.8 298.8C499.6 298.9 500.4 299.0 501.3 299.0C502.1 299.1 503.3 299.2 503.8 299.2" fill="none" stroke="#88e848" stroke-width="1.00" />
<path d="M404.8 299.6C405.2 299.6 406.4 299.6 407.2 299.6C408.1 299.6 408.9 299.6 409.7 299.6C410.5 299.6 411.4 299.6 412.2 299.6C413.0 299.6 413.8 299.6 414.6 299.6C415.5 299.6 416.3 299.6 417.1 299.6C417.9 299.6 418.8 299.6 419.6 299.6C420.4 299.6 421.2 299.6 422.1 299.6C422.9 299.6 423.7 299.6 424.6 299.7C425.4 299.7 426.2 299.7 427.0 299.7C427.8 299.7 428.7 299.7 429.5 299.8C430.3 299.8 431.2 299.9 432.0 299.9C432.8 300.0 433.6 300.1 434.4 300.2C435.3 300.3 436.1 300.4 436.9 300.6C437.8 300.7 438.6 300.9 439.4 301.0C440.2 301.2 441.1 301.4 441.9 301.6C442.7 301.8 443.5 302.0 444.4 302.2C445.2 302.3 446.0 302.5 446.8 302.7C447.6 302.9 448.5 303.0 449.3 303.1C450.1 303.2 450.9 303.3 451.8 303.4C452.6 303.4 453.4 303.5 454.2 303.5C455.1 303.4 455.9 303.4 456.7 303.3C457.6 303.2 458.4 303.1 459.2 302.9C460.0 302.8 460.9 302.6 461.7 302.3C462.5 302.1 463.3 301.8 464.1 301.5C465.0 301.2 465.8 300.8 466.6 300.5C467.4 300.1 468.3 299.7 469.1 299.4C469.9 299.0 470.8 298.7 471.6 298.4C472.4 298.1 473.2 297.8 474.1 297.6C474.9 297.3 475.7 297.1 476.5 296.9C477.3 296.8 478.2 296.6 479.0 296.6C479.8 296.5 480.7 296.5 481.5 296.5C482.3 296.5 483.1 296.6 483.9 296.7C484.8 296.8 485.6 296.9 486.4 297.0C487.2 297.1 488.1 297.3 488.9 297.4C489.7 297.6 490.6 297.8 491.4 297.9C492.2 298.0 493.0 298.2 493.9 298.3C494.7 298.4 495.5 298.5 496.3 298.6C497.1 298.8 498.0 298.8 498.8 298.9C499.6 299.0 500.4 299.1 501.3 299.1C502.1 299.2 503.3 299.3 503.8 299.3" fill="none" stroke="#90ec70" stroke-width="1.00" />
<path d="M404.8 299.6C405.2 299.6 406.4 299.6 407.2 299.6C408.1 299.6 408.9 299.6 409.7 299.6C410.5 299.6 411.4 299.6 412.2 299.6C413.0 299.6 413.8 299.6 414.6 299.6C415.5 299.6 416.3 299.6 417.1 299.6C417.9 299.6 418.8 299.6 419.6 299.6C420.4 299.6 421.2 299.6 422.1 299.6C422.9 299.6 423.7 299.6 424.6 299.6C425.4 299.7 426.2 299.7 427.0 299.7C427.8 299.7 428.7 299.7 429.5 299.7C430.3 299.8 431.2 299.8 432.0 299.8C432.8 299.9 433.6 299.9 434.4 300.0C435.3 300.1 436.1 300.2 436.9 300.3C437.8 300.4 438.6 300.5 439.4 300.7C440.2 300.8 441.1 300.9 441.9 301.1C442.7 301.2 443.5 301.4 444.4 301.5C445.2 301.6 446.0 301.8 446.8 301.9C447.6 302.0 448.5 302.1 449.3 302.2C450.1 302.3 450.9 302.4 451.8 302.4C452.6 302.5 453.4 302.5 454.2 302.5C455.1 302.5 455.9 302.4 456.7 302.4C457.6 302.3 458.4 302.2 459.2 302.1C460.0 302.0 460.9 301.8 461.7 301.6C462.5 301.4 463.3 301.2 464.1 301.0C465.0 300.8 465.8 300.5 466.6 300.2C467.4 300.0 468.3 299.7 469.1 299.4C469.9 299.2 470.8 298.9 471.6 298.7C472.4 298.5 473.2 298.3 474.1 298.1C474.9 297.9 475.7 297.7 476.5 297.6C477.3 297.5 478.2 297.4 479.0 297.3C479.8 297.3 480.7 297.3 481.5 297.3C482.3 297.3 483.1 297.3 483.9 297.4C484.8 297.5 485.6 297.6 486.4 297.7C487.2 297.8 488.1 297.9 488.9 298.0C489.7 298.1 490.6 298.2 491.4 298.3C492.2 298.4 493.0 298.5 493.9 298.6C494.7 298.7 495.5 298.8 496.3 298.9C497.1 299.0 498.0 299.0 498.8 299.1C499.6 299.2 500.4 299.2 501.3 299.3C502.1 299.3 503.3 299.3 503.8 299.4" fill="none" stroke="#98f098" stroke-width="1.00" />
<path d="M404.8 299.6C405.2 299.6 406.4 299.6 407.2 299.6C408.1 299.6 408.9 299.6 409.7 299.6C410.5 299.6 411.4 299.6 412.2 299.6C413.0 299.6 413.8 299.6 414.6 299.6C415.5 299.6 416.3 299.6 417.1 299.6C417.9 299.6 418.8 299.6 419.6 299.6C420.4 299.6 421.2 299.6 422.1 299.6C422.9 299.6 423.7 299.6 424.6 299.6C425.4 299.6 426.2 299.6 427.0 299.6C427.8 299.7 428.7 299.7 429.5 299.7C430.3 299.7 431.2 299.7 432.0 299.8C432.8 299.8 433.6 299.8 434.4 299.9C435.3 299.9 436.1 300.0 436.9 300.1C437.8 300.2 438.6 300.3 439.4 300.4C440.2 300.4 441.1 300.5 441.9 300.6C442.7 300.7 443.5 300.9 444.4 301.0C445.2 301.1 446.0 301.2 446.8 301.2C447.6 301.3 448.5 301.4 449.3 301.5C450.1 301.5 450.9 301.6 451.8 301.6C452.6 301.6 453.4 301.7 454.2 301.6C455.1 301.6 455.9 301.6 456.7 301.6C457.6 301.5 458.4 301.5 459.2 301.4C460.0 301.3 460.9 301.2 461.7 301.0C462.5 300.9 463.3 300.8 464.1 300.6C465.0 300.4 465.8 300.2 466.6 300.0C467.4 299.9 468.3 299.7 469.1 299.5C469.9 299.3 470.8 299.1 471.6 299.0C472.4 298.8 473.2 298.6 474.1 298.5C474.9 298.4 475.7 298.2 476.5 298.2C477.3 298.1 478.2 298.0 479.0 298.0C479.8 297.9 480.7 297.9 481.5 297.9C482.3 297.9 483.1 298.0 483.9 298.0C484.8 298.1 485.6 298.1 486.4 298.2C487.2 298.3 488.1 298.4 488.9 298.4C489.7 298.5 490.6 298.6 491.4 298.7C492.2 298.8 493.0 298.8 493.9 298.9C494.7 299.0 495.5 299.0 496.3 299.1C497.1 299.1 498.0 299.2 498.8 299.2C499.6 299.3 500.4 299.3 501.3 299.3C502.1 299.4 503.3 299.4 503.8 299.4" fill="none" stroke="#90f2c0" stroke-width="1.00" />
<path d="M404.8 299.6C405.2 299.6 406.4 299.6 407.2 299.6C408.1 299.6 408.9 299.6 409.7 299.6C410.5 299.6 411.4 299.6 412.2 299.6C413.0 299.6 413.8 299.6 414.6 299.6C415.5 299.6 416.3 299.6 417.1 299.6C417.9 299.6 418.8 299.6 419.6 299.6C420.4 299.6 421.2 299.6 422.1 299.6C422.9 299.6 423.7 299.6 424.6 299.6C425.4 299.6 426.2 299.6 427.0 299.6C427.8 299.6 428.7 299.6 429.5 299.6C430.3 299.6 431.2 299.7 432.0 299.7C432.8 299.7 433.6 299.7 434.4 299.8C435.3 299.8 436.1 299.8 436.9 299.9C437.8 299.9 438.6 300.0 439.4 300.0C440.2 300.1 441.1 300.1 441.9 300.2C442.7 300.2 443.5 300.3 444.4 300.4C445.2 300.4 446.0 300.5 446.8 300.5C447.6 300.6 448.5 300.6 449.3 300.7C450.1 300.7 450.9 300.7 451.8 300.7C452.6 300.7 453.4 300.8 454.2 300.8C455.1 300.8 455.9 300.7 456.7 300.7C457.6 300.7 458.4 300.6 459.2 300.6C460.0 300.5 460.9 300.5 461.7 300.4C462.5 300.3 463.3 300.3 464.1 300.2C465.0 300.1 465.8 300.0 466.6 299.8C467.4 299.7 468.3 299.6 469.1 299.5C469.9 299.4 470.8 299.3 471.6 299.2C472.4 299.1 473.2 299.0 474.1 299.0C474.9 298.9 475.7 298.8 476.5 298.8C477.3 298.7 478.2 298.7 479.0 298.7C479.8 298.6 480.7 298.6 481.5 298.6C482.3 298.6 483.1 298.7 483.9 298.7C484.8 298.7 485.6 298.8 486.4 298.8C487.2 298.8 488.1 298.9 488.9 298.9C489.7 299.0 490.6 299.0 491.4 299.1C492.2 299.1 493.0 299.1 493.9 299.2C494.7 299.2 495.5 299.3 496.3 299.3C497.1 299.3 498.0 299.4 498.8 299.4C499.6 299.4 500.4 299.4 501.3 299.5C502.1 299.5 503.3 299.5 503.8 299.5" fill="none" stroke="#7af0e0" stroke-width="1.00" />
<path d="M404.8 299.6C405.2 299.6 406.4 299.6 407.2 299.6C408.1 299.6 408.9 299.6 409.7 299.6C410.5 299.6 411.4 299.6 412.2 299.6C413.0 299.6 413.8 299.6 414.6 299.6C415.5 299.6 416.3 299.6 417.1 299.6C417.9 299.6 418.8 299.6 419.6 299.6C420.4 299.6 421.2 299.6 422.1 299.6C422.9 299.6 423.7 299.6 424.6 299.6C425.4 299.6 426.2 299.6 427.0 299.6C427.8 299.6 428.7 299.6 429.5 299.6C430.3 299.6 431.2 299.6 432.0 299.6C432.8 299.6 433.6 299.7 434.4 299.7C435.3 299.7 436.1 299.7 436.9 299.7C437.8 299.8 438.6 299.8 439.4 299.8C440.2 299.8 441.1 299.9 441.9 299.9C442.7 299.9 443.5 300.0 444.4 300.0C445.2 300.0 446.0 300.1 446.8 300.1C447.6 300.1 448.5 300.2 449.3 300.2C450.1 300.2 450.9 300.2 451.8 300.2C452.6 300.2 453.4 300.2 454.2 300.2C455.1 300.2 455.9 300.2 456.7 300.2C457.6 300.2 458.4 300.2 459.2 300.2C460.0 300.1 460.9 300.1 461.7 300.0C462.5 300.0 463.3 300.0 464.1 299.9C465.0 299.9 465.8 299.8 466.6 299.7C467.4 299.7 468.3 299.6 469.1 299.6C469.9 299.5 470.8 299.4 471.6 299.4C472.4 299.3 473.2 299.3 474.1 299.2C474.9 299.2 475.7 299.2 476.5 299.1C477.3 299.1 478.2 299.1 479.0 299.1C479.8 299.1 480.7 299.1 481.5 299.1C482.3 299.1 483.1 299.1 483.9 299.1C484.8 299.1 485.6 299.1 486.4 299.1C487.2 299.2 488.1 299.2 488.9 299.2C489.7 299.2 490.6 299.3 491.4 299.3C492.2 299.3 493.0 299.3 493.9 299.4C494.7 299.4 495.5 299.4 496.3 299.4C497.1 299.4 498.0 299.5 498.8 299.5C499.6 299.5 500.4 299.5 501.3 299.5C502.1 299.5 503.3 299.5 503.8 299.5" fill="none" stroke="#78e4f8" stroke-width="1.00" />
<path d="M404.8 299.6C405.2 299.6 406.4 299.6 407.2 299.6C408.1 299.6 408.9 299.6 409.7 299.6C410.5 299.6 411.4 299.6 412.2 299.6C413.0 299.6 413.8 299.6 414.6 299.6C415.5 299.6 416.3 299.6 417.1 299.6C417.9 299.6 418.8 299.6 419.6 299.6C420.4 299.6 421.2 299.6 422.1 299.6C422.9 299.6 423.7 299.6 424.6 299.6C425.4 299.6 426.2 299.6 427.0 299.6C427.8 299.6 428.7 299.6 429.5 299.6C430.3 299.6 431.2 299.6 432.0 299.6C432.8 299.6 433.6 299.6 434.4 299.6C435.3 299.6 436.1 299.6 436.9 299.6C437.8 299.7 438.6 299.7 439.4 299.7C440.2 299.7 441.1 299.7 441.9 299.7C442.7 299.7 443.5 299.8 444.4 299.8C445.2 299.8 446.0 299.8 446.8 299.8C447.6 299.8 448.5 299.8 449.3 299.9C450.1 299.9 450.9 299.9 451.8 299.9C452.6 299.9 453.4 299.9 454.2 299.9C455.1 299.9 455.9 299.9 456.7 299.9C457.6 299.9 458.4 299.9 459.2 299.8C460.0 299.8 460.9 299.8 461.7 299.8C462.5 299.8 463.3 299.8 464.1 299.7C465.0 299.7 465.8 299.7 466.6 299.7C467.4 299.6 468.3 299.6 469.1 299.6C469.9 299.5 470.8 299.5 471.6 299.5C472.4 299.5 473.2 299.5 474.1 299.4C474.9 299.4 475.7 299.4 476.5 299.4C477.3 299.4 478.2 299.4 479.0 299.4C479.8 299.4 480.7 299.4 481.5 299.4C482.3 299.4 483.1 299.4 483.9 299.4C484.8 299.4 485.6 299.4 486.4 299.4C487.2 299.4 488.1 299.4 488.9 299.4C489.7 299.4 490.6 299.5 491.4 299.5C492.2 299.5 493.0 299.5 493.9 299.5C494.7 299.5 495.5 299.5 496.3 299.5C497.1 299.5 498.0 299.5 498.8 299.5C499.6 299.6 500.4 299.6 501.3 299.6C502.1 299.6 503.3 299.6 503.8 299.6" fill="none" stroke="#68b8f4" stroke-width="1.00" />
<path d="M404.8 299.6C405.2 299.6 406.4 299.6 407.2 299.6C408.1 299.6 408.9 299.6 409.7 299.6C410.5 299.6 411.4 299.6 412.2 299.6C413.0 299.6 413.8 299.6 414.6 299.6C415.5 299.6 416.3 299.6 417.1 299.6C417.9 299.6 418.8 299.6 419.6 299.6C420.4 299.6 421.2 299.6 422.1 299.6C422.9 299.6 423.7 299.6 424.6 299.6C425.4 299.6 426.2 299.6 427.0 299.6C427.8 299.6 428.7 299.6 429.5 299.6C430.3 299.6 431.2 299.6 432.0 299.6C432.8 299.6 433.6 299.6 434.4 299.6C435.3 299.6 436.1 299.6 436.9 299.6C437.8 299.6 438.6 299.6 439.4 299.6C440.2 299.6 441.1 299.6 441.9 299.6C442.7 299.6 443.5 299.6 444.4 299.6C445.2 299.6 446.0 299.6 446.8 299.6C447.6 299.6 448.5 299.6 449.3 299.7C450.1 299.7 450.9 299.7 451.8 299.7C452.6 299.7 453.4 299.7 454.2 299.7C455.1 299.7 455.9 299.7 456.7 299.7C457.6 299.7 458.4 299.7 459.2 299.7C460.0 299.7 460.9 299.7 461.7 299.7C462.5 299.7 463.3 299.6 464.1 299.6C465.0 299.6 465.8 299.6 466.6 299.6C467.4 299.6 468.3 299.6 469.1 299.6C469.9 299.6 470.8 299.6 471.6 299.6C472.4 299.5 473.2 299.5 474.1 299.5C474.9 299.5 475.7 299.5 476.5 299.5C477.3 299.5 478.2 299.5 479.0 299.5C479.8 299.5 480.7 299.5 481.5 299.5C482.3 299.5 483.1 299.5 483.9 299.5C484.8 299.5 485.6 299.5 486.4 299.5C487.2 299.5 488.1 299.5 488.9 299.5C489.7 299.5 490.6 299.5 491.4 299.5C492.2 299.6 493.0 299.6 493.9 299.6C494.7 299.6 495.5 299.6 496.3 299.6C497.1 299.6 498.0 299.6 498.8 299.6C499.6 299.6 500.4 299.6 501.3 299.6C502.1 299.6 503.3 299.6 503.8 299.6" fill="none" stroke="#6498f4" stroke-width="1.00" />
<path d="M404.8 299.6C405.2 299.6 406.4 299.6 407.2 299.6C408.1 299.6 408.9 299.6 409.7 299.6C410.5 299.6 411.4 299.6 412.2 299.6C413.0 299.6 413.8 299.6 414.6 299.6C415.5 299.6 416.3 299.6 417.1 299.6C417.9 299.6 418.8 299.6 419.6 299.6C420.4 299.6 421.2 299.6 422.1 299.6C422.9 299.6 423.7 299.6 424.6 299.6C425.4 299.6 426.2 299.6 427.0 299.6C427.8 299.6 428.7 299.6 429.5 299.6C430.3 299.6 431.2 299.6 432.0 299.6C432.8 299.6 433.6 299.6 434.4 299.6C435.3 299.6 436.1 299.6 436.9 299.6C437.8 299.6 438.6 299.6 439.4 299.6C440.2 299.6 441.1 299.6 441.9 299.6C442.7 299.6 443.5 299.6 444.4 299.6C445.2 299.6 446.0 299.6 446.8 299.6C447.6 299.6 448.5 299.6 449.3 299.7C450.1 299.7 450.9 299.7 451.8 299.7C452.6 299.7 453.4 299.7 454.2 299.7C455.1 299.7 455.9 299.7 456.7 299.7C457.6 299.7 458.4 299.7 459.2 299.7C460.0 299.7 460.9 299.7 461.7 299.7C462.5 299.6 463.3 299.6 464.1 299.6C465.0 299.6 465.8 299.6 466.6 299.6C467.4 299.6 468.3 299.6 469.1 299.6C469.9 299.6 470.8 299.6 471.6 299.6C472.4 299.5 473.2 299.5 474.1 299.5C474.9 299.5 475.7 299.5 476.5 299.5C477.3 299.5 478.2 299.5 479.0 299.5C479.8 299.5 480.7 299.5 481.5 299.5C482.3 299.5 483.1 299.5 483.9 299.5C484.8 299.5 485.6 299.5 486.4 299.5C487.2 299.5 488.1 299.5 488.9 299.5C489.7 299.5 490.6 299.5 491.4 299.5C492.2 299.6 493.0 299.6 493.9 299.6C494.7 299.6 495.5 299.6 496.3 299.6C497.1 299.6 498.0 299.6 498.8 299.6C499.6 299.6 500.4 299.6 501.3 299.6C502.1 299.6 503.3 299.6 503.8 299.6" fill="none" stroke="#4a5cf8" stroke-width="1.00" />
<path d="M404.8 299.6C405.2 299.6 406.4 299.6 407.2 299.6C408.1 299.6 408.9 299.6 409.7 299.6C410.5 299.6 411.4 299.6 412.2 299.6C413.0 299.6 413.8 299.6 414.6 299.6C415.5 299.6 416.3 299.6 417.1 299.6C417.9 299.6 418.8 299.6 419.6 299.6C420.4 299.6 421.2 299.6 422.1 299.6C422.9 299.6 423.7 299.6 424.6 299.6C425.4 299.6 426.2 299.6 427.0 299.6C427.8 299.6 428.7 299.6 429.5 299.6C430.3 299.6 431.2 299.6 432.0 299.6C432.8 299.6 433.6 299.6 434.4 299.6C435.3 299.6 436.1 299.6 436.9 299.6C437.8 299.6 438.6 299.6 439.4 299.6C440.2 299.6 441.1 299.6 441.9 299.6C442.7 299.6 443.5 299.6 444.4 299.6C445.2 299.6 446.0 299.6 446.8 299.6C447.6 299.6 448.5 299.6 449.3 299.6C450.1 299.6 450.9 299.6 451.8 299.6C452.6 299.6 453.4 299.7 454.2 299.7C455.1 299.7 455.9 299.7 456.7 299.7C457.6 299.7 458.4 299.7 459.2 299.6C460.0 299.6 460.9 299.6 461.7 299.6C462.5 299.6 463.3 299.6 464.1 299.6C465.0 299.6 465.8 299.6 466.6 299.6C467.4 299.6 468.3 299.6 469.1 299.6C469.9 299.6 470.8 299.6 471.6 299.6C472.4 299.6 473.2 299.6 474.1 299.5C474.9 299.5 475.7 299.5 476.5 299.5C477.3 299.5 478.2 299.5 479.0 299.5C479.8 299.5 480.7 299.5 481.5 299.5C482.3 299.5 483.1 299.5 483.9 299.5C484.8 299.5 485.6 299.5 486.4 299.5C487.2 299.5 488.1 299.5 488.9 299.5C489.7 299.6 490.6 299.6 491.4 299.6C492.2 299.6 493.0 299.6 493.9 299.6C494.7 299.6 495.5 299.6 496.3 299.6C497.1 299.6 498.0 299.6 498.8 299.6C499.6 299.6 500.4 299.6 501.3 299.6C502.1 299.6 503.3 299.6 503.8 299.6" fill="none" stroke="#4252f6" stroke-width="1.00" />
<path d="M404.8 299.6C405.2 299.6 406.4 299.6 407.2 299.6C408.1 299.6 408.9 299.6 409.7 299.6C410.5 299.6 411.4 299.6 412.2 299.6C413.0 299.6 413.8 299.6 414.6 299.6C415.5 299.6 416.3 299.6 417.1 299.6C417.9 299.6 418.8 299.6 419.6 299.6C420.4 299.6 421.2 299.6 422.1 299.6C422.9 299.6 423.7 299.6 424.6 299.6C425.4 299.6 426.2 299.6 427.0 299.6C427.8 299.6 428.7 299.6 429.5 299.6C430.3 299.6 431.2 299.6 432.0 299.6C432.8 299.6 433.6 299.6 434.4 299.6C435.3 299.6 436.1 299.6 436.9 299.6C437.8 299.6 438.6 299.6 439.4 299.6C440.2 299.6 441.1 299.6 441.9 299.6C442.7 299.6 443.5 299.6 444.4 299.6C445.2 299.6 446.0 299.6 446.8 299.6C447.6 299.6 448.5 299.6 449.3 299.6C450.1 299.6 450.9 299.6 451.8 299.6C452.6 299.6 453.4 299.6 454.2 299.6C455.1 299.7 455.9 299.7 456.7 299.7C457.6 299.7 458.4 299.6 459.2 299.6C460.0 299.6 460.9 299.6 461.7 299.6C462.5 299.6 463.3 299.6 464.1 299.6C465.0 299.6 465.8 299.6 466.6 299.6C467.4 299.6 468.3 299.6 469.1 299.6C469.9 299.6 470.8 299.6 471.6 299.6C472.4 299.6 473.2 299.6 474.1 299.5C474.9 299.5 475.7 299.5 476.5 299.5C477.3 299.5 478.2 299.5 479.0 299.5C479.8 299.5 480.7 299.5 481.5 299.5C482.3 299.5 483.1 299.5 483.9 299.5C484.8 299.5 485.6 299.5 486.4 299.5C487.2 299.5 488.1 299.5 488.9 299.6C489.7 299.6 490.6 299.6 491.4 299.6C492.2 299.6 493.0 299.6 493.9 299.6C494.7 299.6 495.5 299.6 496.3 299.6C497.1 299.6 498.0 299.6 498.8 299.6C499.6 299.6 500.4 299.6 501.3 299.6C502.1 299.6 503.3 299.6 503.8 299.6" fill="none" stroke="#3c4cf4" stroke-width="1.00" />
<path d="M404.8 299.6C405.2 299.6 406.4 299.6 407.2 299.6C408.1 299.6 408.9 299.6 409.7 299.6C410.5 299.6 411.4 299.6 412.2 299.6C413.0 299.6 413.8 299.6 414.6 299.6C415.5 299.6 416.3 299.6 417.1 299.6C417.9 299.6 418.8 299.6 419.6 299.6C420.4 299.6 421.2 299.6 422.1 299.6C422.9 299.6 423.7 299.6 424.6 299.6C425.4 299.6 426.2 299.6 427.0 299.6C427.8 299.6 428.7 299.6 429.5 299.6C430.3 299.6 431.2 299.6 432.0 299.6C432.8 299.6 433.6 299.6 434.4 299.6C435.3 299.6 436.1 299.6 436.9 299.6C437.8 299.6 438.6 299.6 439.4 299.6C440.2 299.6 441.1 299.6 441.9 299.6C442.7 299.6 443.5 299.6 444.4 299.6C445.2 299.6 446.0 299.6 446.8 299.6C447.6 299.6 448.5 299.6 449.3 299.6C450.1 299.6 450.9 299.6 451.8 299.6C452.6 299.6 453.4 299.6 454.2 299.6C455.1 299.6 455.9 299.6 456.7 299.6C457.6 299.6 458.4 299.6 459.2 299.6C460.0 299.6 460.9 299.6 461.7 299.6C462.5 299.6 463.3 299.6 464.1 299.6C465.0 299.6 465.8 299.6 466.6 299.6C467.4 299.6 468.3 299.6 469.1 299.6C469.9 299.6 470.8 299.6 471.6 299.6C472.4 299.6 473.2 299.6 474.1 299.6C474.9 299.6 475.7 299.6 476.5 299.6C477.3 299.6 478.2 299.6 479.0 299.5C479.8 299.5 480.7 299.5 481.5 299.5C482.3 299.5 483.1 299.6 483.9 299.6C484.8 299.6 485.6 299.6 486.4 299.6C487.2 299.6 488.1 299.6 488.9 299.6C489.7 299.6 490.6 299.6 491.4 299.6C492.2 299.6 493.0 299.6 493.9 299.6C494.7 299.6 495.5 299.6 496.3 299.6C497.1 299.6 498.0 299.6 498.8 299.6C499.6 299.6 500.4 299.6 501.3 299.6C502.1 299.6 503.3 299.6 503.8 299.6" fill="none" stroke="#3848f2" stroke-width="1.00" />
<path d="M404.8 299.6C405.2 299.6 406.4 299.6 407.2 299.6C408.1 299.6 408.9 299.6 409.7 299.6C410.5 299.6 411.4 299.6 412.2 299.6C413.0 299.6 413.8 299.6 414.6 299.6C415.5 299.6 416.3 299.6 417.1 299.6C417.9 299.6 418.8 299.6 419.6 299.6C420.4 299.6 421.2 299.6 422.1 299.6C422.9 299.6 423.7 299.6 424.6 299.6C425.4 299.6 426.2 299.6 427.0 299.6C427.8 299.6 428.7 299.6 429.5 299.6C430.3 299.6 431.2 299.6 432.0 299.6C432.8 299.6 433.6 299.6 434.4 299.6C435.3 299.6 436.1 299.6 436.9 299.6C437.8 299.6 438.6 299.6 439.4 299.6C440.2 299.6 441.1 299.6 441.9 299.6C442.7 299.6 443.5 299.6 444.4 299.6C445.2 299.6 446.0 299.6 446.8 299.6C447.6 299.6 448.5 299.6 449.3 299.6C450.1 299.6 450.9 299.6 451.8 299.6C452.6 299.6 453.4 299.6 454.2 299.6C455.1 299.6 455.9 299.6 456.7 299.6C457.6 299.6 458.4 299.6 459.2 299.6C460.0 299.6 460.9 299.6 461.7 299.6C462.5 299.6 463.3 299.6 464.1 299.6C465.0 299.6 465.8 299.6 466.6 299.6C467.4 299.6 468.3 299.6 469.1 299.6C469.9 299.6 470.8 299.6 471.6 299.6C472.4 299.6 473.2 299.6 474.1 299.6C474.9 299.6 475.7 299.6 476.5 299.6C477.3 299.6 478.2 299.6 479.0 299.6C479.8 299.6 480.7 299.6 481.5 299.6C482.3 299.6 483.1 299.6 483.9 299.6C484.8 299.6 485.6 299.6 486.4 299.6C487.2 299.6 488.1 299.6 488.9 299.6C489.7 299.6 490.6 299.6 491.4 299.6C492.2 299.6 493.0 299.6 493.9 299.6C494.7 299.6 495.5 299.6 496.3 299.6C497.1 299.6 498.0 299.6 498.8 299.6C499.6 299.6 500.4 299.6 501.3 299.6C502.1 299.6 503.3 299.6 503.8 299.6" fill="none" stroke="#3444f0" stroke-width="1.00" />
<path d="M404.8 299.6C405.2 299.6 406.4 299.6 407.2 299.6C408.1 299.6 408.9 299.6 409.7 299.6C410.5 299.6 411.4 299.6 412.2 299.6C413.0 299.6 413.8 299.6 414.6 299.6C415.5 299.6 416.3 299.6 417.1 299.6C417.9 299.6 418.8 299.6 419.6 299.6C420.4 299.6 421.2 299.6 422.1 299.6C422.9 299.6 423.7 299.6 424.6 299.6C425.4 299.6 426.2 299.6 427.0 299.6C427.8 299.6 428.7 299.6 429.5 299.6C430.3 299.6 431.2 299.6 432.0 299.6C432.8 299.6 433.6 299.6 434.4 299.6C435.3 299.6 436.1 299.6 436.9 299.6C437.8 299.6 438.6 299.6 439.4 299.6C440.2 299.6 441.1 299.6 441.9 299.6C442.7 299.6 443.5 299.6 444.4 299.6C445.2 299.6 446.0 299.6 446.8 299.6C447.6 299.6 448.5 299.6 449.3 299.6C450.1 299.6 450.9 299.6 451.8 299.6C452.6 299.6 453.4 299.6 454.2 299.6C455.1 299.6 455.9 299.6 456.7 299.6C457.6 299.6 458.4 299.6 459.2 299.6C460.0 299.6 460.9 299.6 461.7 299.6C462.5 299.6 463.3 299.6 464.1 299.6C465.0 299.6 465.8 299.6 466.6 299.6C467.4 299.6 468.3 299.6 469.1 299.6C469.9 299.6 470.8 299.6 471.6 299.6C472.4 299.6 473.2 299.6 474.1 299.6C474.9 299.6 475.7 299.6 476.5 299.6C477.3 299.6 478.2 299.6 479.0 299.6C479.8 299.6 480.7 299.6 481.5 299.6C482.3 299.6 483.1 299.6 483.9 299.6C484.8 299.6 485.6 299.6 486.4 299.6C487.2 299.6 488.1 299.6 488.9 299.6C489.7 299.6 490.6 299.6 491.4 299.6C492.2 299.6 493.0 299.6 493.9 299.6C494.7 299.6 495.5 299.6 496.3 299.6C497.1 299.6 498.0 299.6 498.8 299.6C499.6 299.6 500.4 299.6 501.3 299.6C502.1 299.6 503.3 299.6 503.8 299.6" fill="none" stroke="#3040f0" stroke-width="1.00" />
<path d="M404.8 299.6C405.2 299.6 406.4 299.6 407.2 299.6C408.1 299.6 408.9 299.6 409.7 299.6C410.5 299.6 411.4 299.6 412.2 299.6C413.0 299.6 413.8 299.6 414.6 299.6C415.5 299.6 416.3 299.6 417.1 299.6C417.9 299.6 418.8 299.6 419.6 299.6C420.4 299.6 421.2 299.6 422.1 299.6C422.9 299.6 423.7 299.6 424.6 299.6C425.4 299.6 426.2 299.6 427.0 299.6C427.8 299.6 428.7 299.6 429.5 299.6C430.3 299.6 431.2 299.6 432.0 299.6C432.8 299.6 433.6 299.6 434.4 299.6C435.3 299.6 436.1 299.6 436.9 299.6C437.8 299.6 438.6 299.6 439.4 299.6C440.2 299.6 441.1 299.6 441.9 299.6C442.7 299.6 443.5 299.6 444.4 299.6C445.2 299.6 446.0 299.6 446.8 299.6C447.6 299.6 448.5 299.6 449.3 299.6C450.1 299.6 450.9 299.6 451.8 299.6C452.6 299.6 453.4 299.6 454.2 299.6C455.1 299.6 455.9 299.6 456.7 299.6C457.6 299.6 458.4 299.6 459.2 299.6C460.0 299.6 460.9 299.6 461.7 299.6C462.5 299.6 463.3 299.6 464.1 299.6C465.0 299.6 465.8 299.6 466.6 299.6C467.4 299.6 468.3 299.6 469.1 299.6C469.9 299.6 470.8 299.6 471.6 299.6C472.4 299.6 473.2 299.6 474.1 299.6C474.9 299.6 475.7 299.6 476.5 299.6C477.3 299.6 478.2 299.6 479.0 299.6C479.8 299.6 480.7 299.6 481.5 299.6C482.3 299.6 483.1 299.6 483.9 299.6C484.8 299.6 485.6 299.6 486.4 299.6C487.2 299.6 488.1 299.6 488.9 299.6C489.7 299.6 490.6 299.6 491.4 299.6C492.2 299.6 493.0 299.6 493.9 299.6C494.7 299.6 495.5 299.6 496.3 299.6C497.1 299.6 498.0 299.6 498.8 299.6C499.6 299.6 500.4 299.6 501.3 299.6C502.1 299.6 503.3 299.6 503.8 299.6" fill="none" stroke="#14145a" stroke-width="1.40" stroke-dasharray="1.1 0.7"/>
<rect x="404.1" y="299.0" width="1.3" height="1.3" fill="#a03030"/>
<rect x="406.6" y="299.0" width="1.3" height="1.3" fill="#a03030"/>
<rect x="409.1" y="299.0" width="1.3" height="1.3" fill="#a03030"/>
<rect x="411.5" y="299.0" width="1.3" height="1.3" fill="#a03030"/>
<rect x="414.0" y="299.0" width="1.3" height="1.3" fill="#a03030"/>
<rect x="416.5" y="299.1" width="1.3" height="1.3" fill="#a03030"/>
<rect x="419.0" y="299.4" width="1.3" height="1.3" fill="#a03030"/>
<rect x="421.4" y="299.9" width="1.3" height="1.3" fill="#a03030"/>
<rect x="423.9" y="300.6" width="1.3" height="1.3" fill="#a03030"/>
<rect x="426.4" y="301.6" width="1.3" height="1.3" fill="#a03030"/>
<rect x="428.9" y="303.3" width="1.3" height="1.3" fill="#a03030"/>
<rect x="431.3" y="306.2" width="1.3" height="1.3" fill="#a03030"/>
<rect x="433.8" y="311.2" width="1.3" height="1.3" fill="#a03030"/>
<rect x="436.3" y="318.6" width="1.3" height="1.3" fill="#a03030"/>
<rect x="438.8" y="327.8" width="1.3" height="1.3" fill="#a03030"/>
<rect x="441.2" y="337.9" width="1.3" height="1.3" fill="#a03030"/>
<rect x="443.7" y="347.9" width="1.3" height="1.3" fill="#a03030"/>
<rect x="446.2" y="356.4" width="1.3" height="1.3" fill="#a03030"/>
<rect x="448.7" y="362.0" width="1.3" height="1.3" fill="#a03030"/>
<rect x="451.1" y="364.2" width="1.3" height="1.3" fill="#a03030"/>
<rect x="453.6" y="363.4" width="1.3" height="1.3" fill="#a03030"/>
<rect x="456.1" y="360.0" width="1.3" height="1.3" fill="#a03030"/>
<rect x="458.6" y="354.5" width="1.3" height="1.3" fill="#a03030"/>
<rect x="461.0" y="347.2" width="1.3" height="1.3" fill="#a03030"/>
<rect x="463.5" y="338.1" width="1.3" height="1.3" fill="#a03030"/>
<rect x="466.0" y="326.8" width="1.3" height="1.3" fill="#a03030"/>
<rect x="468.5" y="313.4" width="1.3" height="1.3" fill="#a03030"/>
<rect x="470.9" y="297.9" width="1.3" height="1.3" fill="#a03030"/>
<rect x="473.4" y="283.2" width="1.3" height="1.3" fill="#a03030"/>
<rect x="475.9" y="268.6" width="1.3" height="1.3" fill="#a03030"/>
<rect x="478.4" y="255.8" width="1.3" height="1.3" fill="#a03030"/>
<rect x="480.8" y="246.6" width="1.3" height="1.3" fill="#a03030"/>
<rect x="483.3" y="242.3" width="1.3" height="1.3" fill="#a03030"/>
<rect x="485.8" y="242.9" width="1.3" height="1.3" fill="#a03030"/>
<rect x="488.2" y="247.5" width="1.3" height="1.3" fill="#a03030"/>
<rect x="490.7" y="254.7" width="1.3" height="1.3" fill="#a03030"/>
<rect x="493.2" y="263.0" width="1.3" height="1.3" fill="#a03030"/>
<rect x="495.7" y="271.0" width="1.3" height="1.3" fill="#a03030"/>
<rect x="498.2" y="278.2" width="1.3" height="1.3" fill="#a03030"/>
<rect x="500.6" y="284.2" width="1.3" height="1.3" fill="#a03030"/>
<rect x="503.1" y="288.7" width="1.3" height="1.3" fill="#a03030"/>
<path d="M380.4 234.8 V364.8" fill="none" stroke="#585858" stroke-width="0.8"/>
<path d="M380.0 369.6 H528.9" fill="none" stroke="#585858" stroke-width="0.8"/>
<path d="M378.2 364.4 H380.0" stroke="#585858" stroke-width="0.8"/>
<path d="M378.8 348.2 H380.0" stroke="#585858" stroke-width="0.8"/>
<path d="M378.2 332.0 H380.0" stroke="#585858" stroke-width="0.8"/>
<path d="M378.8 315.8 H380.0" stroke="#585858" stroke-width="0.8"/>
<path d="M378.2 299.6 H380.0" stroke="#585858" stroke-width="0.8"/>
<path d="M378.8 283.4 H380.0" stroke="#585858" stroke-width="0.8"/>
<path d="M378.2 267.2 H380.0" stroke="#585858" stroke-width="0.8"/>
<path d="M378.8 251.0 H380.0" stroke="#585858" stroke-width="0.8"/>
<path d="M378.2 234.8 H380.0" stroke="#585858" stroke-width="0.8"/>
<text x="377.0" y="236.7" font-family="Liberation Sans" font-size="5.10" text-anchor="end" fill="#222222" font-weight="normal"  stroke="#222222" stroke-width="0.18">0.0008</text>
<text x="377.0" y="269.1" font-family="Liberation Sans" font-size="5.10" text-anchor="end" fill="#222222" font-weight="normal"  stroke="#222222" stroke-width="0.18">0.0004</text>
<text x="377.0" y="301.5" font-family="Liberation Sans" font-size="5.10" text-anchor="end" fill="#222222" font-weight="normal"  stroke="#222222" stroke-width="0.18">0</text>
<text x="377.0" y="333.9" font-family="Liberation Sans" font-size="5.10" text-anchor="end" fill="#222222" font-weight="normal"  stroke="#222222" stroke-width="0.18">−0.0004</text>
<text x="377.0" y="366.3" font-family="Liberation Sans" font-size="5.10" text-anchor="end" fill="#222222" font-weight="normal"  stroke="#222222" stroke-width="0.18">−0.0008</text>
<path d="M380.0 369.6 V371.6" stroke="#585858" stroke-width="0.7"/>
<text x="380.0" y="377.8" font-family="Liberation Sans" font-size="5.00" text-anchor="middle" fill="#222222" font-weight="normal"  stroke="#222222" stroke-width="0.18">400</text>
<path d="M392.4 369.6 V371.6" stroke="#585858" stroke-width="0.7"/>
<path d="M404.8 369.6 V371.6" stroke="#585858" stroke-width="0.7"/>
<text x="404.8" y="377.8" font-family="Liberation Sans" font-size="5.00" text-anchor="middle" fill="#222222" font-weight="normal"  stroke="#222222" stroke-width="0.18">450</text>
<path d="M417.1 369.6 V371.6" stroke="#585858" stroke-width="0.7"/>
<path d="M429.5 369.6 V371.6" stroke="#585858" stroke-width="0.7"/>
<text x="429.5" y="377.8" font-family="Liberation Sans" font-size="5.00" text-anchor="middle" fill="#222222" font-weight="normal"  stroke="#222222" stroke-width="0.18">500</text>
<path d="M441.9 369.6 V371.6" stroke="#585858" stroke-width="0.7"/>
<path d="M454.2 369.6 V371.6" stroke="#585858" stroke-width="0.7"/>
<text x="454.2" y="377.8" font-family="Liberation Sans" font-size="5.00" text-anchor="middle" fill="#222222" font-weight="normal"  stroke="#222222" stroke-width="0.18">550</text>
<path d="M466.6 369.6 V371.6" stroke="#585858" stroke-width="0.7"/>
<path d="M479.0 369.6 V371.6" stroke="#585858" stroke-width="0.7"/>
<text x="479.0" y="377.8" font-family="Liberation Sans" font-size="5.00" text-anchor="middle" fill="#222222" font-weight="normal"  stroke="#222222" stroke-width="0.18">600</text>
<path d="M491.4 369.6 V371.6" stroke="#585858" stroke-width="0.7"/>
<path d="M503.8 369.6 V371.6" stroke="#585858" stroke-width="0.7"/>
<text x="503.8" y="377.8" font-family="Liberation Sans" font-size="5.00" text-anchor="middle" fill="#222222" font-weight="normal"  stroke="#222222" stroke-width="0.18">650</text>
<path d="M516.1 369.6 V371.6" stroke="#585858" stroke-width="0.7"/>
<path d="M528.5 369.6 V371.6" stroke="#585858" stroke-width="0.7"/>
<text x="528.5" y="377.8" font-family="Liberation Sans" font-size="5.00" text-anchor="middle" fill="#222222" font-weight="normal"  stroke="#222222" stroke-width="0.18">700</text>
<text x="454.2" y="384.6" font-family="Liberation Sans" font-size="5.45" text-anchor="middle" fill="#222222" font-weight="normal"  stroke="#222222" stroke-width="0.18">Wavelength (nm)</text>
<text transform="translate(357.4 300.3) rotate(-90)" font-family="Liberation Sans" font-size="5.15" text-anchor="middle" fill="#222222" stroke="#222222" stroke-width="0.15">Second derivative of K-M function</text>
<rect x="380.2" y="235.3" width="16.4" height="11.5" fill="#dfe2e2"/>
<text x="388.5" y="244.2" font-family="Liberation Serif" font-size="9.50" text-anchor="middle" fill="#111" font-weight="bold" >d</text>
</svg>
</body></html>
